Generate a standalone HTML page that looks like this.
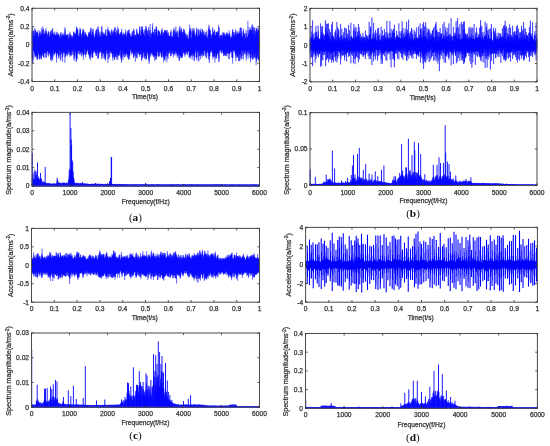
<!DOCTYPE html>
<html><head><meta charset="utf-8"><title>Vibration signals and spectra</title>
<style>html,body{margin:0;padding:0;background:#fff;}svg{display:block;}</style></head>
<body><svg width="550" height="446" viewBox="0 0 550 446" font-family="'Liberation Sans', Arial, sans-serif" fill="#333" stroke="#333" stroke-width="0.25">
<rect width="550" height="446" fill="#fff" stroke="none"/>
<path d="M32.12 30.91V58.69M32.38 33.10V60.19M32.62 26.64V63.57M32.88 31.46V62.35M33.12 30.40V59.52M33.38 30.85V51.16M33.62 35.66V50.61M33.88 36.83V50.72M34.12 36.47V50.82M34.38 35.80V53.00M34.62 31.13V54.48M34.88 27.88V57.50M35.12 29.41V54.64M35.38 33.94V55.69M35.62 30.07V55.81M35.88 31.34V56.64M36.12 32.44V57.56M36.38 31.97V55.87M36.62 34.30V55.19M36.88 33.05V56.77M37.12 31.86V59.95M37.38 32.83V59.25M37.62 32.75V59.15M37.88 30.34V58.64M38.12 37.07V52.27M38.38 35.75V52.41M38.62 37.78V54.30M38.88 36.76V54.39M39.12 33.37V55.58M39.38 30.77V59.45M39.62 33.89V59.09M39.88 33.06V57.14M40.12 32.58V54.99M40.38 35.10V54.62M40.62 35.45V56.72M40.88 32.81V58.27M41.12 31.20V59.51M41.38 27.98V59.03M41.62 36.31V54.71M41.88 33.76V54.70M42.12 33.76V51.75M42.38 34.57V55.66M42.62 29.95V53.67M42.88 26.31V53.01M43.12 29.07V56.50M43.38 28.66V57.32M43.62 32.50V57.64M43.88 34.12V54.07M44.12 35.57V53.57M44.38 34.55V52.69M44.62 33.55V50.59M44.88 30.63V53.72M45.12 33.71V57.91M45.38 34.05V53.00M45.62 32.58V51.72M45.88 28.07V52.91M46.12 30.69V56.88M46.38 30.97V57.86M46.62 31.43V53.36M46.88 34.38V51.12M47.12 35.70V51.55M47.38 37.80V50.28M47.62 34.79V50.43M47.88 33.13V54.83M48.12 33.79V51.85M48.38 32.29V56.65M48.62 30.96V53.32M48.88 32.00V54.21M49.12 35.77V51.43M49.38 36.21V50.36M49.62 37.44V53.05M49.88 37.22V54.66M50.12 33.94V55.76M50.38 31.59V52.97M50.62 31.13V59.07M50.88 33.97V59.98M51.12 32.32V61.48M51.38 29.94V58.71M51.62 34.20V56.11M51.88 37.42V53.08M52.12 32.93V54.27M52.38 29.41V60.48M52.62 27.96V59.61M52.88 31.35V57.33M53.12 34.23V49.49M53.38 35.23V50.44M53.62 33.91V55.55M53.88 36.27V53.04M54.12 32.82V53.86M54.38 34.15V53.52M54.62 34.22V55.21M54.88 31.57V52.37M55.12 34.61V51.96M55.38 35.41V52.33M55.62 35.78V52.62M55.88 34.70V49.98M56.12 35.30V54.07M56.38 33.57V57.96M56.62 31.71V62.58M56.88 34.26V55.78M57.12 35.04V53.78M57.38 35.18V52.52M57.62 32.26V53.66M57.88 36.29V53.65M58.12 35.95V51.82M58.38 34.34V55.71M58.62 33.61V57.74M58.88 33.67V58.81M59.12 35.72V56.60M59.38 37.64V54.71M59.62 36.63V50.79M59.88 38.75V49.96M60.12 36.84V50.13M60.38 34.95V55.35M60.62 32.23V60.77M60.88 33.76V59.37M61.12 37.41V54.50M61.38 39.19V51.43M61.62 35.34V53.30M61.88 32.30V51.50M62.12 37.08V53.65M62.38 34.86V57.37M62.62 35.26V61.68M62.88 33.71V56.45M63.12 36.01V51.55M63.38 35.38V50.86M63.62 34.45V53.08M63.88 35.27V53.64M64.12 32.73V51.85M64.38 35.18V51.02M64.62 35.36V53.03M64.88 27.14V62.83M65.12 28.97V56.78M65.38 31.60V57.33M65.62 35.58V54.12M65.88 36.50V50.59M66.12 34.86V55.46M66.38 35.00V54.47M66.62 34.79V53.29M66.88 36.13V52.32M67.12 37.76V54.22M67.38 34.53V56.36M67.62 34.76V51.97M67.88 33.94V53.82M68.12 34.36V54.47M68.38 36.75V52.70M68.62 39.11V48.81M68.88 39.11V49.05M69.12 38.27V51.14M69.38 38.16V52.07M69.62 33.14V54.47M69.88 31.68V56.73M70.12 34.34V54.53M70.38 36.22V51.81M70.62 35.33V55.52M70.88 34.72V54.71M71.12 35.58V56.33M71.38 35.69V55.25M71.62 37.95V52.15M71.88 38.03V51.87M72.12 38.36V50.47M72.38 36.80V50.79M72.62 38.32V55.07M72.88 35.10V51.44M73.12 36.32V48.97M73.38 36.42V50.92M73.62 32.14V53.54M73.88 31.45V58.88M74.12 33.02V60.79M74.38 32.72V55.29M74.62 34.11V57.75M74.88 34.34V53.37M75.12 35.90V50.35M75.38 35.64V51.91M75.62 33.16V50.66M75.88 34.33V56.87M76.12 31.11V61.92M76.38 26.46V59.96M76.62 27.24V61.33M76.88 30.07V58.72M77.12 29.24V59.00M77.38 28.56V54.66M77.62 28.87V52.62M77.88 30.48V50.55M78.12 33.93V50.42M78.38 36.11V54.12M78.62 37.20V50.37M78.88 35.79V51.09M79.12 35.23V51.03M79.38 37.14V50.39M79.62 32.82V53.89M79.88 27.83V55.17M80.12 30.59V52.65M80.38 28.96V51.89M80.62 29.70V52.89M80.88 35.51V51.62M81.12 34.02V54.88M81.38 34.07V56.43M81.62 37.69V52.84M81.88 37.45V52.19M82.12 36.99V51.86M82.38 32.27V52.54M82.62 32.30V52.93M82.88 29.00V54.83M83.12 29.00V56.46M83.38 31.31V59.71M83.62 30.16V54.63M83.88 31.41V54.37M84.12 31.52V53.63M84.38 35.21V54.62M84.62 37.04V49.05M84.88 35.61V48.57M85.12 32.83V49.98M85.38 33.37V54.62M85.62 32.40V57.29M85.88 34.12V54.71M86.12 36.52V51.18M86.38 36.12V51.76M86.62 35.18V54.18M86.88 35.00V51.87M87.12 36.27V49.94M87.38 37.03V48.83M87.62 37.39V50.21M87.88 37.86V50.79M88.12 38.21V52.02M88.38 33.05V54.12M88.62 35.19V53.75M88.88 32.74V55.34M89.12 31.90V54.62M89.38 31.66V58.84M89.62 34.75V56.88M89.88 33.73V56.67M90.12 34.40V54.08M90.38 31.50V55.73M90.62 28.27V60.43M90.88 29.48V57.22M91.12 27.43V53.90M91.38 33.93V52.24M91.62 34.29V50.03M91.88 35.81V54.52M92.12 36.47V57.32M92.38 31.43V57.95M92.62 31.40V56.57M92.88 28.80V57.55M93.12 28.79V52.81M93.38 33.25V52.55M93.62 34.41V51.07M93.88 38.75V49.79M94.12 36.93V50.58M94.38 37.75V51.40M94.62 36.36V51.19M94.88 37.66V51.37M95.12 33.20V53.19M95.38 35.24V53.47M95.62 30.61V53.75M95.88 33.56V52.07M96.12 31.19V56.02M96.38 29.08V56.18M96.62 30.38V54.19M96.88 28.79V52.35M97.12 34.29V49.71M97.38 35.47V48.68M97.62 35.27V52.93M97.88 26.81V58.84M98.12 26.44V58.53M98.38 29.69V58.01M98.62 29.99V57.33M98.88 31.79V53.83M99.12 33.16V54.04M99.38 36.76V52.03M99.62 37.26V51.11M99.88 35.82V51.86M100.12 31.68V51.30M100.38 34.49V52.95M100.62 36.27V52.01M100.88 39.47V49.69M101.12 36.60V50.27M101.38 31.84V51.29M101.62 27.12V59.09M101.88 25.82V56.04M102.12 34.29V52.39M102.38 36.17V52.30M102.62 31.45V54.75M102.88 33.31V58.16M103.12 32.73V54.07M103.38 35.01V52.61M103.62 34.50V52.35M103.88 32.73V54.11M104.12 34.93V58.69M104.38 35.92V52.59M104.62 34.41V56.31M104.88 34.98V58.30M105.12 32.92V58.70M105.38 33.10V60.59M105.62 30.35V59.86M105.88 29.06V56.39M106.12 35.46V49.33M106.38 36.79V49.31M106.62 36.96V51.18M106.88 36.02V53.85M107.12 36.18V53.24M107.38 34.90V51.87M107.62 29.34V54.48M107.88 26.81V63.07M108.12 29.63V58.61M108.38 32.64V53.08M108.62 31.82V50.93M108.88 30.90V59.23M109.12 30.10V57.55M109.38 32.88V52.24M109.62 34.32V49.84M109.88 31.69V56.70M110.12 32.56V52.97M110.38 34.49V51.53M110.62 35.37V50.96M110.88 35.63V53.09M111.12 35.65V51.83M111.38 30.50V53.40M111.62 29.26V52.04M111.88 31.32V52.33M112.12 35.92V54.11M112.38 34.37V56.31M112.62 32.16V57.93M112.88 33.72V60.75M113.12 29.90V52.91M113.38 33.10V53.98M113.62 30.85V56.29M113.88 32.19V57.72M114.12 34.67V53.90M114.38 32.11V59.62M114.62 28.12V59.77M114.88 27.75V57.38M115.12 26.83V55.78M115.38 32.38V57.22M115.62 32.43V56.37M115.88 34.16V53.05M116.12 36.60V53.99M116.38 35.41V54.78M116.62 29.64V57.72M116.88 31.66V60.03M117.12 34.45V55.03M117.38 34.10V52.69M117.62 26.51V56.53M117.88 31.20V59.99M118.12 32.90V53.19M118.38 29.49V56.26M118.62 28.61V55.13M118.88 32.98V54.33M119.12 33.82V55.91M119.38 35.03V54.99M119.62 36.86V53.26M119.88 34.11V51.98M120.12 34.13V49.01M120.38 36.33V50.63M120.62 32.84V57.14M120.88 32.47V58.85M121.12 32.07V55.26M121.38 31.98V60.73M121.62 28.61V62.81M121.88 31.68V58.42M122.12 37.22V50.03M122.38 37.80V50.32M122.62 34.03V54.46M122.88 35.63V59.85M123.12 35.51V56.81M123.38 32.67V55.34M123.62 34.41V53.59M123.88 34.70V53.15M124.12 37.06V49.58M124.38 35.44V53.91M124.62 33.82V57.39M124.88 33.70V56.95M125.12 34.94V53.31M125.38 32.34V54.52M125.62 29.40V55.23M125.88 33.37V56.46M126.12 35.65V54.46M126.38 37.92V53.47M126.62 36.86V51.63M126.88 35.53V51.88M127.12 31.67V54.33M127.38 31.00V57.74M127.62 33.81V55.22M127.88 34.15V54.42M128.12 32.32V57.22M128.38 29.97V58.85M128.62 32.77V59.89M128.88 29.81V54.63M129.12 29.96V56.41M129.38 33.21V54.04M129.62 33.77V59.28M129.88 34.18V55.55M130.12 33.80V52.47M130.38 35.83V49.13M130.62 37.41V49.13M130.88 36.18V51.17M131.12 37.26V49.70M131.38 36.62V49.81M131.62 36.02V54.69M131.88 31.84V53.52M132.12 35.42V51.94M132.38 33.59V52.81M132.62 31.08V53.27M132.88 36.12V49.84M133.12 35.97V52.52M133.38 31.86V56.81M133.62 28.62V58.10M133.88 29.74V54.94M134.12 30.63V56.84M134.38 35.29V54.42M134.62 36.24V49.83M134.88 36.61V52.24M135.12 34.60V56.10M135.38 34.91V61.81M135.62 34.83V55.01M135.88 36.68V51.47M136.12 39.29V50.66M136.38 34.97V52.98M136.62 28.70V58.20M136.88 29.61V56.87M137.12 31.76V58.32M137.38 34.31V51.12M137.62 33.95V52.29M137.88 32.97V54.07M138.12 36.42V50.42M138.38 34.02V52.66M138.62 34.70V54.24M138.88 34.79V51.95M139.12 35.91V51.89M139.38 31.23V54.74M139.62 26.65V56.94M139.88 26.54V54.90M140.12 29.94V54.41M140.38 35.87V54.92M140.62 35.20V53.40M140.88 36.49V52.19M141.12 35.98V49.36M141.38 31.15V53.34M141.62 26.97V61.02M141.88 28.68V59.49M142.12 26.65V57.19M142.38 26.00V58.38M142.62 29.54V57.12M142.88 31.96V56.21M143.12 33.13V51.24M143.38 33.15V51.89M143.62 35.07V52.87M143.88 34.27V53.63M144.12 29.30V57.87M144.38 30.63V58.78M144.62 36.39V56.24M144.88 37.51V51.58M145.12 36.11V51.25M145.38 34.46V56.26M145.62 26.30V59.48M145.88 29.07V55.79M146.12 25.95V59.05M146.38 28.08V59.25M146.62 31.72V58.84M146.88 29.65V55.51M147.12 30.99V51.15M147.38 30.62V53.59M147.62 35.57V51.89M147.88 35.38V51.61M148.12 37.04V53.52M148.38 34.23V56.55M148.62 27.01V59.02M148.88 29.48V61.35M149.12 30.09V64.05M149.38 32.32V60.47M149.62 37.55V53.26M149.88 33.70V53.79M150.12 23.77V57.33M150.38 29.97V55.62M150.62 39.05V52.77M150.88 38.41V53.24M151.12 36.84V53.95M151.38 33.54V52.32M151.62 34.47V53.71M151.88 33.01V51.15M152.12 32.26V56.24M152.38 26.56V54.72M152.62 23.25V54.05M152.88 31.83V53.59M153.12 31.84V53.62M153.38 33.11V54.86M153.62 32.36V56.14M153.88 34.55V57.64M154.12 35.27V57.05M154.38 35.02V55.79M154.62 29.09V56.03M154.88 29.23V60.27M155.12 28.92V60.57M155.38 32.35V55.87M155.62 33.77V55.10M155.88 32.46V55.42M156.12 26.16V59.02M156.38 27.17V59.25M156.62 27.00V56.10M156.88 29.46V56.87M157.12 33.22V51.90M157.38 35.81V49.68M157.62 36.33V51.92M157.88 36.41V51.82M158.12 31.01V54.51M158.38 30.02V56.41M158.62 30.06V56.38M158.88 31.75V53.67M159.12 31.04V56.74M159.38 31.93V56.11M159.62 31.99V51.81M159.88 35.78V51.24M160.12 36.17V52.53M160.38 35.43V51.58M160.62 34.77V53.28M160.88 32.98V52.02M161.12 35.57V55.45M161.38 29.86V57.02M161.62 30.62V57.75M161.88 30.57V56.56M162.12 28.20V57.36M162.38 31.85V54.78M162.62 35.96V49.94M162.88 34.62V51.01M163.12 36.73V53.67M163.38 33.51V56.55M163.62 32.35V62.24M163.88 33.40V58.40M164.12 32.70V57.01M164.38 30.03V59.62M164.62 31.25V60.12M164.88 29.93V57.09M165.12 31.00V60.51M165.38 31.55V56.15M165.62 30.46V54.93M165.88 30.87V53.16M166.12 31.43V50.81M166.38 32.47V50.95M166.62 35.60V56.23M166.88 30.15V62.23M167.12 29.83V58.71M167.38 33.45V56.36M167.62 35.41V52.40M167.88 33.97V53.28M168.12 31.91V58.93M168.38 32.98V54.47M168.62 36.21V50.39M168.88 36.74V52.32M169.12 36.14V53.36M169.38 35.85V53.24M169.62 36.13V50.73M169.88 37.92V49.74M170.12 34.98V49.36M170.38 33.69V52.88M170.62 31.92V56.44M170.88 31.63V55.43M171.12 29.59V56.05M171.38 36.63V51.00M171.62 38.86V52.85M171.88 36.20V53.16M172.12 36.73V53.37M172.38 38.20V51.30M172.62 36.72V49.87M172.88 35.47V53.91M173.12 31.98V54.26M173.38 30.27V57.46M173.62 30.48V54.72M173.88 27.75V54.29M174.12 35.78V51.20M174.38 34.31V52.21M174.62 30.93V53.92M174.88 28.80V55.75M175.12 32.54V52.85M175.38 37.24V50.93M175.62 32.84V50.44M175.88 26.43V53.65M176.12 31.40V54.51M176.38 32.38V52.03M176.62 36.42V52.45M176.88 35.20V53.21M177.12 32.12V57.56M177.38 30.62V56.31M177.62 33.15V55.29M177.88 36.85V55.11M178.12 37.69V51.49M178.38 38.71V51.85M178.62 36.78V54.93M178.88 32.58V58.91M179.12 30.04V60.69M179.38 27.31V60.66M179.62 30.21V56.04M179.88 26.04V52.87M180.12 34.01V56.19M180.38 32.94V55.40M180.62 29.95V57.98M180.88 32.42V53.86M181.12 27.62V55.67M181.38 28.75V58.38M181.62 29.59V56.83M181.88 32.02V57.52M182.12 32.38V55.84M182.38 31.59V57.78M182.62 33.75V56.12M182.88 36.28V49.69M183.12 34.89V49.98M183.38 31.74V52.45M183.62 28.74V52.93M183.88 29.29V52.93M184.12 30.70V54.59M184.38 32.70V53.06M184.62 30.12V54.23M184.88 33.41V56.76M185.12 38.04V52.23M185.38 35.61V52.70M185.62 33.16V55.02M185.88 33.45V50.81M186.12 37.41V52.38M186.38 34.92V53.25M186.62 36.35V51.48M186.88 38.17V52.71M187.12 37.35V54.11M187.38 34.99V55.20M187.62 34.64V51.62M187.88 38.61V52.20M188.12 39.25V50.90M188.38 39.31V50.61M188.62 38.69V51.40M188.88 37.06V51.57M189.12 32.32V57.39M189.38 31.07V56.77M189.62 24.62V56.41M189.88 29.07V54.85M190.12 31.77V58.59M190.38 29.58V57.58M190.62 28.00V55.14M190.88 31.13V56.03M191.12 37.22V55.17M191.38 37.80V53.33M191.62 38.27V54.72M191.88 31.47V56.14M192.12 29.09V59.68M192.38 33.32V55.14M192.62 34.41V53.04M192.88 29.96V52.30M193.12 27.68V56.78M193.38 30.96V54.38M193.62 32.65V54.62M193.88 32.45V55.90M194.12 28.24V60.84M194.38 30.45V60.77M194.62 34.34V56.65M194.88 37.09V52.74M195.12 36.41V49.13M195.38 35.60V52.78M195.62 35.54V49.78M195.88 34.75V51.33M196.12 32.66V57.36M196.38 31.77V58.40M196.62 27.72V57.69M196.88 28.64V60.55M197.12 30.20V56.69M197.38 35.67V50.42M197.62 36.78V50.26M197.88 37.65V51.99M198.12 36.19V51.61M198.38 32.65V53.14M198.62 28.98V60.42M198.88 29.37V61.62M199.12 35.08V56.30M199.38 35.78V55.41M199.62 35.09V49.52M199.88 30.76V56.16M200.12 32.29V53.35M200.38 32.44V54.73M200.62 30.31V59.38M200.88 28.32V55.83M201.12 32.54V52.15M201.38 32.47V55.84M201.62 34.50V53.00M201.88 34.97V54.60M202.12 32.36V53.16M202.38 29.15V57.34M202.62 29.66V54.81M202.88 36.58V50.98M203.12 36.65V50.96M203.38 33.99V53.95M203.62 31.53V56.04M203.88 30.85V55.78M204.12 33.44V51.41M204.38 34.34V50.21M204.62 35.64V49.94M204.88 35.39V51.33M205.12 35.00V53.59M205.38 31.97V55.32M205.62 35.11V57.33M205.88 36.78V52.19M206.12 38.57V51.80M206.38 38.15V52.75M206.62 32.23V58.48M206.88 30.10V56.40M207.12 35.31V51.74M207.38 37.16V52.62M207.62 38.46V49.61M207.88 37.48V51.02M208.12 38.70V52.55M208.38 33.61V53.73M208.62 28.12V58.93M208.88 24.68V56.17M209.12 29.00V60.73M209.38 26.45V62.94M209.62 31.44V55.35M209.88 29.64V56.31M210.12 34.11V52.72M210.38 30.09V52.39M210.62 33.27V51.80M210.88 37.51V50.68M211.12 39.02V50.30M211.38 38.60V49.29M211.62 35.43V51.03M211.88 34.65V52.17M212.12 34.54V52.80M212.38 33.26V53.16M212.62 27.15V56.17M212.88 29.16V59.47M213.12 34.16V57.10M213.38 31.73V57.00M213.62 32.22V55.61M213.88 36.74V54.13M214.12 35.21V56.76M214.38 30.69V53.56M214.62 29.52V56.23M214.88 32.23V62.80M215.12 35.44V57.10M215.38 36.48V53.42M215.62 34.94V53.19M215.88 34.84V59.02M216.12 31.70V58.15M216.38 32.63V55.88M216.62 31.88V58.27M216.88 33.13V56.34M217.12 33.50V54.54M217.38 31.44V53.67M217.62 31.73V52.84M217.88 34.55V51.23M218.12 34.03V52.74M218.38 31.90V54.03M218.62 24.84V58.43M218.88 27.23V61.80M219.12 27.97V61.77M219.38 36.39V51.44M219.62 38.60V50.72M219.88 38.15V51.59M220.12 37.57V49.17M220.38 35.19V50.03M220.62 34.97V50.38M220.88 36.00V50.67M221.12 35.32V53.06M221.38 35.08V53.41M221.62 39.31V49.96M221.88 37.29V49.03M222.12 32.86V52.34M222.38 35.43V52.43M222.62 37.88V50.18M222.88 36.46V50.29M223.12 32.20V52.76M223.38 33.52V55.66M223.62 35.12V54.48M223.88 32.43V56.08M224.12 32.83V53.41M224.38 34.76V51.16M224.62 34.99V55.49M224.88 34.04V55.23M225.12 33.87V53.95M225.38 35.98V55.29M225.62 35.96V55.80M225.88 36.63V52.41M226.12 35.92V51.47M226.38 34.04V53.25M226.62 32.73V55.35M226.88 33.40V56.45M227.12 32.41V52.98M227.38 36.69V51.34M227.62 33.53V54.24M227.88 35.69V53.11M228.12 35.12V52.72M228.38 35.86V51.10M228.62 34.00V53.08M228.88 35.90V59.21M229.12 30.40V59.01M229.38 33.91V53.85M229.62 32.92V53.53M229.88 34.59V54.10M230.12 36.26V52.34M230.38 39.00V50.92M230.62 37.96V51.69M230.88 36.95V51.84M231.12 37.50V52.57M231.38 38.12V51.66M231.62 36.73V51.64M231.88 36.26V57.12M232.12 33.86V57.67M232.38 30.97V58.34M232.62 28.98V63.56M232.88 30.16V57.72M233.12 31.98V50.93M233.38 37.40V49.22M233.62 35.52V51.19M233.88 32.28V50.09M234.12 32.59V51.27M234.38 34.72V50.95M234.62 38.38V49.94M234.88 37.02V52.28M235.12 34.33V53.34M235.38 32.51V54.62M235.62 29.38V56.62M235.88 32.03V61.17M236.12 30.55V57.92M236.38 34.45V52.72M236.62 35.85V54.99M236.88 34.58V54.68M237.12 33.62V56.42M237.38 31.52V57.89M237.62 34.83V56.53M237.88 33.28V52.66M238.12 33.79V52.23M238.38 33.52V57.17M238.62 33.53V61.42M238.88 30.95V59.89M239.12 33.78V54.65M239.38 33.31V55.09M239.62 32.10V61.15M239.88 28.23V60.62M240.12 36.03V52.52M240.38 33.75V54.30M240.62 27.24V58.33M240.88 28.04V55.28M241.12 35.08V50.96M241.38 32.78V50.45M241.62 28.05V59.20M241.88 31.32V58.61M242.12 35.64V56.14M242.38 38.42V49.92M242.62 38.04V51.51M242.88 36.18V50.55M243.12 32.43V55.44M243.38 30.76V59.46M243.62 28.77V53.50M243.88 34.58V49.56M244.12 33.82V50.19M244.38 34.74V54.18M244.62 33.20V53.66M244.88 38.52V50.75M245.12 38.40V51.72M245.38 36.69V51.52M245.62 38.83V50.05M245.88 32.94V54.94M246.12 30.00V57.88M246.38 33.87V60.32M246.62 38.05V53.11M246.88 36.93V50.83M247.12 37.98V53.20M247.38 38.45V51.82M247.62 36.30V50.99M247.88 20.75V55.80M248.12 30.21V58.80M248.38 35.44V53.83M248.62 33.67V49.85M248.88 33.73V50.75M249.12 27.01V52.72M249.38 32.60V50.33M249.62 30.25V54.08M249.88 30.40V57.22M250.12 30.57V54.48M250.38 30.03V59.26M250.62 28.21V62.25M250.88 29.22V58.25M251.12 30.14V53.63M251.38 25.32V58.00M251.62 30.74V55.31M251.88 35.01V50.11M252.12 30.90V51.33M252.38 26.54V58.31M252.62 24.31V59.99M252.88 28.07V58.70M253.12 30.31V56.82M253.38 33.17V54.32M253.62 35.60V53.05M253.88 26.94V59.02M254.12 27.13V57.31M254.38 29.40V57.37M254.62 29.23V56.94M254.88 36.31V53.87M255.12 35.38V51.19M255.38 33.29V54.45M255.62 31.32V58.12M255.88 31.05V58.91M256.12 27.88V65.19M256.38 28.03V62.01M256.62 28.39V58.88M256.88 32.35V58.82M257.12 31.58V57.95M257.38 29.54V53.04M257.62 32.53V55.05M257.88 30.86V57.31M258.12 27.35V59.78M258.38 28.44V60.84M258.62 29.89V59.01M258.88 34.33V51.13M259.12 34.82V49.53M259.38 35.12V52.44" stroke="#0000ff" stroke-width="0.620" fill="none"/>
<rect x="32.00" y="8.30" width="227.50" height="73.20" fill="none" stroke="#505050" stroke-width="1.05"/>
<path d="M32.00 81.50V79.30M32.00 8.30V10.50M54.75 81.50V79.30M54.75 8.30V10.50M77.50 81.50V79.30M77.50 8.30V10.50M100.25 81.50V79.30M100.25 8.30V10.50M123.00 81.50V79.30M123.00 8.30V10.50M145.75 81.50V79.30M145.75 8.30V10.50M168.50 81.50V79.30M168.50 8.30V10.50M191.25 81.50V79.30M191.25 8.30V10.50M214.00 81.50V79.30M214.00 8.30V10.50M236.75 81.50V79.30M236.75 8.30V10.50M259.50 81.50V79.30M259.50 8.30V10.50M32.00 81.50H34.20M259.50 81.50H257.30M32.00 63.20H34.20M259.50 63.20H257.30M32.00 44.90H34.20M259.50 44.90H257.30M32.00 26.60H34.20M259.50 26.60H257.30M32.00 8.30H34.20M259.50 8.30H257.30" stroke="#333" stroke-width="0.8" fill="none"/>
<text x="32.00" y="90.60" text-anchor="middle" font-size="6.70">0</text>
<text x="54.75" y="90.60" text-anchor="middle" font-size="6.70">0.1</text>
<text x="77.50" y="90.60" text-anchor="middle" font-size="6.70">0.2</text>
<text x="100.25" y="90.60" text-anchor="middle" font-size="6.70">0.3</text>
<text x="123.00" y="90.60" text-anchor="middle" font-size="6.70">0.4</text>
<text x="145.75" y="90.60" text-anchor="middle" font-size="6.70">0.5</text>
<text x="168.50" y="90.60" text-anchor="middle" font-size="6.70">0.6</text>
<text x="191.25" y="90.60" text-anchor="middle" font-size="6.70">0.7</text>
<text x="214.00" y="90.60" text-anchor="middle" font-size="6.70">0.8</text>
<text x="236.75" y="90.60" text-anchor="middle" font-size="6.70">0.9</text>
<text x="259.50" y="90.60" text-anchor="middle" font-size="6.70">1</text>
<text x="29.60" y="83.90" text-anchor="end" font-size="6.70">-0.4</text>
<text x="29.60" y="65.60" text-anchor="end" font-size="6.70">-0.2</text>
<text x="29.60" y="47.30" text-anchor="end" font-size="6.70">0</text>
<text x="29.60" y="29.00" text-anchor="end" font-size="6.70">0.2</text>
<text x="29.60" y="10.70" text-anchor="end" font-size="6.70">0.4</text>
<text x="144.95" y="99.30" text-anchor="middle" font-size="6.70">Time(t/s)</text>
<text transform="translate(12.60 44.90) rotate(-90)" text-anchor="middle" font-size="7.10">Acceleration(a/ms<tspan dy="-2.2" font-size="4.6">-2</tspan><tspan dy="2.2">)</tspan></text>
<path d="M32.17 178.79V186.50M32.50 175.45V186.50M32.83 174.64V186.50M33.17 179.99V186.50M33.50 178.59V186.50M33.83 172.21V186.50M34.17 179.45V186.50M34.50 178.77V186.50M34.84 169.52V186.50M35.17 171.34V186.50M35.50 173.96V186.50M35.84 172.45V186.50M36.17 170.94V186.50M36.50 175.04V186.50M36.84 179.39V186.50M37.17 176.78V186.50M37.50 177.53V186.50M37.84 178.52V186.50M38.17 177.02V186.50M38.50 178.54V186.50M38.84 176.49V186.50M39.17 180.73V186.50M39.51 178.85V186.50M39.84 179.32V186.50M40.17 180.06V186.50M40.51 178.82V186.50M40.84 180.74V186.50M41.17 178.21V186.50M41.51 178.73V186.50M41.84 182.52V186.50M42.17 181.41V186.50M42.51 182.27V186.50M42.84 183.20V186.50M43.17 180.63V186.50M43.51 182.04V186.50M43.84 183.08V186.50M44.18 181.75V186.50M44.51 182.98V186.50M44.84 181.97V186.50M45.18 183.18V186.50M45.51 183.74V186.50M45.84 183.26V186.50M46.18 183.13V186.50M46.51 183.38V186.50M46.84 182.90V186.50M47.18 182.89V186.50M47.51 183.52V186.50M47.84 183.72V186.50M48.18 183.44V186.50M48.51 182.99V186.50M48.85 183.62V186.50M49.18 183.10V186.50M49.51 183.66V186.50M49.85 183.79V186.50M50.18 183.44V186.50M50.51 183.44V186.50M50.85 183.70V186.50M51.18 183.84V186.50M51.51 183.99V186.50M51.85 183.97V186.50M52.18 184.02V186.50M52.52 183.49V186.50M52.85 183.48V186.50M53.18 183.72V186.50M53.52 183.36V186.50M53.85 183.54V186.50M54.18 184.02V186.50M54.52 183.54V186.50M54.85 183.55V186.50M55.18 183.88V186.50M55.52 183.59V186.50M55.85 183.94V186.50M56.18 183.74V186.50M56.52 183.54V186.50M56.85 182.30V186.50M57.19 180.40V186.50M57.52 181.23V186.50M57.85 179.98V186.50M58.19 182.59V186.50M58.52 182.61V186.50M58.85 183.32V186.50M59.19 182.62V186.50M59.52 182.59V186.50M59.85 183.07V186.50M60.19 183.34V186.50M60.52 183.11V186.50M60.85 182.78V186.50M61.19 183.58V186.50M61.52 183.79V186.50M61.86 182.98V186.50M62.19 183.44V186.50M62.52 182.70V186.50M62.86 182.80V186.50M63.19 182.81V186.50M63.52 182.85V186.50M63.86 182.63V186.50M64.19 182.91V186.50M64.52 182.57V186.50M64.86 183.42V186.50M65.19 182.92V186.50M65.52 183.40V186.50M65.86 183.09V186.50M66.19 182.85V186.50M66.53 182.61V186.50M66.86 183.00V186.50M67.19 183.63V186.50M67.53 183.23V186.50M67.86 183.58V186.50M68.19 180.45V186.50M68.53 181.52V186.50M68.86 179.15V186.50M69.19 176.66V186.50M69.53 178.60V186.50M69.86 168.61V186.50M70.19 170.14V186.50M70.53 175.73V186.50M70.86 171.63V186.50M71.20 176.93V186.50M71.53 170.41V186.50M71.86 174.78V186.50M72.20 177.61V186.50M72.53 176.37V186.50M72.86 171.00V186.50M73.20 172.01V186.50M73.53 177.56V186.50M73.86 178.33V186.50M74.20 181.42V186.50M74.53 183.00V186.50M74.86 182.93V186.50M75.20 183.09V186.50M75.53 182.82V186.50M75.87 183.73V186.50M76.20 183.70V186.50M76.53 183.18V186.50M76.87 182.73V186.50M77.20 182.90V186.50M77.53 183.15V186.50M77.87 183.86V186.50M78.20 182.97V186.50M78.53 183.34V186.50M78.87 183.59V186.50M79.20 183.25V186.50M79.53 183.66V186.50M79.87 183.34V186.50M80.20 183.31V186.50M80.54 182.98V186.50M80.87 183.48V186.50M81.20 183.51V186.50M81.54 183.34V186.50M81.87 183.59V186.50M82.20 183.80V186.50M82.54 183.79V186.50M82.87 183.52V186.50M83.20 183.95V186.50M83.54 183.35V186.50M83.87 183.41V186.50M84.20 183.83V186.50M84.54 183.59V186.50M84.87 183.73V186.50M85.21 183.36V186.50M85.54 184.05V186.50M85.87 183.75V186.50M86.21 183.85V186.50M86.54 183.62V186.50M86.87 183.63V186.50M87.21 183.87V186.50M87.54 184.19V186.50M87.87 183.67V186.50M88.21 184.07V186.50M88.54 184.16V186.50M88.88 183.86V186.50M89.21 184.12V186.50M89.54 184.16V186.50M89.88 184.07V186.50M90.21 183.95V186.50M90.54 184.12V186.50M90.88 183.99V186.50M91.21 183.73V186.50M91.54 184.06V186.50M91.88 184.11V186.50M92.21 184.03V186.50M92.54 183.75V186.50M92.88 183.84V186.50M93.21 183.99V186.50M93.55 183.73V186.50M93.88 183.84V186.50M94.21 183.87V186.50M94.55 184.04V186.50M94.88 184.14V186.50M95.21 183.90V186.50M95.55 183.93V186.50M95.88 183.87V186.50M96.21 184.09V186.50M96.55 183.76V186.50M96.88 184.12V186.50M97.21 183.72V186.50M97.55 183.75V186.50M97.88 184.18V186.50M98.22 184.19V186.50M98.55 183.68V186.50M98.88 183.79V186.50M99.22 184.01V186.50M99.55 184.18V186.50M99.88 184.28V186.50M100.22 184.16V186.50M100.55 183.71V186.50M100.88 183.93V186.50M101.22 184.03V186.50M101.55 183.89V186.50M101.88 183.80V186.50M102.22 184.11V186.50M102.55 183.90V186.50M102.89 184.13V186.50M103.22 184.03V186.50M103.55 184.32V186.50M103.89 184.30V186.50M104.22 184.08V186.50M104.55 184.27V186.50M104.89 183.90V186.50M105.22 184.29V186.50M105.55 183.79V186.50M105.89 184.20V186.50M106.22 184.25V186.50M106.55 184.15V186.50M106.89 184.03V186.50M107.22 183.81V186.50M107.56 183.87V186.50M107.89 183.93V186.50M108.22 183.97V186.50M108.56 183.92V186.50M108.89 184.04V186.50M109.22 184.19V186.50M109.56 183.84V186.50M109.89 184.01V186.50M110.22 183.85V186.50M110.56 184.34V186.50M110.89 184.17V186.50M111.22 184.27V186.50M111.56 184.11V186.50M111.89 184.01V186.50M112.23 184.22V186.50M112.56 184.02V186.50M112.89 184.28V186.50M113.23 184.10V186.50M113.56 184.11V186.50M113.89 184.17V186.50M114.23 184.31V186.50M114.56 184.00V186.50M114.89 183.86V186.50M115.23 183.90V186.50M115.56 184.38V186.50M115.89 184.08V186.50M116.23 184.16V186.50M116.56 184.11V186.50M116.90 184.33V186.50M117.23 184.05V186.50M117.56 184.24V186.50M117.90 183.93V186.50M118.23 184.46V186.50M118.56 184.20V186.50M118.90 184.16V186.50M119.23 183.99V186.50M119.56 184.07V186.50M119.90 184.40V186.50M120.23 184.27V186.50M120.56 184.07V186.50M120.90 184.23V186.50M121.23 184.34V186.50M121.57 184.01V186.50M121.90 184.08V186.50M122.23 184.34V186.50M122.57 184.24V186.50M122.90 184.03V186.50M123.23 184.42V186.50M123.57 184.06V186.50M123.90 184.09V186.50M124.23 184.18V186.50M124.57 184.18V186.50M124.90 184.22V186.50M125.23 184.29V186.50M125.57 184.29V186.50M125.90 184.45V186.50M126.24 184.30V186.50M126.57 184.25V186.50M126.90 184.36V186.50M127.24 184.26V186.50M127.57 184.37V186.50M127.90 184.22V186.50M128.24 184.27V186.50M128.57 184.57V186.50M128.90 184.25V186.50M129.24 184.49V186.50M129.57 184.59V186.50M129.91 184.58V186.50M130.24 184.48V186.50M130.57 184.39V186.50M130.91 184.48V186.50M131.24 184.54V186.50M131.57 184.27V186.50M131.91 184.46V186.50M132.24 184.22V186.50M132.57 184.52V186.50M132.91 184.31V186.50M133.24 184.47V186.50M133.57 184.24V186.50M133.91 184.33V186.50M134.24 184.32V186.50M134.58 184.60V186.50M134.91 184.28V186.50M135.24 184.47V186.50M135.58 184.29V186.50M135.91 184.24V186.50M136.24 184.59V186.50M136.58 184.64V186.50M136.91 184.28V186.50M137.24 184.18V186.50M137.58 184.21V186.50M137.91 184.44V186.50M138.24 184.25V186.50M138.58 184.63V186.50M138.91 184.62V186.50M139.25 184.37V186.50M139.58 184.39V186.50M139.91 184.25V186.50M140.25 184.54V186.50M140.58 184.43V186.50M140.91 184.17V186.50M141.25 184.50V186.50M141.58 184.45V186.50M141.91 184.36V186.50M142.25 184.17V186.50M142.58 184.56V186.50M142.91 184.32V186.50M143.25 184.45V186.50M143.58 184.46V186.50M143.92 184.53V186.50M144.25 184.43V186.50M144.58 184.38V186.50M144.92 184.46V186.50M145.25 184.41V186.50M145.58 184.35V186.50M145.92 184.24V186.50M146.25 184.38V186.50M146.58 184.47V186.50M146.92 184.19V186.50M147.25 184.57V186.50M147.58 184.63V186.50M147.92 184.22V186.50M148.25 184.53V186.50M148.59 184.58V186.50M148.92 184.47V186.50M149.25 184.49V186.50M149.59 184.48V186.50M149.92 184.25V186.50M150.25 184.52V186.50M150.59 184.59V186.50M150.92 184.55V186.50M151.25 184.20V186.50M151.59 184.45V186.50M151.92 184.48V186.50M152.25 184.29V186.50M152.59 184.21V186.50M152.92 184.41V186.50M153.26 184.27V186.50M153.59 184.53V186.50M153.92 184.49V186.50M154.26 184.38V186.50M154.59 184.54V186.50M154.92 184.53V186.50M155.26 184.57V186.50M155.59 184.53V186.50M155.92 184.26V186.50M156.26 184.28V186.50M156.59 184.60V186.50M156.92 184.49V186.50M157.26 184.32V186.50M157.59 184.25V186.50M157.93 184.39V186.50M158.26 184.31V186.50M158.59 184.55V186.50M158.93 184.29V186.50M159.26 184.27V186.50M159.59 184.47V186.50M159.93 184.55V186.50M160.26 184.64V186.50M160.59 184.36V186.50M160.93 184.36V186.50M161.26 184.66V186.50M161.59 184.41V186.50M161.93 184.22V186.50M162.26 184.65V186.50M162.60 184.60V186.50M162.93 184.63V186.50M163.26 184.46V186.50M163.60 184.48V186.50M163.93 184.25V186.50M164.26 184.63V186.50M164.60 184.57V186.50M164.93 184.22V186.50M165.26 184.65V186.50M165.60 184.54V186.50M165.93 184.48V186.50M166.27 184.66V186.50M166.60 184.53V186.50M166.93 184.38V186.50M167.27 184.37V186.50M167.60 184.38V186.50M167.93 184.36V186.50M168.27 184.38V186.50M168.60 184.65V186.50M168.93 184.36V186.50M169.27 184.39V186.50M169.60 184.56V186.50M169.93 184.47V186.50M170.27 184.55V186.50M170.60 184.26V186.50M170.94 184.54V186.50M171.27 184.59V186.50M171.60 184.29V186.50M171.94 184.31V186.50M172.27 184.27V186.50M172.60 184.35V186.50M172.94 184.47V186.50M173.27 184.44V186.50M173.60 184.41V186.50M173.94 184.39V186.50M174.27 184.23V186.50M174.60 184.54V186.50M174.94 184.31V186.50M175.27 184.66V186.50M175.61 184.58V186.50M175.94 184.23V186.50M176.27 184.55V186.50M176.61 184.43V186.50M176.94 184.24V186.50M177.27 184.36V186.50M177.61 184.44V186.50M177.94 184.34V186.50M178.27 184.21V186.50M178.61 184.23V186.50M178.94 184.59V186.50M179.27 184.61V186.50M179.61 184.54V186.50M179.94 184.60V186.50M180.28 184.32V186.50M180.61 184.28V186.50M180.94 184.61V186.50M181.28 184.64V186.50M181.61 184.52V186.50M181.94 184.35V186.50M182.28 184.31V186.50M182.61 184.46V186.50M182.94 184.38V186.50M183.28 184.25V186.50M183.61 184.26V186.50M183.94 184.62V186.50M184.28 184.34V186.50M184.61 184.31V186.50M184.95 184.25V186.50M185.28 184.48V186.50M185.61 184.60V186.50M185.95 184.46V186.50M186.28 184.50V186.50M186.61 184.49V186.50M186.95 184.30V186.50M187.28 184.37V186.50M187.61 184.36V186.50M187.95 184.37V186.50M188.28 184.61V186.50M188.61 184.65V186.50M188.95 184.49V186.50M189.28 184.28V186.50M189.62 184.38V186.50M189.95 184.31V186.50M190.28 184.39V186.50M190.62 184.31V186.50M190.95 184.22V186.50M191.28 184.35V186.50M191.62 184.28V186.50M191.95 184.23V186.50M192.28 184.34V186.50M192.62 184.30V186.50M192.95 184.64V186.50M193.28 184.66V186.50M193.62 184.25V186.50M193.95 184.57V186.50M194.29 184.54V186.50M194.62 184.62V186.50M194.95 184.39V186.50M195.29 184.67V186.50M195.62 184.31V186.50M195.95 184.54V186.50M196.29 184.34V186.50M196.62 184.26V186.50M196.95 184.36V186.50M197.29 184.49V186.50M197.62 184.39V186.50M197.95 184.29V186.50M198.29 184.35V186.50M198.62 184.57V186.50M198.96 184.68V186.50M199.29 184.28V186.50M199.62 184.40V186.50M199.96 184.66V186.50M200.29 184.43V186.50M200.62 184.41V186.50M200.96 184.55V186.50M201.29 184.28V186.50M201.62 184.58V186.50M201.96 184.62V186.50M202.29 184.54V186.50M202.62 184.53V186.50M202.96 184.28V186.50M203.29 184.38V186.50M203.63 184.63V186.50M203.96 184.51V186.50M204.29 184.64V186.50M204.63 184.36V186.50M204.96 184.29V186.50M205.29 184.65V186.50M205.63 184.46V186.50M205.96 184.58V186.50M206.29 184.56V186.50M206.63 184.35V186.50M206.96 184.24V186.50M207.30 184.56V186.50M207.63 184.44V186.50M207.96 184.55V186.50M208.30 184.66V186.50M208.63 184.41V186.50M208.96 184.62V186.50M209.30 184.37V186.50M209.63 184.35V186.50M209.96 184.63V186.50M210.30 184.42V186.50M210.63 184.60V186.50M210.96 184.34V186.50M211.30 184.56V186.50M211.63 184.38V186.50M211.97 184.40V186.50M212.30 184.43V186.50M212.63 184.59V186.50M212.97 184.31V186.50M213.30 184.53V186.50M213.63 184.34V186.50M213.97 184.48V186.50M214.30 184.49V186.50M214.63 184.37V186.50M214.97 184.54V186.50M215.30 184.34V186.50M215.63 184.49V186.50M215.97 184.36V186.50M216.30 184.38V186.50M216.64 184.26V186.50M216.97 184.51V186.50M217.30 184.54V186.50M217.64 184.24V186.50M217.97 184.46V186.50M218.30 184.51V186.50M218.64 184.38V186.50M218.97 184.58V186.50M219.30 184.26V186.50M219.64 184.35V186.50M219.97 184.40V186.50M220.30 184.57V186.50M220.64 184.33V186.50M220.97 184.28V186.50M221.31 184.34V186.50M221.64 184.28V186.50M221.97 184.66V186.50M222.31 184.36V186.50M222.64 184.30V186.50M222.97 184.48V186.50M223.31 184.66V186.50M223.64 184.45V186.50M223.97 184.59V186.50M224.31 184.69V186.50M224.64 184.27V186.50M224.97 184.32V186.50M225.31 184.41V186.50M225.64 184.36V186.50M225.98 184.40V186.50M226.31 184.49V186.50M226.64 184.65V186.50M226.98 184.57V186.50M227.31 184.47V186.50M227.64 184.44V186.50M227.98 184.57V186.50M228.31 184.65V186.50M228.64 184.55V186.50M228.98 184.62V186.50M229.31 184.28V186.50M229.64 184.60V186.50M229.98 184.53V186.50M230.31 184.46V186.50M230.65 184.59V186.50M230.98 184.48V186.50M231.31 184.45V186.50M231.65 184.68V186.50M231.98 184.27V186.50M232.31 184.46V186.50M232.65 184.64V186.50M232.98 184.26V186.50M233.31 184.63V186.50M233.65 184.38V186.50M233.98 184.49V186.50M234.31 184.59V186.50M234.65 184.54V186.50M234.98 184.49V186.50M235.32 184.54V186.50M235.65 184.60V186.50M235.98 184.52V186.50M236.32 184.51V186.50M236.65 184.40V186.50M236.98 184.62V186.50M237.32 184.69V186.50M237.65 184.33V186.50M237.98 184.68V186.50M238.32 184.42V186.50M238.65 184.46V186.50M238.98 184.27V186.50M239.32 184.63V186.50M239.65 184.31V186.50M239.99 184.65V186.50M240.32 184.63V186.50M240.65 184.42V186.50M240.99 184.64V186.50M241.32 184.45V186.50M241.65 184.41V186.50M241.99 184.66V186.50M242.32 184.36V186.50M242.65 184.52V186.50M242.99 184.28V186.50M243.32 184.71V186.50M243.66 184.68V186.50M243.99 184.43V186.50M244.32 184.60V186.50M244.66 184.53V186.50M244.99 184.30V186.50M245.32 184.56V186.50M245.66 184.69V186.50M245.99 184.65V186.50M246.32 184.46V186.50M246.66 184.37V186.50M246.99 184.37V186.50M247.32 184.50V186.50M247.66 184.61V186.50M247.99 184.66V186.50M248.33 184.62V186.50M248.66 184.63V186.50M248.99 184.31V186.50M249.33 184.53V186.50M249.66 184.67V186.50M249.99 184.43V186.50M250.33 184.51V186.50M250.66 184.71V186.50M250.99 184.28V186.50M251.33 184.29V186.50M251.66 184.60V186.50M251.99 184.34V186.50M252.33 184.51V186.50M252.66 184.42V186.50M253.00 184.43V186.50M253.33 184.39V186.50M253.66 184.52V186.50M254.00 184.66V186.50M254.33 184.36V186.50M254.66 184.52V186.50M255.00 184.52V186.50M255.33 184.38V186.50M255.66 184.41V186.50M256.00 184.28V186.50M256.33 184.55V186.50M256.66 184.44V186.50M257.00 184.69V186.50M257.33 184.67V186.50M257.67 184.61V186.50M258.00 184.60V186.50M258.33 184.52V186.50M258.67 184.62V186.50M259.00 184.30V186.50M259.33 184.53V186.50" stroke="#0000ff" stroke-width="0.700" fill="none"/><path d="M32.30 152.70V186.00M37.50 162.50V186.00M40.50 173.00V186.00M45.20 166.90V186.00M57.20 177.80V186.00M69.20 170.20V186.00M70.10 112.40V186.00M70.90 128.00V186.00M71.20 139.50V186.00M71.60 145.00V186.00M72.10 160.00V186.00M72.70 162.00V186.00M73.80 179.50V186.00M82.40 182.00V186.00M95.50 183.00V186.00M107.50 183.50V186.00M109.50 181.00V186.00M110.50 178.00V186.00M111.20 157.10V186.00M111.60 157.10V186.00M145.60 183.00V186.00" stroke="#0000ff" stroke-width="0.900" fill="none"/>
<rect x="32.00" y="112.40" width="227.50" height="73.60" fill="none" stroke="#505050" stroke-width="1.05"/>
<path d="M32.00 186.00V183.80M32.00 112.40V114.60M69.92 186.00V183.80M69.92 112.40V114.60M107.83 186.00V183.80M107.83 112.40V114.60M145.75 186.00V183.80M145.75 112.40V114.60M183.67 186.00V183.80M183.67 112.40V114.60M221.58 186.00V183.80M221.58 112.40V114.60M259.50 186.00V183.80M259.50 112.40V114.60M32.00 186.00H34.20M259.50 186.00H257.30M32.00 167.60H34.20M259.50 167.60H257.30M32.00 149.20H34.20M259.50 149.20H257.30M32.00 130.80H34.20M259.50 130.80H257.30M32.00 112.40H34.20M259.50 112.40H257.30" stroke="#333" stroke-width="0.8" fill="none"/>
<text x="32.00" y="195.10" text-anchor="middle" font-size="6.70">0</text>
<text x="69.92" y="195.10" text-anchor="middle" font-size="6.70">1000</text>
<text x="107.83" y="195.10" text-anchor="middle" font-size="6.70">2000</text>
<text x="145.75" y="195.10" text-anchor="middle" font-size="6.70">3000</text>
<text x="183.67" y="195.10" text-anchor="middle" font-size="6.70">4000</text>
<text x="221.58" y="195.10" text-anchor="middle" font-size="6.70">5000</text>
<text x="259.50" y="195.10" text-anchor="middle" font-size="6.70">6000</text>
<text x="29.60" y="188.40" text-anchor="end" font-size="6.70">0</text>
<text x="29.60" y="170.00" text-anchor="end" font-size="6.70">0.01</text>
<text x="29.60" y="151.60" text-anchor="end" font-size="6.70">0.02</text>
<text x="29.60" y="133.20" text-anchor="end" font-size="6.70">0.03</text>
<text x="29.60" y="114.80" text-anchor="end" font-size="6.70">0.04</text>
<text x="145.75" y="203.80" text-anchor="middle" font-size="6.70">Frequency(f/Hz)</text>
<text transform="translate(10.80 150.00) rotate(-90)" text-anchor="middle" font-size="7.10">Spectrum magnitude(a/ms<tspan dy="-2.2" font-size="4.6">-2</tspan><tspan dy="2.2">)</tspan></text>
<path d="M310.12 39.34V52.91M310.38 38.52V50.34M310.62 39.34V50.63M310.88 26.83V58.22M311.12 36.53V56.79M311.38 37.44V50.05M311.62 40.00V48.09M311.88 31.64V57.12M312.12 37.67V51.39M312.38 39.06V48.93M312.62 20.37V66.30M312.88 34.35V57.15M313.12 40.28V51.71M313.38 39.23V51.90M313.62 40.25V51.42M313.88 33.72V54.75M314.12 37.86V53.63M314.38 42.07V50.82M314.62 39.38V49.87M314.88 40.21V50.04M315.12 32.28V62.67M315.38 37.32V54.99M315.62 37.18V51.38M315.88 25.95V56.00M316.12 31.76V58.90M316.38 39.67V49.65M316.62 32.38V51.79M316.88 35.59V53.21M317.12 38.27V49.33M317.38 41.06V53.00M317.62 38.06V55.27M317.88 36.54V52.02M318.12 25.37V50.57M318.38 31.38V57.27M318.62 39.20V50.73M318.88 42.64V53.41M319.12 39.24V48.59M319.38 38.42V54.02M319.62 39.30V54.19M319.88 39.78V52.70M320.12 39.91V51.26M320.38 40.07V50.57M320.62 23.45V66.70M320.88 37.56V52.19M321.12 35.24V49.30M321.38 39.69V49.93M321.62 26.69V65.90M321.88 32.02V59.90M322.12 37.49V51.69M322.38 38.07V49.75M322.62 25.98V53.73M322.88 33.04V60.30M323.12 41.37V55.40M323.38 38.99V48.98M323.62 34.25V51.60M323.88 39.89V51.10M324.12 41.74V51.93M324.38 35.16V54.90M324.62 41.05V50.32M324.88 36.26V50.76M325.12 40.44V50.93M325.38 20.15V50.89M325.62 27.75V66.09M325.88 33.51V52.65M326.12 40.53V51.57M326.38 35.98V49.41M326.62 23.62V60.08M326.88 31.15V58.86M327.12 39.37V50.69M327.38 34.66V50.73M327.62 23.86V58.06M327.88 32.79V57.93M328.12 37.95V51.66M328.38 23.32V51.92M328.62 36.22V62.38M328.88 34.57V50.59M329.12 41.42V50.49M329.38 38.65V50.97M329.62 29.09V59.64M329.88 39.58V54.81M330.12 42.16V52.62M330.38 31.90V59.26M330.62 37.87V52.74M330.88 39.65V53.74M331.12 43.23V52.78M331.38 41.78V52.02M331.62 24.48V62.73M331.88 35.26V52.47M332.12 41.59V50.59M332.38 21.76V59.65M332.62 34.32V60.32M332.88 40.15V52.37M333.12 40.04V51.45M333.38 36.32V50.24M333.62 36.43V62.37M333.88 38.34V51.41M334.12 38.52V50.16M334.38 39.48V52.41M334.62 41.30V50.45M334.88 32.04V57.41M335.12 40.79V56.30M335.38 40.35V52.18M335.62 29.70V61.12M335.88 33.00V55.61M336.12 38.62V56.05M336.38 42.61V49.94M336.62 40.79V50.28M336.88 22.00V62.46M337.12 36.12V53.59M337.38 40.86V50.57M337.62 27.07V59.04M337.88 34.16V51.07M338.12 37.24V51.22M338.38 38.54V51.03M338.62 28.87V47.78M338.88 30.73V56.62M339.12 38.60V52.17M339.38 40.62V50.99M339.62 37.22V50.81M339.88 40.32V52.83M340.12 41.96V53.15M340.38 39.57V48.78M340.62 23.86V64.44M340.88 36.81V58.89M341.12 40.28V53.96M341.38 35.10V50.40M341.62 41.51V49.66M341.88 28.83V55.14M342.12 39.26V55.33M342.38 39.55V50.39M342.62 40.61V49.38M342.88 35.53V56.11M343.12 39.69V49.74M343.38 41.24V50.74M343.62 32.39V55.11M343.88 37.28V51.03M344.12 38.42V53.13M344.38 41.19V50.96M344.62 27.61V60.42M344.88 38.14V57.06M345.12 40.44V53.55M345.38 39.57V51.28M345.62 38.97V48.81M345.88 28.06V54.97M346.12 38.50V49.79M346.38 29.06V54.46M346.62 37.00V61.54M346.88 39.99V52.36M347.12 37.70V50.90M347.38 33.50V52.86M347.62 40.57V52.51M347.88 41.12V49.27M348.12 41.11V51.37M348.38 41.86V51.08M348.62 24.76V56.94M348.88 35.41V49.48M349.12 42.62V55.27M349.38 39.99V50.11M349.62 30.39V55.94M349.88 38.05V52.00M350.12 42.60V50.42M350.38 40.56V49.81M350.62 40.69V52.66M350.88 22.72V63.32M351.12 36.74V52.67M351.38 36.77V48.46M351.62 35.93V54.56M351.88 37.73V50.50M352.12 38.91V50.22M352.38 42.29V51.12M352.62 38.26V55.81M352.88 39.33V53.00M353.12 37.72V51.22M353.38 30.84V63.20M353.62 38.03V50.95M353.88 24.03V52.54M354.12 29.30V59.00M354.38 38.24V52.28M354.62 38.13V51.40M354.88 39.70V50.51M355.12 27.21V64.22M355.38 31.61V58.67M355.62 41.41V53.36M355.88 37.91V50.28M356.12 27.43V55.66M356.38 35.99V56.88M356.62 37.73V51.13M356.88 38.17V48.19M357.12 42.83V48.50M357.38 31.55V52.00M357.62 35.00V57.95M357.88 40.40V51.00M358.12 39.78V50.87M358.38 23.92V62.35M358.62 35.32V51.48M358.88 36.78V51.37M359.12 27.12V53.77M359.38 31.08V59.32M359.62 40.36V52.73M359.88 39.16V48.23M360.12 41.31V49.98M360.38 37.81V48.84M360.62 33.64V53.93M360.88 40.28V53.45M361.12 39.93V49.99M361.38 42.88V50.89M361.62 36.30V55.00M361.88 37.62V53.93M362.12 38.80V47.51M362.38 41.86V50.88M362.62 42.21V49.46M362.88 32.75V56.69M363.12 37.40V50.31M363.38 36.60V52.28M363.62 38.24V56.55M363.88 42.76V51.25M364.12 38.03V48.92M364.38 40.03V54.93M364.62 36.76V49.72M364.88 42.34V51.26M365.12 37.97V48.10M365.38 30.56V59.03M365.62 39.38V54.71M365.88 42.10V51.76M366.12 42.40V49.62M366.38 41.55V51.39M366.62 34.74V53.56M366.88 37.46V49.24M367.12 36.01V49.44M367.38 37.95V49.49M367.62 39.38V52.65M367.88 39.29V50.33M368.12 35.60V56.19M368.38 39.47V51.18M368.62 39.98V46.76M368.88 40.61V49.23M369.12 21.71V59.16M369.38 34.37V56.62M369.62 37.61V51.18M369.88 34.89V50.96M370.12 38.22V51.34M370.38 26.40V59.15M370.62 28.10V53.79M370.88 39.43V48.11M371.12 41.25V54.64M371.38 40.72V55.36M371.62 39.77V49.85M371.88 17.38V65.12M372.12 38.43V52.95M372.38 37.88V50.33M372.62 41.28V49.56M372.88 34.24V51.90M373.12 39.93V52.61M373.38 38.41V49.78M373.62 22.83V61.36M373.88 32.11V55.71M374.12 40.83V51.35M374.38 41.27V52.86M374.62 38.65V49.94M374.88 34.33V56.49M375.12 38.59V51.75M375.38 33.50V49.01M375.62 29.94V59.50M375.88 37.00V49.60M376.12 42.13V49.18M376.38 42.10V48.92M376.62 39.98V49.82M376.88 32.74V55.54M377.12 41.28V50.33M377.38 39.38V50.42M377.62 28.38V60.73M377.88 34.92V50.89M378.12 39.04V52.27M378.38 37.44V49.52M378.62 27.87V56.14M378.88 35.32V53.16M379.12 39.97V49.55M379.38 41.20V48.83M379.62 41.01V49.59M379.88 33.87V54.95M380.12 39.14V48.06M380.38 40.49V50.72M380.62 40.87V52.64M380.88 40.20V52.60M381.12 26.72V63.87M381.38 35.67V59.25M381.62 38.38V50.33M381.88 40.05V50.59M382.12 41.77V49.81M382.38 30.22V63.73M382.62 36.27V54.26M382.88 39.95V52.38M383.12 39.46V49.77M383.38 35.23V53.20M383.62 41.97V54.68M383.88 36.13V48.77M384.12 40.54V50.58M384.38 29.09V56.19M384.62 34.07V52.54M384.88 40.16V52.56M385.12 37.12V51.93M385.38 38.19V49.42M385.62 40.70V51.04M385.88 32.15V60.40M386.12 37.89V51.97M386.38 39.99V48.81M386.62 42.52V48.48M386.88 20.93V60.66M387.12 32.29V51.01M387.38 35.66V51.43M387.62 38.42V54.39M387.88 40.26V46.73M388.12 41.65V47.40M388.38 37.99V50.95M388.62 39.58V52.75M388.88 33.16V52.19M389.12 38.24V54.12M389.38 38.84V51.38M389.62 39.98V50.72M389.88 20.97V49.56M390.12 32.78V59.60M390.38 38.91V51.96M390.62 37.63V50.84M390.88 40.39V49.70M391.12 28.82V67.49M391.38 37.07V50.95M391.62 41.10V50.27M391.88 39.06V51.07M392.12 33.61V51.18M392.38 41.69V50.53M392.62 30.15V51.61M392.88 32.19V59.07M393.12 40.08V50.98M393.38 33.09V56.47M393.62 28.67V59.48M393.88 39.40V53.92M394.12 41.23V51.31M394.38 24.73V67.28M394.62 32.69V60.30M394.88 40.56V50.77M395.12 40.36V51.39M395.38 36.77V52.98M395.62 39.15V53.50M395.88 41.17V50.32M396.12 39.83V48.80M396.38 37.97V48.41M396.62 30.76V54.07M396.88 37.09V48.43M397.12 40.19V49.79M397.38 34.88V58.62M397.62 36.01V49.56M397.88 36.96V52.07M398.12 40.65V50.21M398.38 38.07V51.31M398.62 37.18V50.30M398.88 23.27V59.47M399.12 37.29V51.74M399.38 37.78V47.82M399.62 40.30V49.77M399.88 31.43V51.70M400.12 37.98V49.43M400.38 38.46V53.22M400.62 39.03V50.36M400.88 41.74V49.84M401.12 33.28V53.54M401.38 30.89V56.89M401.62 39.08V48.79M401.88 39.95V48.72M402.12 21.18V58.02M402.38 38.29V49.74M402.62 40.15V53.21M402.88 28.18V59.80M403.12 34.34V53.57M403.38 35.71V47.53M403.62 40.39V48.02M403.88 38.05V52.30M404.12 32.69V54.41M404.38 38.58V50.91M404.62 37.22V49.87M404.88 41.60V48.73M405.12 28.44V56.04M405.38 35.79V54.67M405.62 38.05V49.57M405.88 35.63V48.81M406.12 31.58V52.31M406.38 37.33V46.62M406.62 21.83V60.47M406.88 33.03V60.96M407.12 36.98V51.28M407.38 29.60V52.68M407.62 34.15V56.59M407.88 42.62V54.71M408.12 40.27V48.99M408.38 39.61V51.17M408.62 19.66V51.18M408.88 32.55V58.82M409.12 34.99V51.10M409.38 38.91V50.47M409.62 38.51V49.33M409.88 33.21V55.44M410.12 37.16V51.78M410.38 40.25V48.96M410.62 31.29V55.41M410.88 39.08V53.80M411.12 38.62V46.40M411.38 42.09V48.20M411.62 27.97V57.85M411.88 29.15V52.29M412.12 38.74V55.32M412.38 40.41V49.73M412.62 35.18V47.00M412.88 33.78V58.73M413.12 39.69V49.56M413.38 39.47V54.21M413.62 41.28V52.54M413.88 39.82V47.67M414.12 30.01V54.04M414.38 41.68V51.80M414.62 38.14V50.82M414.88 40.86V48.76M415.12 31.80V50.63M415.38 34.51V54.06M415.62 40.70V52.45M415.88 39.46V49.99M416.12 37.72V50.60M416.38 27.43V58.99M416.62 37.80V54.06M416.88 39.54V55.40M417.12 39.04V54.59M417.38 37.30V54.26M417.62 38.95V53.84M417.88 39.98V51.69M418.12 40.40V50.42M418.38 26.42V56.76M418.62 38.56V55.51M418.88 38.51V52.99M419.12 37.42V49.44M419.38 35.03V51.36M419.62 39.12V52.15M419.88 37.87V50.28M420.12 23.42V56.24M420.38 28.92V62.78M420.62 36.63V50.21M420.88 29.43V56.76M421.12 33.80V52.49M421.38 38.33V50.43M421.62 39.98V50.76M421.88 28.00V58.02M422.12 36.86V53.08M422.38 38.13V55.44M422.62 40.35V50.24M422.88 24.18V63.54M423.12 31.17V59.30M423.38 36.71V55.61M423.62 21.97V68.90M423.88 30.73V57.53M424.12 36.28V47.56M424.38 40.45V53.88M424.62 26.30V61.82M424.88 35.71V59.22M425.12 40.06V53.88M425.38 36.67V51.11M425.62 22.30V62.78M425.88 36.40V54.86M426.12 37.10V53.76M426.38 39.65V52.71M426.62 38.84V50.53M426.88 27.45V60.44M427.12 32.46V56.07M427.38 38.80V50.82M427.62 42.33V50.70M427.88 40.96V47.89M428.12 31.28V58.06M428.38 29.25V53.07M428.62 42.07V50.93M428.88 40.18V48.29M429.12 28.90V62.08M429.38 40.13V50.93M429.62 36.90V53.20M429.88 31.30V50.56M430.12 34.12V60.73M430.38 39.49V46.75M430.62 40.12V49.36M430.88 36.35V47.20M431.12 33.23V58.79M431.38 34.46V56.78M431.62 39.88V51.02M431.88 39.72V49.35M432.12 42.67V48.60M432.38 29.97V56.21M432.62 30.64V53.05M432.88 37.05V52.89M433.12 36.95V46.99M433.38 37.42V52.54M433.62 27.70V60.85M433.88 41.19V52.33M434.12 40.36V49.97M434.38 37.15V52.32M434.62 40.32V50.81M434.88 26.26V59.95M435.12 38.52V50.66M435.38 41.83V51.32M435.62 24.05V55.95M435.88 35.88V47.36M436.12 21.89V61.40M436.38 30.65V52.51M436.62 41.60V51.04M436.88 29.58V58.29M437.12 36.12V54.92M437.38 41.39V50.43M437.62 40.82V50.79M437.88 31.79V63.66M438.12 32.15V60.48M438.38 35.90V53.33M438.62 41.41V48.80M438.88 41.36V49.13M439.12 40.19V48.71M439.38 31.99V71.18M439.62 37.17V55.51M439.88 40.54V50.86M440.12 28.01V59.55M440.38 36.44V54.74M440.62 33.61V49.85M440.88 38.55V48.91M441.12 40.14V50.81M441.38 33.28V52.60M441.62 33.59V55.70M441.88 38.49V49.05M442.12 40.16V48.51M442.38 38.74V50.53M442.62 40.17V49.60M442.88 24.44V59.07M443.12 33.71V53.27M443.38 37.89V51.97M443.62 36.76V51.97M443.88 38.96V48.52M444.12 21.85V62.42M444.38 39.39V49.76M444.62 38.79V48.85M444.88 34.92V53.52M445.12 36.84V55.55M445.38 38.78V49.57M445.62 29.74V62.94M445.88 27.01V56.09M446.12 39.75V53.28M446.38 36.42V56.44M446.62 42.02V52.92M446.88 31.99V53.61M447.12 36.79V50.68M447.38 36.26V52.28M447.62 39.12V50.62M447.88 28.03V54.78M448.12 38.73V57.02M448.38 38.50V51.42M448.62 34.90V47.12M448.88 23.30V59.53M449.12 36.76V57.94M449.38 41.67V49.24M449.62 43.13V51.92M449.88 34.46V52.67M450.12 33.47V50.11M450.38 36.37V51.26M450.62 39.16V49.47M450.88 39.89V51.79M451.12 18.09V65.41M451.38 36.16V52.90M451.62 39.12V51.25M451.88 36.12V54.57M452.12 36.69V55.43M452.38 41.05V49.77M452.62 41.47V52.33M452.88 40.56V49.42M453.12 39.55V52.51M453.38 26.92V64.08M453.62 36.81V53.99M453.88 35.65V49.69M454.12 32.77V52.59M454.38 35.09V48.56M454.62 40.95V48.34M454.88 35.86V51.70M455.12 41.56V48.56M455.38 35.43V56.03M455.62 32.62V54.91M455.88 39.37V53.47M456.12 21.29V49.56M456.38 27.81V63.26M456.62 35.68V51.70M456.88 38.87V50.46M457.12 40.35V49.19M457.38 38.60V47.86M457.62 18.08V61.64M457.88 39.62V52.17M458.12 38.93V48.25M458.38 27.30V52.80M458.62 33.65V57.84M458.88 38.55V48.69M459.12 35.01V51.29M459.38 37.88V50.72M459.62 41.13V52.74M459.88 23.92V60.69M460.12 34.03V55.10M460.38 41.38V50.59M460.62 40.03V51.57M460.88 39.40V48.09M461.12 39.60V48.14M461.38 22.02V59.94M461.62 38.58V50.91M461.88 39.30V54.04M462.12 38.10V51.97M462.38 39.15V50.45M462.62 24.29V60.74M462.88 36.97V58.00M463.12 41.50V54.29M463.38 21.71V47.52M463.62 29.83V64.07M463.88 39.42V51.63M464.12 42.04V52.65M464.38 21.29V62.79M464.62 28.52V61.59M464.88 38.64V52.63M465.12 36.91V51.65M465.38 33.64V57.25M465.62 33.68V54.18M465.88 41.21V58.17M466.12 34.61V56.06M466.38 38.14V53.10M466.62 39.05V46.90M466.88 34.64V49.92M467.12 41.43V50.13M467.38 33.37V53.27M467.62 37.57V52.35M467.88 40.90V51.68M468.12 36.53V53.07M468.38 38.94V50.59M468.62 41.69V48.94M468.88 27.79V55.93M469.12 36.58V53.13M469.38 38.59V52.17M469.62 40.79V50.11M469.88 26.73V60.99M470.12 37.64V53.88M470.38 37.76V50.11M470.62 41.66V49.04M470.88 28.94V63.99M471.12 34.40V52.61M471.38 38.43V52.98M471.62 37.15V48.36M471.88 27.36V67.69M472.12 38.11V57.06M472.38 38.73V47.84M472.62 41.54V51.05M472.88 28.06V62.44M473.12 35.05V52.66M473.38 39.78V51.40M473.62 38.94V52.27M473.88 42.10V50.39M474.12 24.00V53.70M474.38 39.93V54.82M474.62 38.74V47.60M474.88 41.97V50.15M475.12 39.22V50.95M475.38 35.98V64.82M475.62 32.66V51.89M475.88 40.11V49.70M476.12 39.54V46.88M476.38 38.12V51.61M476.62 27.36V55.50M476.88 32.58V50.29M477.12 38.84V51.52M477.38 38.28V50.32M477.62 37.17V56.93M477.88 39.25V52.44M478.12 37.48V51.01M478.38 40.12V49.07M478.62 34.14V51.61M478.88 36.97V55.54M479.12 35.67V51.42M479.38 39.62V53.89M479.62 27.68V57.18M479.88 36.49V56.33M480.12 36.56V48.26M480.38 40.25V49.32M480.62 20.10V60.56M480.88 25.51V57.74M481.12 38.80V56.55M481.38 39.28V49.55M481.62 38.63V51.81M481.88 26.49V61.88M482.12 32.17V52.64M482.38 40.81V54.17M482.62 35.61V56.06M482.88 38.51V52.10M483.12 39.41V51.23M483.38 40.86V53.30M483.62 39.70V52.19M483.88 32.19V62.62M484.12 37.59V55.86M484.38 35.87V48.98M484.62 36.84V49.41M484.88 41.38V47.93M485.12 21.63V67.99M485.38 34.55V57.40M485.62 36.89V52.24M485.88 39.90V49.31M486.12 35.96V50.56M486.38 27.00V58.90M486.62 37.98V53.55M486.88 23.42V49.47M487.12 30.95V67.63M487.38 38.16V56.14M487.62 40.26V50.96M487.88 40.69V49.22M488.12 29.82V59.66M488.38 34.81V51.69M488.62 35.91V55.51M488.88 41.31V49.07M489.12 28.81V57.05M489.38 38.63V54.23M489.62 38.49V47.70M489.88 42.45V49.51M490.12 38.40V49.27M490.38 28.61V69.54M490.62 40.32V53.54M490.88 38.73V51.67M491.12 41.02V48.15M491.38 24.04V61.04M491.62 31.96V54.66M491.88 39.80V48.94M492.12 41.22V53.94M492.38 39.64V53.55M492.62 40.98V49.87M492.88 41.72V52.59M493.12 41.58V47.85M493.38 43.39V49.23M493.62 27.70V63.77M493.88 30.68V53.26M494.12 40.36V53.55M494.38 37.66V53.42M494.62 31.57V52.85M494.88 35.30V49.91M495.12 39.59V49.92M495.38 38.26V49.60M495.62 28.26V57.98M495.88 33.11V58.18M496.12 39.02V53.85M496.38 38.69V53.75M496.62 39.46V48.70M496.88 35.94V53.82M497.12 41.98V49.08M497.38 38.72V50.04M497.62 41.07V50.93M497.88 36.54V56.71M498.12 32.60V55.06M498.38 41.37V49.83M498.62 39.06V52.24M498.88 39.11V49.60M499.12 33.48V57.08M499.38 37.53V49.69M499.62 39.23V48.81M499.88 38.43V48.69M500.12 33.03V52.67M500.38 38.25V51.24M500.62 36.25V52.40M500.88 33.74V62.83M501.12 37.45V53.58M501.38 36.81V53.75M501.62 41.66V49.33M501.88 39.37V49.95M502.12 42.32V50.78M502.38 28.20V56.39M502.62 36.40V52.84M502.88 38.72V50.53M503.12 37.10V48.00M503.38 41.19V49.80M503.62 25.84V59.52M503.88 36.17V49.60M504.12 38.00V48.69M504.38 25.07V59.56M504.62 32.81V56.83M504.88 39.63V56.73M505.12 20.78V59.89M505.38 27.53V61.53M505.62 40.99V49.97M505.88 38.91V52.76M506.12 39.45V51.72M506.38 26.16V59.54M506.62 38.18V54.83M506.88 41.81V50.53M507.12 40.68V52.71M507.38 33.03V52.59M507.62 37.62V49.82M507.88 36.01V52.85M508.12 28.20V58.66M508.38 34.40V57.98M508.62 41.64V51.83M508.88 41.46V51.70M509.12 36.61V49.66M509.38 38.46V52.97M509.62 24.25V57.22M509.88 34.96V50.85M510.12 41.56V51.08M510.38 41.29V52.04M510.62 27.65V61.64M510.88 36.94V52.94M511.12 38.41V50.95M511.38 34.82V52.26M511.62 37.20V51.70M511.88 41.53V51.08M512.12 40.71V46.49M512.38 42.10V49.88M512.62 25.75V59.05M512.88 36.70V52.21M513.12 38.05V49.18M513.38 39.72V49.18M513.62 32.22V55.37M513.88 35.21V53.61M514.12 40.02V48.95M514.38 39.56V49.43M514.62 31.27V52.61M514.88 31.68V55.05M515.12 39.17V53.45M515.38 42.79V51.24M515.62 34.58V57.29M515.88 34.53V49.40M516.12 40.92V49.39M516.38 26.30V50.72M516.62 30.78V59.95M516.88 37.38V51.10M517.12 38.10V51.13M517.38 25.21V62.53M517.62 35.11V54.48M517.88 36.67V49.67M518.12 37.91V49.18M518.38 28.66V59.16M518.62 40.31V50.53M518.88 41.06V49.02M519.12 38.67V50.07M519.38 40.02V49.21M519.62 32.54V60.71M519.88 38.06V50.94M520.12 40.05V54.82M520.38 32.14V55.37M520.62 42.83V50.58M520.88 38.09V49.44M521.12 33.58V47.70M521.38 42.24V50.04M521.62 25.73V58.74M521.88 29.18V56.10M522.12 40.20V52.00M522.38 40.38V54.96M522.62 31.10V54.15M522.88 36.10V55.24M523.12 40.83V51.06M523.38 38.93V46.72M523.62 22.04V60.60M523.88 41.86V54.01M524.12 28.99V59.43M524.38 34.24V59.37M524.62 36.05V52.77M524.88 42.27V48.10M525.12 39.97V49.60M525.38 28.18V55.93M525.62 39.16V53.94M525.88 39.18V47.77M526.12 38.29V50.70M526.38 32.19V57.71M526.62 36.19V50.76M526.88 36.07V50.00M527.12 34.95V50.75M527.38 35.34V52.73M527.62 39.98V50.62M527.88 37.99V47.96M528.12 37.29V50.21M528.38 42.90V50.35M528.62 33.02V56.86M528.88 41.47V50.78M529.12 41.42V52.09M529.38 27.22V61.82M529.62 31.98V54.79M529.88 40.68V52.52M530.12 39.69V50.86M530.38 20.71V56.20M530.62 34.38V51.39M530.88 39.36V50.69M531.12 36.35V46.73M531.38 33.62V52.22M531.62 36.79V55.54M531.88 39.10V50.06M532.12 38.43V47.94M532.38 38.78V50.00M532.62 22.25V56.97M532.88 35.89V53.10M533.12 38.69V50.70M533.38 39.77V49.55M533.62 40.25V52.11M533.88 41.58V47.99M534.12 40.90V50.79M534.38 43.18V49.09M534.62 34.26V51.13M534.88 31.15V55.37M535.12 35.42V54.22M535.38 40.52V52.77M535.62 41.74V48.72M535.88 40.89V52.02M536.12 22.47V60.45M536.38 34.08V52.73M536.62 37.74V49.53M536.88 39.00V49.35" stroke="#0000ff" stroke-width="0.800" fill="none"/>
<rect x="310.00" y="8.40" width="227.00" height="73.40" fill="none" stroke="#505050" stroke-width="1.05"/>
<path d="M310.00 81.80V79.60M310.00 8.40V10.60M332.70 81.80V79.60M332.70 8.40V10.60M355.40 81.80V79.60M355.40 8.40V10.60M378.10 81.80V79.60M378.10 8.40V10.60M400.80 81.80V79.60M400.80 8.40V10.60M423.50 81.80V79.60M423.50 8.40V10.60M446.20 81.80V79.60M446.20 8.40V10.60M468.90 81.80V79.60M468.90 8.40V10.60M491.60 81.80V79.60M491.60 8.40V10.60M514.30 81.80V79.60M514.30 8.40V10.60M537.00 81.80V79.60M537.00 8.40V10.60M310.00 81.80H312.20M537.00 81.80H534.80M310.00 63.45H312.20M537.00 63.45H534.80M310.00 45.10H312.20M537.00 45.10H534.80M310.00 26.75H312.20M537.00 26.75H534.80M310.00 8.40H312.20M537.00 8.40H534.80" stroke="#333" stroke-width="0.8" fill="none"/>
<text x="310.00" y="90.90" text-anchor="middle" font-size="6.70">0</text>
<text x="332.70" y="90.90" text-anchor="middle" font-size="6.70">0.1</text>
<text x="355.40" y="90.90" text-anchor="middle" font-size="6.70">0.2</text>
<text x="378.10" y="90.90" text-anchor="middle" font-size="6.70">0.3</text>
<text x="400.80" y="90.90" text-anchor="middle" font-size="6.70">0.4</text>
<text x="423.50" y="90.90" text-anchor="middle" font-size="6.70">0.5</text>
<text x="446.20" y="90.90" text-anchor="middle" font-size="6.70">0.6</text>
<text x="468.90" y="90.90" text-anchor="middle" font-size="6.70">0.7</text>
<text x="491.60" y="90.90" text-anchor="middle" font-size="6.70">0.8</text>
<text x="514.30" y="90.90" text-anchor="middle" font-size="6.70">0.9</text>
<text x="537.00" y="90.90" text-anchor="middle" font-size="6.70">1</text>
<text x="307.60" y="84.20" text-anchor="end" font-size="6.70">-2</text>
<text x="307.60" y="65.85" text-anchor="end" font-size="6.70">-1</text>
<text x="307.60" y="47.50" text-anchor="end" font-size="6.70">0</text>
<text x="307.60" y="29.15" text-anchor="end" font-size="6.70">1</text>
<text x="307.60" y="10.80" text-anchor="end" font-size="6.70">2</text>
<text x="422.70" y="99.60" text-anchor="middle" font-size="6.70">Time(t/s)</text>
<text transform="translate(295.40 45.10) rotate(-90)" text-anchor="middle" font-size="7.10">Acceleration(a/ms<tspan dy="-2.2" font-size="4.6">-2</tspan><tspan dy="2.2">)</tspan></text>
<path d="M310.17 183.84V186.00M310.50 184.03V186.00M310.83 183.79V186.00M311.17 183.78V186.00M311.50 184.05V186.00M311.83 184.06V186.00M312.17 183.93V186.00M312.50 183.93V186.00M312.83 183.81V186.00M313.17 184.13V186.00M313.50 183.81V186.00M313.83 184.01V186.00M314.17 184.09V186.00M314.50 184.05V186.00M314.83 184.13V186.00M315.17 184.09V186.00M315.50 183.88V186.00M315.83 184.06V186.00M316.17 183.82V186.00M316.50 183.92V186.00M316.83 184.04V186.00M317.17 184.04V186.00M317.50 183.96V186.00M317.83 183.95V186.00M318.17 184.09V186.00M318.50 184.22V186.00M318.83 183.97V186.00M319.17 184.08V186.00M319.50 183.88V186.00M319.83 183.83V186.00M320.17 184.07V186.00M320.50 184.06V186.00M320.83 183.78V186.00M321.17 183.87V186.00M321.50 183.87V186.00M321.83 184.12V186.00M322.17 183.68V186.00M322.50 183.53V186.00M322.83 183.52V186.00M323.17 183.24V186.00M323.50 182.86V186.00M323.83 182.69V186.00M324.17 182.97V186.00M324.50 182.16V186.00M324.83 182.06V186.00M325.17 182.44V186.00M325.50 182.37V186.00M325.83 182.53V186.00M326.17 182.19V186.00M326.50 181.49V186.00M326.83 179.72V186.00M327.17 181.54V186.00M327.50 181.80V186.00M327.83 179.17V186.00M328.17 179.18V186.00M328.50 180.79V186.00M328.83 179.65V186.00M329.17 179.85V186.00M329.50 179.16V186.00M329.83 182.46V186.00M330.17 179.33V186.00M330.50 180.70V186.00M330.83 180.89V186.00M331.17 180.40V186.00M331.50 181.45V186.00M331.83 182.46V186.00M332.17 182.84V186.00M332.50 182.20V186.00M332.83 182.53V186.00M333.17 183.26V186.00M333.50 182.69V186.00M333.83 182.68V186.00M334.17 182.50V186.00M334.50 182.45V186.00M334.83 183.09V186.00M335.17 182.23V186.00M335.50 182.76V186.00M335.83 183.10V186.00M336.17 183.20V186.00M336.50 182.86V186.00M336.83 183.07V186.00M337.17 182.88V186.00M337.50 182.98V186.00M337.83 182.75V186.00M338.17 183.49V186.00M338.50 182.53V186.00M338.83 182.97V186.00M339.17 182.72V186.00M339.50 183.15V186.00M339.83 183.06V186.00M340.17 183.28V186.00M340.50 182.66V186.00M340.83 183.34V186.00M341.17 183.17V186.00M341.50 183.34V186.00M341.83 183.45V186.00M342.17 182.55V186.00M342.50 182.75V186.00M342.83 182.72V186.00M343.17 182.68V186.00M343.50 182.40V186.00M343.83 182.83V186.00M344.17 182.80V186.00M344.50 183.11V186.00M344.83 183.14V186.00M345.17 183.24V186.00M345.50 183.18V186.00M345.83 183.38V186.00M346.17 182.55V186.00M346.50 182.38V186.00M346.83 182.92V186.00M347.17 182.54V186.00M347.50 182.25V186.00M347.83 182.50V186.00M348.17 182.59V186.00M348.50 182.47V186.00M348.83 182.41V186.00M349.17 182.64V186.00M349.50 182.15V186.00M349.83 182.96V186.00M350.17 182.90V186.00M350.50 179.90V186.00M350.83 182.11V186.00M351.17 181.18V186.00M351.50 181.99V186.00M351.83 182.33V186.00M352.17 181.51V186.00M352.50 177.80V186.00M352.83 178.69V186.00M353.17 179.96V186.00M353.50 182.27V186.00M353.83 178.00V186.00M354.17 179.48V186.00M354.50 177.80V186.00M354.83 179.31V186.00M355.17 181.59V186.00M355.50 181.60V186.00M355.83 177.90V186.00M356.17 180.63V186.00M356.50 181.03V186.00M356.83 179.57V186.00M357.17 180.33V186.00M357.50 180.21V186.00M357.83 177.63V186.00M358.17 179.13V186.00M358.50 176.64V186.00M358.83 181.21V186.00M359.17 179.97V186.00M359.50 177.01V186.00M359.83 179.14V186.00M360.17 177.50V186.00M360.50 179.22V186.00M360.83 179.43V186.00M361.17 177.20V186.00M361.50 180.03V186.00M361.83 178.91V186.00M362.17 178.89V186.00M362.50 181.83V186.00M362.83 181.47V186.00M363.17 180.71V186.00M363.50 182.31V186.00M363.83 178.71V186.00M364.17 179.23V186.00M364.50 180.38V186.00M364.83 180.08V186.00M365.17 182.14V186.00M365.50 180.26V186.00M365.83 178.47V186.00M366.17 182.25V186.00M366.50 179.33V186.00M366.83 179.23V186.00M367.17 181.31V186.00M367.50 180.99V186.00M367.83 181.58V186.00M368.17 179.93V186.00M368.50 180.79V186.00M368.83 181.94V186.00M369.17 181.22V186.00M369.50 181.46V186.00M369.83 178.69V186.00M370.17 180.07V186.00M370.50 180.62V186.00M370.83 180.62V186.00M371.17 180.35V186.00M371.50 179.03V186.00M371.83 181.16V186.00M372.17 182.64V186.00M372.50 182.05V186.00M372.83 183.01V186.00M373.17 182.05V186.00M373.50 180.62V186.00M373.83 181.90V186.00M374.17 179.98V186.00M374.50 179.70V186.00M374.83 182.53V186.00M375.17 180.27V186.00M375.50 180.79V186.00M375.83 179.90V186.00M376.17 182.36V186.00M376.50 180.62V186.00M376.83 181.93V186.00M377.17 182.30V186.00M377.50 182.12V186.00M377.83 180.61V186.00M378.17 181.71V186.00M378.50 181.92V186.00M378.83 180.94V186.00M379.17 181.04V186.00M379.50 180.99V186.00M379.83 183.10V186.00M380.17 181.07V186.00M380.50 181.65V186.00M380.83 181.24V186.00M381.17 181.60V186.00M381.50 181.36V186.00M381.83 181.53V186.00M382.17 181.84V186.00M382.50 182.71V186.00M382.83 182.12V186.00M383.17 182.91V186.00M383.50 182.59V186.00M383.83 182.53V186.00M384.17 182.68V186.00M384.50 182.02V186.00M384.83 182.14V186.00M385.17 182.40V186.00M385.50 182.53V186.00M385.83 182.68V186.00M386.17 182.95V186.00M386.50 182.74V186.00M386.83 182.86V186.00M387.17 182.79V186.00M387.50 182.98V186.00M387.83 182.77V186.00M388.17 183.13V186.00M388.50 183.06V186.00M388.83 182.89V186.00M389.17 183.67V186.00M389.50 183.04V186.00M389.83 183.23V186.00M390.17 183.21V186.00M390.50 183.73V186.00M390.83 183.37V186.00M391.17 183.38V186.00M391.50 182.96V186.00M391.83 182.90V186.00M392.17 182.53V186.00M392.50 180.53V186.00M392.83 179.42V186.00M393.17 182.24V186.00M393.50 180.70V186.00M393.83 180.44V186.00M394.17 182.74V186.00M394.50 180.21V186.00M394.83 180.69V186.00M395.17 181.14V186.00M395.50 181.75V186.00M395.83 181.35V186.00M396.17 180.90V186.00M396.50 182.02V186.00M396.83 181.97V186.00M397.17 178.97V186.00M397.50 180.34V186.00M397.83 180.30V186.00M398.17 177.80V186.00M398.50 178.39V186.00M398.83 177.99V186.00M399.17 177.44V186.00M399.50 177.00V186.00M399.83 177.46V186.00M400.17 175.61V186.00M400.50 176.34V186.00M400.83 175.85V186.00M401.17 175.53V186.00M401.50 180.60V186.00M401.83 174.02V186.00M402.17 175.16V186.00M402.50 179.96V186.00M402.83 175.32V186.00M403.17 175.34V186.00M403.50 176.66V186.00M403.83 178.01V186.00M404.17 176.29V186.00M404.50 179.06V186.00M404.83 177.21V186.00M405.17 175.57V186.00M405.50 174.91V186.00M405.83 176.01V186.00M406.17 173.68V186.00M406.50 173.59V186.00M406.83 173.42V186.00M407.17 175.36V186.00M407.50 177.77V186.00M407.83 179.61V186.00M408.17 174.69V186.00M408.50 174.93V186.00M408.83 179.88V186.00M409.17 178.00V186.00M409.50 171.19V186.00M409.83 172.83V186.00M410.17 171.75V186.00M410.50 176.38V186.00M410.83 175.49V186.00M411.17 174.30V186.00M411.50 175.81V186.00M411.83 179.50V186.00M412.17 175.33V186.00M412.50 173.84V186.00M412.83 176.33V186.00M413.17 172.08V186.00M413.50 172.07V186.00M413.83 179.68V186.00M414.17 175.99V186.00M414.50 174.58V186.00M414.83 176.13V186.00M415.17 172.00V186.00M415.50 177.03V186.00M415.83 172.54V186.00M416.17 176.67V186.00M416.50 172.62V186.00M416.83 178.91V186.00M417.17 172.86V186.00M417.50 172.93V186.00M417.83 174.94V186.00M418.17 177.01V186.00M418.50 176.29V186.00M418.83 178.63V186.00M419.17 177.22V186.00M419.50 175.30V186.00M419.83 175.26V186.00M420.17 176.06V186.00M420.50 174.32V186.00M420.83 179.41V186.00M421.17 176.89V186.00M421.50 177.56V186.00M421.83 180.67V186.00M422.17 182.47V186.00M422.50 179.39V186.00M422.83 179.77V186.00M423.17 180.71V186.00M423.50 179.24V186.00M423.83 181.68V186.00M424.17 180.03V186.00M424.50 180.35V186.00M424.83 181.32V186.00M425.17 180.05V186.00M425.50 182.54V186.00M425.83 181.76V186.00M426.17 181.15V186.00M426.50 179.77V186.00M426.83 180.48V186.00M427.17 182.84V186.00M427.50 181.01V186.00M427.83 182.47V186.00M428.17 181.68V186.00M428.50 180.35V186.00M428.83 182.09V186.00M429.17 182.57V186.00M429.50 180.74V186.00M429.83 182.37V186.00M430.17 181.44V186.00M430.50 182.43V186.00M430.83 180.91V186.00M431.17 181.03V186.00M431.50 180.02V186.00M431.83 182.16V186.00M432.17 180.43V186.00M432.50 177.58V186.00M432.83 179.75V186.00M433.17 180.72V186.00M433.50 176.32V186.00M433.83 179.51V186.00M434.17 177.55V186.00M434.50 179.93V186.00M434.83 180.39V186.00M435.17 177.90V186.00M435.50 176.99V186.00M435.83 176.19V186.00M436.17 175.23V186.00M436.50 177.46V186.00M436.83 176.41V186.00M437.17 178.66V186.00M437.50 175.09V186.00M437.83 178.32V186.00M438.17 180.70V186.00M438.50 179.16V186.00M438.83 179.64V186.00M439.17 176.15V186.00M439.50 179.42V186.00M439.83 177.19V186.00M440.17 178.06V186.00M440.50 175.08V186.00M440.83 178.41V186.00M441.17 178.83V186.00M441.50 178.49V186.00M441.83 179.25V186.00M442.17 176.15V186.00M442.50 177.02V186.00M442.83 176.01V186.00M443.17 179.97V186.00M443.50 175.48V186.00M443.83 177.06V186.00M444.17 174.62V186.00M444.50 174.59V186.00M444.83 181.07V186.00M445.17 176.87V186.00M445.50 179.12V186.00M445.83 176.42V186.00M446.17 180.05V186.00M446.50 177.28V186.00M446.83 176.25V186.00M447.17 177.39V186.00M447.50 179.07V186.00M447.83 176.55V186.00M448.17 175.63V186.00M448.50 179.39V186.00M448.83 180.59V186.00M449.17 178.76V186.00M449.50 178.73V186.00M449.83 178.88V186.00M450.17 176.12V186.00M450.50 180.04V186.00M450.83 181.42V186.00M451.17 181.89V186.00M451.50 179.20V186.00M451.83 180.45V186.00M452.17 179.53V186.00M452.50 178.82V186.00M452.83 180.64V186.00M453.17 181.75V186.00M453.50 178.62V186.00M453.83 181.72V186.00M454.17 181.28V186.00M454.50 182.78V186.00M454.83 180.37V186.00M455.17 181.87V186.00M455.50 180.18V186.00M455.83 181.37V186.00M456.17 180.28V186.00M456.50 181.80V186.00M456.83 180.70V186.00M457.17 182.72V186.00M457.50 182.01V186.00M457.83 182.32V186.00M458.17 181.97V186.00M458.50 182.35V186.00M458.83 182.26V186.00M459.17 180.63V186.00M459.50 182.71V186.00M459.83 181.65V186.00M460.17 180.84V186.00M460.50 181.83V186.00M460.83 181.76V186.00M461.17 181.57V186.00M461.50 182.56V186.00M461.83 182.36V186.00M462.17 181.09V186.00M462.50 181.36V186.00M462.83 182.38V186.00M463.17 181.71V186.00M463.50 180.59V186.00M463.83 182.43V186.00M464.17 180.85V186.00M464.50 180.75V186.00M464.83 181.61V186.00M465.17 182.48V186.00M465.50 181.75V186.00M465.83 181.03V186.00M466.17 181.26V186.00M466.50 180.79V186.00M466.83 181.54V186.00M467.17 183.05V186.00M467.50 182.84V186.00M467.83 180.99V186.00M468.17 181.62V186.00M468.50 180.71V186.00M468.83 180.79V186.00M469.17 181.42V186.00M469.50 181.40V186.00M469.83 181.10V186.00M470.17 182.43V186.00M470.50 181.83V186.00M470.83 181.23V186.00M471.17 181.74V186.00M471.50 182.75V186.00M471.83 182.75V186.00M472.17 183.14V186.00M472.50 182.87V186.00M472.83 183.31V186.00M473.17 183.09V186.00M473.50 183.10V186.00M473.83 183.50V186.00M474.17 183.37V186.00M474.50 183.24V186.00M474.83 182.93V186.00M475.17 182.93V186.00M475.50 183.20V186.00M475.83 183.11V186.00M476.17 182.81V186.00M476.50 183.10V186.00M476.83 183.36V186.00M477.17 183.45V186.00M477.50 183.41V186.00M477.83 182.99V186.00M478.17 183.09V186.00M478.50 183.22V186.00M478.83 182.82V186.00M479.17 183.46V186.00M479.50 183.26V186.00M479.83 183.32V186.00M480.17 183.34V186.00M480.50 183.07V186.00M480.83 183.49V186.00M481.17 183.39V186.00M481.50 183.45V186.00M481.83 183.02V186.00M482.17 183.07V186.00M482.50 183.27V186.00M482.83 182.85V186.00M483.17 183.10V186.00M483.50 183.08V186.00M483.83 183.00V186.00M484.17 183.20V186.00M484.50 183.14V186.00M484.83 183.22V186.00M485.17 183.53V186.00M485.50 183.45V186.00M485.83 183.45V186.00M486.17 183.19V186.00M486.50 183.33V186.00M486.83 183.54V186.00M487.17 183.26V186.00M487.50 183.32V186.00M487.83 183.66V186.00M488.17 183.11V186.00M488.50 183.47V186.00M488.83 183.55V186.00M489.17 183.27V186.00M489.50 183.43V186.00M489.83 183.54V186.00M490.17 183.25V186.00M490.50 183.53V186.00M490.83 183.73V186.00M491.17 183.56V186.00M491.50 183.38V186.00M491.83 183.35V186.00M492.17 183.58V186.00M492.50 183.69V186.00M492.83 183.62V186.00M493.17 183.49V186.00M493.50 183.35V186.00M493.83 183.15V186.00M494.17 183.48V186.00M494.50 183.34V186.00M494.83 183.28V186.00M495.17 183.46V186.00M495.50 183.59V186.00M495.83 183.30V186.00M496.17 183.33V186.00M496.50 183.46V186.00M496.83 183.66V186.00M497.17 183.47V186.00M497.50 183.52V186.00M497.83 183.39V186.00M498.17 183.40V186.00M498.50 183.73V186.00M498.83 183.47V186.00M499.17 183.77V186.00M499.50 183.85V186.00M499.83 183.54V186.00M500.17 183.81V186.00M500.50 183.88V186.00M500.83 183.82V186.00M501.17 183.53V186.00M501.50 183.96V186.00M501.83 183.78V186.00M502.17 183.54V186.00M502.50 184.01V186.00M502.83 183.61V186.00M503.17 183.96V186.00M503.50 183.74V186.00M503.83 184.09V186.00M504.17 184.10V186.00M504.50 183.97V186.00M504.83 184.03V186.00M505.17 183.96V186.00M505.50 183.92V186.00M505.83 184.14V186.00M506.17 183.90V186.00M506.50 183.75V186.00M506.83 183.87V186.00M507.17 183.92V186.00M507.50 183.97V186.00M507.83 184.18V186.00M508.17 184.11V186.00M508.50 184.00V186.00M508.83 184.14V186.00M509.17 184.14V186.00M509.50 184.16V186.00M509.83 184.01V186.00M510.17 184.09V186.00M510.50 184.28V186.00M510.83 184.05V186.00M511.17 184.18V186.00M511.50 184.31V186.00M511.83 184.19V186.00M512.17 184.09V186.00M512.50 184.21V186.00M512.83 184.28V186.00M513.17 184.43V186.00M513.50 184.29V186.00M513.83 184.14V186.00M514.17 184.44V186.00M514.50 184.17V186.00M514.83 184.38V186.00M515.17 184.23V186.00M515.50 184.19V186.00M515.83 184.19V186.00M516.17 184.26V186.00M516.50 184.29V186.00M516.83 184.35V186.00M517.17 184.26V186.00M517.50 184.29V186.00M517.83 184.28V186.00M518.17 184.42V186.00M518.50 184.50V186.00M518.83 184.50V186.00M519.17 184.50V186.00M519.50 184.40V186.00M519.83 184.33V186.00M520.17 184.27V186.00M520.50 184.42V186.00M520.83 184.22V186.00M521.17 184.45V186.00M521.50 184.24V186.00M521.83 184.30V186.00M522.17 184.47V186.00M522.50 184.46V186.00M522.83 184.44V186.00M523.17 184.46V186.00M523.50 184.24V186.00M523.83 184.49V186.00M524.17 184.40V186.00M524.50 184.48V186.00M524.83 184.34V186.00M525.17 184.30V186.00M525.50 184.35V186.00M525.83 184.40V186.00M526.17 184.52V186.00M526.50 184.43V186.00M526.83 184.53V186.00M527.17 184.40V186.00M527.50 184.38V186.00M527.83 184.39V186.00M528.17 184.45V186.00M528.50 184.39V186.00M528.83 184.55V186.00M529.17 184.51V186.00M529.50 184.28V186.00M529.83 184.54V186.00M530.17 184.59V186.00M530.50 184.40V186.00M530.83 184.40V186.00M531.17 184.53V186.00M531.50 184.43V186.00M531.83 184.30V186.00M532.17 184.35V186.00M532.50 184.53V186.00M532.83 184.40V186.00M533.17 184.44V186.00M533.50 184.51V186.00M533.83 184.41V186.00M534.17 184.58V186.00M534.50 184.56V186.00M534.83 184.53V186.00M535.17 184.39V186.00M535.50 184.55V186.00M535.83 184.59V186.00M536.17 184.41V186.00M536.50 184.60V186.00M536.83 184.58V186.00" stroke="#0000ff" stroke-width="0.700" fill="none"/><path d="M310.20 169.30V185.50M315.30 176.90V185.50M323.80 181.50V185.50M326.20 174.60V185.50M329.00 180.00V185.50M330.00 178.50V185.50M332.40 150.70V185.50M334.60 168.50V185.50M341.50 180.50V185.50M345.50 181.00V185.50M347.60 177.90V185.50M351.30 175.00V185.50M352.40 165.50V185.50M353.50 155.00V185.50M355.00 174.50V185.50M357.50 153.90V185.50M359.30 147.80V185.50M360.50 178.60V185.50M362.00 178.00V185.50M363.30 169.90V185.50M365.70 164.10V185.50M369.10 173.50V185.50M372.00 174.60V185.50M375.30 171.40V185.50M377.80 176.20V185.50M381.50 169.90V185.50M383.90 165.50V185.50M394.00 176.30V185.50M395.50 176.30V185.50M399.70 173.00V185.50M401.60 144.10V185.50M402.60 170.60V185.50M405.80 167.40V185.50M406.50 167.40V185.50M408.40 138.70V185.50M410.00 170.00V185.50M412.00 155.10V185.50M414.30 142.00V185.50M414.80 150.00V185.50M418.50 143.10V185.50M420.70 154.00V185.50M424.80 174.20V185.50M433.30 164.90V185.50M437.00 164.90V185.50M439.00 157.20V185.50M440.50 163.00V185.50M443.40 163.00V185.50M445.20 125.10V185.50M445.70 152.60V185.50M447.40 161.60V185.50M449.00 164.00V185.50M450.40 171.50V185.50M455.80 175.50V185.50M470.90 177.20V185.50M466.00 179.00V185.50" stroke="#0000ff" stroke-width="0.900" fill="none"/>
<rect x="310.00" y="112.60" width="227.00" height="72.90" fill="none" stroke="#505050" stroke-width="1.05"/>
<path d="M310.00 185.50V183.30M310.00 112.60V114.80M347.83 185.50V183.30M347.83 112.60V114.80M385.67 185.50V183.30M385.67 112.60V114.80M423.50 185.50V183.30M423.50 112.60V114.80M461.33 185.50V183.30M461.33 112.60V114.80M499.17 185.50V183.30M499.17 112.60V114.80M537.00 185.50V183.30M537.00 112.60V114.80M310.00 185.50H312.20M537.00 185.50H534.80M310.00 149.05H312.20M537.00 149.05H534.80M310.00 112.60H312.20M537.00 112.60H534.80" stroke="#333" stroke-width="0.8" fill="none"/>
<text x="310.00" y="194.60" text-anchor="middle" font-size="6.70">0</text>
<text x="347.83" y="194.60" text-anchor="middle" font-size="6.70">1000</text>
<text x="385.67" y="194.60" text-anchor="middle" font-size="6.70">2000</text>
<text x="423.50" y="194.60" text-anchor="middle" font-size="6.70">3000</text>
<text x="461.33" y="194.60" text-anchor="middle" font-size="6.70">4000</text>
<text x="499.17" y="194.60" text-anchor="middle" font-size="6.70">5000</text>
<text x="537.00" y="194.60" text-anchor="middle" font-size="6.70">6000</text>
<text x="307.60" y="187.90" text-anchor="end" font-size="6.70">0</text>
<text x="307.60" y="151.45" text-anchor="end" font-size="6.70">0.05</text>
<text x="307.60" y="115.00" text-anchor="end" font-size="6.70">0.1</text>
<text x="423.50" y="203.30" text-anchor="middle" font-size="6.70">Frequency(f/Hz)</text>
<text transform="translate(288.60 149.85) rotate(-90)" text-anchor="middle" font-size="7.10">Spectrum magnitude(a/ms<tspan dy="-2.2" font-size="4.6">-2</tspan><tspan dy="2.2">)</tspan></text>
<path d="M31.62 257.15V272.66M31.88 258.80V273.09M32.12 257.58V273.68M32.38 259.01V271.69M32.62 259.35V271.67M32.88 259.59V273.57M33.12 258.69V274.19M33.38 258.12V274.49M33.62 252.28V273.52M33.88 255.44V275.82M34.12 257.60V276.54M34.38 256.63V274.16M34.62 258.16V272.72M34.88 258.06V273.15M35.12 259.99V272.91M35.38 258.26V273.57M35.62 258.56V276.42M35.88 254.52V277.22M36.12 256.44V276.34M36.38 257.42V272.75M36.62 257.75V272.33M36.88 256.79V272.44M37.12 254.38V276.63M37.38 254.54V278.29M37.62 253.15V276.87M37.88 253.61V276.52M38.12 254.03V273.90M38.38 255.65V273.55M38.62 257.12V272.45M38.88 258.28V272.43M39.12 257.80V271.87M39.38 255.45V273.41M39.62 257.52V274.73M39.88 256.33V276.06M40.12 256.37V275.41M40.38 259.04V272.62M40.62 259.46V272.28M40.88 259.25V272.11M41.12 258.72V272.76M41.38 256.70V273.84M41.62 253.70V277.87M41.88 254.62V277.27M42.12 248.80V277.48M42.38 255.82V275.06M42.62 258.11V273.62M42.88 257.48V272.72M43.12 257.13V272.65M43.38 258.07V272.22M43.62 258.57V273.26M43.88 257.19V275.31M44.12 257.59V273.07M44.38 259.22V271.00M44.62 258.30V272.99M44.88 256.30V273.87M45.12 257.39V273.71M45.38 259.78V272.86M45.62 258.98V273.05M45.88 257.98V274.88M46.12 257.61V274.91M46.38 259.37V272.07M46.62 255.84V272.11M46.88 256.77V273.74M47.12 258.62V272.29M47.38 257.84V270.90M47.62 256.73V274.16M47.88 254.79V274.93M48.12 256.43V277.40M48.38 255.61V276.83M48.62 256.30V276.49M48.88 258.35V274.60M49.12 257.34V275.08M49.38 256.23V275.57M49.62 251.96V278.22M49.88 254.65V275.95M50.12 255.36V275.80M50.38 252.28V277.12M50.62 254.07V281.12M50.88 254.18V275.04M51.12 255.89V275.79M51.38 258.88V273.64M51.62 257.67V273.58M51.88 257.84V272.90M52.12 257.02V273.19M52.38 256.80V274.64M52.62 254.94V277.53M52.88 255.99V281.15M53.12 256.31V277.03M53.38 257.73V277.68M53.62 258.54V273.62M53.88 255.92V272.64M54.12 255.96V274.60M54.38 255.76V278.46M54.62 256.51V274.01M54.88 255.92V273.65M55.12 258.15V273.48M55.38 257.46V275.02M55.62 255.94V274.27M55.88 255.91V274.13M56.12 252.56V274.66M56.38 252.39V275.83M56.62 255.19V275.92M56.88 255.41V275.64M57.12 257.28V275.13M57.38 257.69V273.51M57.62 255.78V272.96M57.88 253.72V275.92M58.12 253.45V279.53M58.38 253.11V279.28M58.62 255.44V277.91M58.88 256.80V276.58M59.12 257.77V274.97M59.38 258.24V275.18M59.62 257.67V276.55M59.88 257.14V278.61M60.12 252.27V276.29M60.38 253.38V276.21M60.62 254.30V277.41M60.88 255.46V277.57M61.12 257.10V277.85M61.38 255.82V275.20M61.62 257.41V273.42M61.88 256.99V272.81M62.12 257.16V274.39M62.38 256.14V277.60M62.62 255.89V276.73M62.88 255.21V274.30M63.12 259.49V274.29M63.38 257.48V275.13M63.62 257.53V275.47M63.88 255.27V273.74M64.12 256.01V275.18M64.38 255.03V276.05M64.62 255.46V275.71M64.88 256.93V274.23M65.12 256.04V274.53M65.38 253.44V275.68M65.62 257.27V276.68M65.88 257.74V276.34M66.12 257.97V276.07M66.38 258.36V272.55M66.62 253.41V271.09M66.88 256.40V271.51M67.12 253.14V275.99M67.38 254.79V274.48M67.62 257.07V274.17M67.88 258.24V271.52M68.12 256.85V272.26M68.38 256.95V272.85M68.62 254.91V276.24M68.88 254.97V276.21M69.12 253.95V277.24M69.38 254.50V276.33M69.62 254.94V283.90M69.88 253.40V279.18M70.12 256.05V278.09M70.38 257.58V274.89M70.62 256.01V274.43M70.88 252.67V274.57M71.12 255.10V271.75M71.38 256.85V271.07M71.62 256.19V273.07M71.88 254.32V276.69M72.12 255.62V275.65M72.38 258.66V273.34M72.62 258.20V274.31M72.88 258.01V273.34M73.12 259.59V274.51M73.38 259.89V272.72M73.62 257.79V271.86M73.88 257.51V274.70M74.12 258.14V273.00M74.38 256.97V274.91M74.62 257.22V277.01M74.88 254.99V274.83M75.12 255.59V275.50M75.38 256.56V274.00M75.62 258.72V271.87M75.88 259.35V273.44M76.12 258.47V272.85M76.38 257.82V273.77M76.62 252.24V273.06M76.88 254.45V274.85M77.12 253.90V275.73M77.38 251.45V276.43M77.62 253.59V277.48M77.88 254.75V279.84M78.12 254.07V278.54M78.38 252.83V278.28M78.62 253.38V277.15M78.88 252.39V276.81M79.12 256.60V277.08M79.38 257.01V274.14M79.62 258.45V273.03M79.88 259.43V273.02M80.12 258.10V273.54M80.38 254.46V273.27M80.62 255.17V273.20M80.88 258.70V272.35M81.12 258.09V272.43M81.38 257.67V272.37M81.62 256.94V273.50M81.88 258.95V273.23M82.12 257.10V272.69M82.38 257.38V273.45M82.62 258.64V274.25M82.88 255.37V277.89M83.12 255.81V277.37M83.38 255.12V275.97M83.62 256.45V274.54M83.88 256.20V273.41M84.12 256.90V272.60M84.38 256.25V272.56M84.62 257.22V273.95M84.88 258.33V274.34M85.12 255.92V273.51M85.38 257.22V272.81M85.62 259.37V271.14M85.88 258.83V271.77M86.12 259.28V274.12M86.38 259.34V271.02M86.62 260.83V271.19M86.88 259.44V273.88M87.12 257.69V276.30M87.38 259.22V272.53M87.62 259.29V271.99M87.88 259.72V271.23M88.12 258.33V273.26M88.38 255.96V274.32M88.62 257.64V273.01M88.88 258.89V271.34M89.12 258.43V271.79M89.38 254.58V274.31M89.62 255.67V273.73M89.88 257.79V272.30M90.12 255.71V273.81M90.38 254.56V273.45M90.62 255.72V275.31M90.88 257.12V275.34M91.12 256.33V273.37M91.38 257.78V272.76M91.62 260.17V272.68M91.88 259.15V272.27M92.12 257.36V272.99M92.38 255.59V272.44M92.62 255.66V273.76M92.88 259.01V272.86M93.12 260.10V274.97M93.38 258.63V274.09M93.62 256.22V274.76M93.88 257.29V274.10M94.12 257.69V273.80M94.38 258.37V272.44M94.62 258.38V274.44M94.88 258.51V271.93M95.12 258.03V271.98M95.38 257.35V272.61M95.62 255.16V272.87M95.88 255.40V275.48M96.12 255.78V274.52M96.38 256.43V274.61M96.62 258.40V274.04M96.88 258.01V275.25M97.12 259.97V271.73M97.38 260.24V272.09M97.62 259.48V271.30M97.88 258.38V273.50M98.12 254.96V276.37M98.38 255.82V275.56M98.62 257.78V277.10M98.88 256.34V274.71M99.12 253.93V275.29M99.38 252.84V276.56M99.62 252.68V276.77M99.88 250.33V277.43M100.12 251.79V278.06M100.38 254.13V277.93M100.62 256.11V276.46M100.88 256.12V276.40M101.12 255.19V276.16M101.38 255.49V277.08M101.62 254.69V278.60M101.88 254.02V275.74M102.12 256.81V276.33M102.38 254.19V275.66M102.62 255.77V274.75M102.88 256.22V274.67M103.12 254.60V276.54M103.38 254.50V275.88M103.62 253.74V275.65M103.88 254.57V274.27M104.12 257.45V271.91M104.38 257.62V273.24M104.62 258.86V273.16M104.88 256.63V274.77M105.12 254.54V274.58M105.38 257.63V276.00M105.62 258.67V272.84M105.88 256.70V276.63M106.12 254.41V279.10M106.38 253.19V276.64M106.62 252.47V277.05M106.88 252.47V275.39M107.12 256.10V275.00M107.38 255.73V276.98M107.62 257.43V273.27M107.88 255.63V274.94M108.12 258.78V278.45M108.38 257.36V276.95M108.62 257.95V273.38M108.88 259.01V274.18M109.12 257.29V274.29M109.38 256.72V273.74M109.62 256.91V273.10M109.88 258.18V276.64M110.12 255.77V276.97M110.38 257.22V276.54M110.62 258.05V274.07M110.88 258.63V273.79M111.12 258.11V272.94M111.38 257.35V274.59M111.62 258.10V276.75M111.88 254.04V278.32M112.12 256.65V277.83M112.38 255.33V277.93M112.62 255.75V273.06M112.88 256.04V273.74M113.12 254.30V277.28M113.38 250.45V275.73M113.62 253.49V276.42M113.88 252.42V276.18M114.12 250.97V277.35M114.38 253.28V277.04M114.62 254.06V275.03M114.88 254.48V276.77M115.12 256.30V279.65M115.38 251.96V276.77M115.62 257.08V274.90M115.88 258.39V274.09M116.12 256.78V273.73M116.38 256.95V273.62M116.62 257.17V273.78M116.88 256.56V273.47M117.12 257.87V273.19M117.38 259.26V272.48M117.62 258.67V277.65M117.88 258.32V272.81M118.12 257.91V272.76M118.38 257.36V274.16M118.62 256.70V274.33M118.88 258.46V272.55M119.12 255.14V272.95M119.38 255.70V272.97M119.62 254.32V277.73M119.88 257.53V272.06M120.12 258.31V271.17M120.38 259.65V271.29M120.62 260.87V269.96M120.88 259.31V270.61M121.12 254.80V273.06M121.38 251.90V271.94M121.62 257.73V273.84M121.88 256.87V275.56M122.12 257.21V277.04M122.38 257.18V274.42M122.62 257.74V272.34M122.88 257.33V272.26M123.12 255.72V272.99M123.38 256.86V273.04M123.62 257.09V272.14M123.88 258.68V271.01M124.12 258.94V271.49M124.38 256.72V275.00M124.62 257.51V280.23M124.88 256.43V276.11M125.12 256.02V276.23M125.38 257.27V274.77M125.62 258.11V272.03M125.88 257.99V272.92M126.12 255.44V275.52M126.38 256.01V275.19M126.62 259.37V270.67M126.88 258.98V270.49M127.12 257.90V272.81M127.38 256.58V274.57M127.62 255.08V274.08M127.88 257.24V273.93M128.12 257.68V273.60M128.38 258.88V272.71M128.62 258.47V272.36M128.88 258.74V273.62M129.12 257.76V273.81M129.38 255.04V275.85M129.62 257.68V272.25M129.88 258.11V273.41M130.12 252.89V276.65M130.38 257.10V276.39M130.62 254.36V277.42M130.88 254.76V278.40M131.12 254.79V276.04M131.38 256.40V273.17M131.62 253.91V273.49M131.88 255.32V277.29M132.12 255.69V275.11M132.38 255.55V274.83M132.62 255.74V275.42M132.88 253.42V276.46M133.12 256.47V274.93M133.38 257.68V272.39M133.62 256.62V274.95M133.88 257.27V275.02M134.12 257.06V271.92M134.38 257.64V272.31M134.62 257.77V272.33M134.88 258.42V272.17M135.12 259.33V271.83M135.38 259.05V270.90M135.62 256.21V275.29M135.88 254.21V277.52M136.12 253.35V276.97M136.38 252.54V277.55M136.62 255.81V275.88M136.88 256.94V275.07M137.12 257.06V274.77M137.38 254.49V273.84M137.62 257.98V271.43M137.88 259.79V271.27M138.12 257.19V271.23M138.38 258.49V274.47M138.62 255.42V275.07M138.88 257.71V275.62M139.12 256.41V275.52M139.38 258.38V277.02M139.62 259.36V273.78M139.88 259.50V273.20M140.12 258.49V272.44M140.38 255.84V274.65M140.62 253.12V276.85M140.88 257.14V279.15M141.12 256.51V276.45M141.38 257.50V273.08M141.62 258.31V274.06M141.88 256.68V273.31M142.12 257.36V272.99M142.38 255.84V273.92M142.62 254.17V275.04M142.88 251.36V274.84M143.12 256.48V272.87M143.38 256.39V273.99M143.62 256.35V274.24M143.88 255.46V275.48M144.12 254.66V275.55M144.38 256.38V275.78M144.62 256.59V275.09M144.88 256.17V274.11M145.12 255.38V276.17M145.38 257.59V275.94M145.62 256.28V276.28M145.88 255.99V277.40M146.12 257.07V275.40M146.38 256.67V276.54M146.62 251.34V275.85M146.88 255.42V274.16M147.12 258.62V272.16M147.38 259.56V273.33M147.62 258.05V273.19M147.88 257.32V279.99M148.12 255.93V278.04M148.38 254.34V275.64M148.62 255.48V273.60M148.88 255.81V271.77M149.12 257.44V272.94M149.38 255.94V274.31M149.62 254.71V275.20M149.88 256.75V272.94M150.12 256.94V272.34M150.38 257.00V271.59M150.62 259.95V273.42M150.88 257.18V278.21M151.12 252.39V279.48M151.38 250.52V276.11M151.62 255.61V276.23M151.88 254.10V275.49M152.12 255.90V273.98M152.38 255.66V273.17M152.62 257.34V274.65M152.88 255.94V276.82M153.12 252.90V275.88M153.38 252.86V279.96M153.62 253.55V276.85M153.88 254.41V276.63M154.12 255.83V276.93M154.38 258.43V276.38M154.62 257.55V273.05M154.88 256.98V275.51M155.12 256.43V276.14M155.38 255.75V276.21M155.62 258.08V272.07M155.88 257.32V271.86M156.12 253.84V273.22M156.38 258.93V274.50M156.62 256.64V275.56M156.88 257.93V275.51M157.12 256.07V274.86M157.38 256.03V275.06M157.62 256.93V280.02M157.88 253.55V280.10M158.12 254.99V277.15M158.38 257.76V273.80M158.62 255.09V275.81M158.88 256.65V272.96M159.12 258.58V272.53M159.38 258.35V273.21M159.62 257.37V276.85M159.88 255.13V278.29M160.12 253.82V276.95M160.38 253.40V274.89M160.62 251.81V277.81M160.88 255.52V276.12M161.12 254.56V274.40M161.38 255.64V274.36M161.62 251.84V275.07M161.88 255.42V274.48M162.12 256.91V275.34M162.38 255.11V278.52M162.62 252.91V278.95M162.88 254.86V276.80M163.12 253.64V277.33M163.38 255.88V277.77M163.62 253.11V280.69M163.88 256.52V279.76M164.12 255.41V276.73M164.38 255.24V276.82M164.62 252.91V275.71M164.88 253.29V275.95M165.12 252.93V276.04M165.38 254.92V276.32M165.62 258.33V275.26M165.88 258.13V272.90M166.12 256.87V274.66M166.38 257.41V274.14M166.62 257.71V272.77M166.88 258.67V273.70M167.12 256.24V276.14M167.38 251.24V276.14M167.62 253.65V276.30M167.88 256.01V273.38M168.12 256.45V274.64M168.38 257.85V276.18M168.62 255.02V276.96M168.88 255.69V276.63M169.12 256.91V273.10M169.38 257.25V273.00M169.62 257.21V273.24M169.88 253.93V276.99M170.12 253.56V278.08M170.38 253.40V277.11M170.62 255.53V276.17M170.88 258.06V275.22M171.12 257.54V273.19M171.38 254.68V275.06M171.62 255.24V274.76M171.88 259.24V275.35M172.12 258.77V273.89M172.38 257.14V272.97M172.62 255.92V278.03M172.88 255.55V275.33M173.12 254.23V274.55M173.38 252.36V278.16M173.62 253.52V275.58M173.88 257.68V276.71M174.12 258.86V274.57M174.38 255.97V275.04M174.62 254.38V274.87M174.88 252.16V275.33M175.12 252.63V277.86M175.38 252.18V277.99M175.62 251.27V278.76M175.88 253.59V274.65M176.12 255.27V274.50M176.38 254.62V278.22M176.62 255.28V283.49M176.88 257.27V273.41M177.12 258.83V273.62M177.38 258.80V273.49M177.62 256.91V274.19M177.88 257.41V275.26M178.12 255.87V275.47M178.38 254.10V275.78M178.62 257.42V274.15M178.88 260.00V273.06M179.12 258.54V274.92M179.38 259.33V275.21M179.62 257.09V275.82M179.88 255.47V276.37M180.12 257.08V278.48M180.38 255.23V276.33M180.62 257.58V278.42M180.88 259.53V272.56M181.12 260.17V271.16M181.38 258.33V270.92M181.62 257.24V272.53M181.88 255.00V273.15M182.12 257.77V275.51M182.38 258.20V274.81M182.62 259.35V273.57M182.88 257.64V274.31M183.12 255.82V274.48M183.38 254.86V276.30M183.62 257.18V274.02M183.88 257.96V273.18M184.12 259.53V271.23M184.38 258.83V270.41M184.62 257.70V272.97M184.88 257.59V271.08M185.12 257.13V271.28M185.38 254.98V272.73M185.62 255.63V273.50M185.88 253.31V273.50M186.12 257.50V272.84M186.38 259.46V271.01M186.62 258.55V270.78M186.88 257.06V270.83M187.12 255.45V273.26M187.38 255.54V275.02M187.62 254.71V275.75M187.88 254.56V273.62M188.12 256.86V272.67M188.38 256.41V275.81M188.62 256.54V277.64M188.88 256.12V274.49M189.12 253.20V276.78M189.38 254.04V276.74M189.62 257.56V273.19M189.88 257.69V272.42M190.12 258.40V273.08M190.38 256.58V273.20M190.62 258.68V275.06M190.88 258.43V272.19M191.12 258.15V273.55M191.38 258.53V272.70M191.62 259.72V274.33M191.88 256.30V275.69M192.12 255.07V277.06M192.38 255.49V275.94M192.62 257.30V275.42M192.88 256.16V277.66M193.12 256.49V276.97M193.38 255.70V277.47M193.62 259.11V274.77M193.88 256.08V278.07M194.12 252.94V280.66M194.38 255.03V277.62M194.62 254.46V278.60M194.88 255.83V277.41M195.12 255.92V276.05M195.38 258.01V273.27M195.62 254.92V274.15M195.88 255.66V275.64M196.12 254.94V278.89M196.38 255.91V279.05M196.62 257.21V275.44M196.88 255.56V278.62M197.12 253.58V281.82M197.38 254.85V276.35M197.62 252.49V273.87M197.88 254.62V276.58M198.12 252.74V282.85M198.38 255.76V278.90M198.62 256.23V275.28M198.88 256.81V277.42M199.12 254.69V276.69M199.38 254.82V279.07M199.62 250.97V278.32M199.88 250.20V276.24M200.12 254.66V276.40M200.38 253.88V280.63M200.62 252.37V277.95M200.88 255.32V273.93M201.12 253.68V274.37M201.38 255.03V273.93M201.62 257.47V274.69M201.88 255.73V273.33M202.12 251.41V274.37M202.38 251.86V277.73M202.62 249.79V277.91M202.88 255.02V278.60M203.12 254.61V275.90M203.38 258.01V273.39M203.62 257.60V273.56M203.88 255.82V272.48M204.12 257.06V274.01M204.38 253.68V280.96M204.62 251.06V279.79M204.88 251.04V278.00M205.12 255.44V275.69M205.38 254.36V275.80M205.62 253.57V278.96M205.88 253.37V276.93M206.12 254.18V278.34M206.38 254.73V278.68M206.62 254.30V279.77M206.88 254.42V278.13M207.12 257.51V275.98M207.38 256.73V276.95M207.62 256.09V274.60M207.88 250.29V276.79M208.12 254.19V278.76M208.38 254.59V274.34M208.62 256.14V275.83M208.88 257.39V272.62M209.12 258.02V273.42M209.38 257.04V274.84M209.62 255.61V275.19M209.88 255.18V276.69M210.12 257.28V272.62M210.38 254.95V272.78M210.62 256.28V273.19M210.88 255.31V273.09M211.12 254.22V275.56M211.38 253.87V275.48M211.62 253.80V277.05M211.88 253.34V275.01M212.12 254.70V274.11M212.38 255.60V274.17M212.62 255.45V275.66M212.88 253.79V278.00M213.12 253.79V277.26M213.38 255.43V275.19M213.62 258.36V272.18M213.88 257.85V272.56M214.12 256.97V273.98M214.38 253.34V276.12M214.62 256.23V275.89M214.88 258.13V272.11M215.12 255.02V275.42M215.38 251.60V275.57M215.62 253.63V278.57M215.88 256.09V277.12M216.12 258.16V276.30M216.38 258.71V274.68M216.62 258.49V275.13M216.88 258.58V274.74M217.12 256.61V274.84M217.38 255.85V274.54M217.62 255.26V276.37M217.88 254.85V277.49M218.12 257.62V273.69M218.38 257.59V272.43M218.62 259.53V271.49M218.88 259.67V270.84M219.12 258.19V272.84M219.38 258.57V274.74M219.62 259.59V272.19M219.88 259.78V271.53M220.12 259.71V272.53M220.38 258.56V274.29M220.62 257.63V273.57M220.88 259.11V274.32M221.12 260.16V272.47M221.38 258.20V272.27M221.62 259.62V272.85M221.88 260.22V271.90M222.12 260.42V271.91M222.38 257.83V271.94M222.62 260.13V272.16M222.88 259.41V272.65M223.12 258.17V273.31M223.38 258.54V274.78M223.62 258.61V273.85M223.88 258.53V274.40M224.12 259.13V273.51M224.38 258.95V273.56M224.62 258.94V273.37M224.88 258.95V271.76M225.12 257.77V272.15M225.38 256.96V274.12M225.62 258.12V272.82M225.88 259.10V272.23M226.12 258.52V270.92M226.38 257.96V270.71M226.62 259.08V271.72M226.88 256.37V274.15M227.12 254.73V275.31M227.38 257.37V272.05M227.62 257.56V273.43M227.88 257.99V274.13M228.12 256.55V275.61M228.38 257.37V274.05M228.62 255.22V277.61M228.88 254.48V276.93M229.12 256.98V274.92M229.38 258.13V272.73M229.62 258.93V274.92M229.88 255.93V274.98M230.12 255.26V276.25M230.38 255.44V275.94M230.62 255.57V275.23M230.88 255.51V275.46M231.12 254.32V277.54M231.38 253.42V277.95M231.62 255.54V280.28M231.88 253.72V275.86M232.12 252.56V276.86M232.38 257.53V272.84M232.62 258.68V273.47M232.88 258.38V272.90M233.12 258.65V275.62M233.38 257.88V277.70M233.62 259.34V272.77M233.88 259.52V273.24M234.12 255.13V273.02M234.38 254.58V275.64M234.62 255.10V277.17M234.88 257.31V273.87M235.12 255.05V274.52M235.38 256.26V274.25M235.62 259.17V273.01M235.88 257.71V273.07M236.12 258.50V274.09M236.38 254.81V279.02M236.62 252.46V278.07M236.88 256.46V277.23M237.12 256.08V275.13M237.38 256.18V274.47M237.62 257.24V280.75M237.88 256.01V276.18M238.12 257.61V272.79M238.38 257.58V271.79M238.62 256.79V272.81M238.88 256.31V274.58M239.12 255.54V274.90M239.38 258.15V273.76M239.62 257.57V273.72M239.88 255.32V273.99M240.12 256.24V272.87M240.38 259.13V274.55M240.62 257.71V273.05M240.88 256.73V274.97M241.12 257.62V273.54M241.38 258.95V271.70M241.62 260.19V272.84M241.88 257.90V274.84M242.12 256.91V273.79M242.38 256.70V277.79M242.62 256.85V274.79M242.88 256.31V272.86M243.12 254.92V274.32M243.38 256.26V273.92M243.62 253.74V274.64M243.88 257.15V273.64M244.12 257.61V272.73M244.38 256.92V272.22M244.62 258.03V271.16M244.88 258.76V271.89M245.12 260.51V273.63M245.38 260.59V272.89M245.62 259.52V272.73M245.88 259.09V271.27M246.12 259.04V272.80M246.38 258.11V271.98M246.62 257.22V272.26M246.88 256.34V276.28M247.12 254.62V274.48M247.38 257.57V273.04M247.62 256.27V275.10M247.88 256.52V275.16M248.12 256.59V272.15M248.38 258.18V275.18M248.62 258.86V277.92M248.88 258.91V276.60M249.12 259.02V272.29M249.38 258.30V272.53M249.62 256.62V273.32M249.88 256.55V273.07M250.12 256.62V273.58M250.38 256.99V272.75M250.62 257.38V273.76M250.88 255.72V275.85M251.12 256.45V275.25M251.38 254.99V272.95M251.62 255.95V274.34M251.88 256.62V273.22M252.12 257.36V273.18M252.38 256.99V273.28M252.62 255.52V279.79M252.88 254.47V276.76M253.12 255.38V273.31M253.38 257.64V273.19M253.62 255.98V276.76M253.88 253.44V277.18M254.12 257.39V277.65M254.38 256.73V276.43M254.62 254.16V276.62M254.88 257.30V274.38M255.12 257.22V273.39M255.38 257.87V275.10M255.62 258.76V274.01M255.88 258.37V273.44M256.12 258.44V275.05M256.38 258.38V274.37M256.62 257.85V273.92M256.88 258.35V274.00M257.12 258.13V272.58M257.38 257.40V273.72M257.62 253.93V272.78M257.88 258.12V272.38M258.12 257.26V271.93M258.38 258.66V272.39M258.62 259.62V272.68M258.88 259.95V270.94M259.12 258.74V272.22M259.38 258.96V272.00" stroke="#0000ff" stroke-width="0.620" fill="none"/>
<rect x="31.50" y="228.40" width="228.00" height="73.80" fill="none" stroke="#505050" stroke-width="1.05"/>
<path d="M31.50 302.20V300.00M31.50 228.40V230.60M54.30 302.20V300.00M54.30 228.40V230.60M77.10 302.20V300.00M77.10 228.40V230.60M99.90 302.20V300.00M99.90 228.40V230.60M122.70 302.20V300.00M122.70 228.40V230.60M145.50 302.20V300.00M145.50 228.40V230.60M168.30 302.20V300.00M168.30 228.40V230.60M191.10 302.20V300.00M191.10 228.40V230.60M213.90 302.20V300.00M213.90 228.40V230.60M236.70 302.20V300.00M236.70 228.40V230.60M259.50 302.20V300.00M259.50 228.40V230.60M31.50 302.20H33.70M259.50 302.20H257.30M31.50 283.75H33.70M259.50 283.75H257.30M31.50 265.30H33.70M259.50 265.30H257.30M31.50 246.85H33.70M259.50 246.85H257.30M31.50 228.40H33.70M259.50 228.40H257.30" stroke="#333" stroke-width="0.8" fill="none"/>
<text x="31.50" y="311.30" text-anchor="middle" font-size="6.70">0</text>
<text x="54.30" y="311.30" text-anchor="middle" font-size="6.70">0.1</text>
<text x="77.10" y="311.30" text-anchor="middle" font-size="6.70">0.2</text>
<text x="99.90" y="311.30" text-anchor="middle" font-size="6.70">0.3</text>
<text x="122.70" y="311.30" text-anchor="middle" font-size="6.70">0.4</text>
<text x="145.50" y="311.30" text-anchor="middle" font-size="6.70">0.5</text>
<text x="168.30" y="311.30" text-anchor="middle" font-size="6.70">0.6</text>
<text x="191.10" y="311.30" text-anchor="middle" font-size="6.70">0.7</text>
<text x="213.90" y="311.30" text-anchor="middle" font-size="6.70">0.8</text>
<text x="236.70" y="311.30" text-anchor="middle" font-size="6.70">0.9</text>
<text x="259.50" y="311.30" text-anchor="middle" font-size="6.70">1</text>
<text x="29.10" y="304.60" text-anchor="end" font-size="6.70">-1</text>
<text x="29.10" y="286.15" text-anchor="end" font-size="6.70">-0.5</text>
<text x="29.10" y="267.70" text-anchor="end" font-size="6.70">0</text>
<text x="29.10" y="249.25" text-anchor="end" font-size="6.70">0.5</text>
<text x="29.10" y="230.80" text-anchor="end" font-size="6.70">1</text>
<text x="144.70" y="320.00" text-anchor="middle" font-size="6.70">Time(t/s)</text>
<text transform="translate(12.60 265.30) rotate(-90)" text-anchor="middle" font-size="7.10">Acceleration(a/ms<tspan dy="-2.2" font-size="4.6">-2</tspan><tspan dy="2.2">)</tspan></text>
<path d="M31.67 404.52V407.70M32.00 404.63V407.70M32.33 404.58V407.70M32.67 405.09V407.70M33.00 404.88V407.70M33.33 404.63V407.70M33.67 404.76V407.70M34.00 405.25V407.70M34.33 404.65V407.70M34.67 404.67V407.70M35.00 404.60V407.70M35.33 404.40V407.70M35.67 404.86V407.70M36.00 404.98V407.70M36.33 400.70V407.70M36.67 400.96V407.70M37.00 400.39V407.70M37.33 402.69V407.70M37.67 398.95V407.70M38.00 400.49V407.70M38.33 402.63V407.70M38.67 401.43V407.70M39.00 402.34V407.70M39.33 403.19V407.70M39.67 402.84V407.70M40.00 402.20V407.70M40.33 404.76V407.70M40.67 403.09V407.70M41.00 402.22V407.70M41.33 404.43V407.70M41.67 404.15V407.70M42.00 403.16V407.70M42.33 402.90V407.70M42.67 403.19V407.70M43.00 403.34V407.70M43.33 404.52V407.70M43.67 401.18V407.70M44.00 402.27V407.70M44.33 403.60V407.70M44.67 399.56V407.70M45.00 400.76V407.70M45.33 401.64V407.70M45.67 400.46V407.70M46.00 401.54V407.70M46.33 403.51V407.70M46.67 401.68V407.70M47.00 401.53V407.70M47.33 401.92V407.70M47.67 402.83V407.70M48.00 402.34V407.70M48.33 401.30V407.70M48.67 400.70V407.70M49.00 402.03V407.70M49.33 402.01V407.70M49.67 400.00V407.70M50.00 398.64V407.70M50.33 401.69V407.70M50.67 399.08V407.70M51.00 399.76V407.70M51.33 403.07V407.70M51.67 399.80V407.70M52.00 399.87V407.70M52.33 396.56V407.70M52.67 402.36V407.70M53.00 396.63V407.70M53.33 396.68V407.70M53.67 398.41V407.70M54.00 401.12V407.70M54.33 397.17V407.70M54.67 401.25V407.70M55.00 400.04V407.70M55.33 397.75V407.70M55.67 399.24V407.70M56.00 398.96V407.70M56.33 400.01V407.70M56.67 402.21V407.70M57.00 399.51V407.70M57.33 398.10V407.70M57.67 399.67V407.70M58.00 404.16V407.70M58.33 402.54V407.70M58.67 403.50V407.70M59.00 403.56V407.70M59.33 402.89V407.70M59.67 403.59V407.70M60.00 404.37V407.70M60.33 404.01V407.70M60.67 403.64V407.70M61.00 404.35V407.70M61.33 404.18V407.70M61.67 404.17V407.70M62.00 404.18V407.70M62.33 403.79V407.70M62.67 402.51V407.70M63.00 401.23V407.70M63.33 403.53V407.70M63.67 402.53V407.70M64.00 403.69V407.70M64.33 404.00V407.70M64.67 404.32V407.70M65.00 404.54V407.70M65.33 404.05V407.70M65.67 404.62V407.70M66.00 404.89V407.70M66.33 404.14V407.70M66.67 404.43V407.70M67.00 404.61V407.70M67.33 404.16V407.70M67.67 404.62V407.70M68.00 404.62V407.70M68.33 404.66V407.70M68.67 404.40V407.70M69.00 404.42V407.70M69.33 404.38V407.70M69.67 404.37V407.70M70.00 404.99V407.70M70.33 404.61V407.70M70.67 404.95V407.70M71.00 404.52V407.70M71.33 404.47V407.70M71.67 404.52V407.70M72.00 405.01V407.70M72.33 404.53V407.70M72.67 404.95V407.70M73.00 404.55V407.70M73.33 404.69V407.70M73.67 404.33V407.70M74.00 404.70V407.70M74.33 404.72V407.70M74.67 404.95V407.70M75.00 404.66V407.70M75.33 404.45V407.70M75.67 405.23V407.70M76.00 404.50V407.70M76.33 404.93V407.70M76.67 404.93V407.70M77.00 404.95V407.70M77.33 404.44V407.70M77.67 404.40V407.70M78.00 404.38V407.70M78.33 404.65V407.70M78.67 404.99V407.70M79.00 404.91V407.70M79.33 404.52V407.70M79.67 405.12V407.70M80.00 404.90V407.70M80.33 404.98V407.70M80.67 404.52V407.70M81.00 404.98V407.70M81.33 404.83V407.70M81.67 404.83V407.70M82.00 404.52V407.70M82.33 404.94V407.70M82.67 404.89V407.70M83.00 405.03V407.70M83.33 404.94V407.70M83.67 404.73V407.70M84.00 404.93V407.70M84.33 404.99V407.70M84.67 404.94V407.70M85.00 404.79V407.70M85.33 405.43V407.70M85.67 405.18V407.70M86.00 405.12V407.70M86.33 404.72V407.70M86.67 405.11V407.70M87.00 405.00V407.70M87.33 405.11V407.70M87.67 405.38V407.70M88.00 404.90V407.70M88.33 404.89V407.70M88.67 405.41V407.70M89.00 405.21V407.70M89.33 405.20V407.70M89.67 405.00V407.70M90.00 405.52V407.70M90.33 405.27V407.70M90.67 405.41V407.70M91.00 405.19V407.70M91.33 405.44V407.70M91.67 404.94V407.70M92.00 405.20V407.70M92.33 405.52V407.70M92.67 405.41V407.70M93.00 405.20V407.70M93.33 405.33V407.70M93.67 405.43V407.70M94.00 405.04V407.70M94.33 405.06V407.70M94.67 405.33V407.70M95.00 404.96V407.70M95.33 405.27V407.70M95.67 405.01V407.70M96.00 404.93V407.70M96.33 405.17V407.70M96.67 405.33V407.70M97.00 405.06V407.70M97.33 404.98V407.70M97.67 405.07V407.70M98.00 405.04V407.70M98.33 405.39V407.70M98.67 404.96V407.70M99.00 405.34V407.70M99.33 405.00V407.70M99.67 405.24V407.70M100.00 404.92V407.70M100.33 405.16V407.70M100.67 405.13V407.70M101.00 405.16V407.70M101.33 405.06V407.70M101.67 405.11V407.70M102.00 405.08V407.70M102.33 404.79V407.70M102.67 405.06V407.70M103.00 405.09V407.70M103.33 405.05V407.70M103.67 404.96V407.70M104.00 405.09V407.70M104.33 404.99V407.70M104.67 405.31V407.70M105.00 404.83V407.70M105.33 405.01V407.70M105.67 405.14V407.70M106.00 404.90V407.70M106.33 404.85V407.70M106.67 405.01V407.70M107.00 404.96V407.70M107.33 405.21V407.70M107.67 405.27V407.70M108.00 404.89V407.70M108.33 404.78V407.70M108.67 405.03V407.70M109.00 404.96V407.70M109.33 404.86V407.70M109.67 404.88V407.70M110.00 405.12V407.70M110.33 405.06V407.70M110.67 404.83V407.70M111.00 404.83V407.70M111.33 405.00V407.70M111.67 404.73V407.70M112.00 405.16V407.70M112.33 405.03V407.70M112.67 404.89V407.70M113.00 404.81V407.70M113.33 404.66V407.70M113.67 405.15V407.70M114.00 404.98V407.70M114.33 405.21V407.70M114.67 404.76V407.70M115.00 405.12V407.70M115.33 404.69V407.70M115.67 404.62V407.70M116.00 405.00V407.70M116.33 404.84V407.70M116.67 404.77V407.70M117.00 404.73V407.70M117.33 404.87V407.70M117.67 404.83V407.70M118.00 404.71V407.70M118.33 404.64V407.70M118.67 404.60V407.70M119.00 404.60V407.70M119.33 404.93V407.70M119.67 404.75V407.70M120.00 405.05V407.70M120.33 403.92V407.70M120.67 403.37V407.70M121.00 402.65V407.70M121.33 404.07V407.70M121.67 403.64V407.70M122.00 402.83V407.70M122.33 401.00V407.70M122.67 402.19V407.70M123.00 401.96V407.70M123.33 400.03V407.70M123.67 403.16V407.70M124.00 403.07V407.70M124.33 403.03V407.70M124.67 400.43V407.70M125.00 401.91V407.70M125.33 400.81V407.70M125.67 399.80V407.70M126.00 399.35V407.70M126.33 399.15V407.70M126.67 400.34V407.70M127.00 393.62V407.70M127.33 391.84V407.70M127.67 393.28V407.70M128.00 395.26V407.70M128.33 388.43V407.70M128.67 398.23V407.70M129.00 390.89V407.70M129.33 393.77V407.70M129.67 397.77V407.70M130.00 395.24V407.70M130.33 396.11V407.70M130.67 401.71V407.70M131.00 397.86V407.70M131.33 395.55V407.70M131.67 396.40V407.70M132.00 400.42V407.70M132.33 399.57V407.70M132.67 395.61V407.70M133.00 401.39V407.70M133.33 395.40V407.70M133.67 396.48V407.70M134.00 397.60V407.70M134.33 396.85V407.70M134.67 395.88V407.70M135.00 399.37V407.70M135.33 390.91V407.70M135.67 395.04V407.70M136.00 392.14V407.70M136.33 398.05V407.70M136.67 388.88V407.70M137.00 390.17V407.70M137.33 394.92V407.70M137.67 386.78V407.70M138.00 386.44V407.70M138.33 391.26V407.70M138.67 393.63V407.70M139.00 386.64V407.70M139.33 398.29V407.70M139.67 384.92V407.70M140.00 384.65V407.70M140.33 396.40V407.70M140.67 384.60V407.70M141.00 392.94V407.70M141.33 386.40V407.70M141.67 386.19V407.70M142.00 395.28V407.70M142.33 393.21V407.70M142.67 386.42V407.70M143.00 388.66V407.70M143.33 389.92V407.70M143.67 395.69V407.70M144.00 390.35V407.70M144.33 398.42V407.70M144.67 394.53V407.70M145.00 394.22V407.70M145.33 396.93V407.70M145.67 390.03V407.70M146.00 396.70V407.70M146.33 382.98V407.70M146.67 389.57V407.70M147.00 386.10V407.70M147.33 389.43V407.70M147.67 395.58V407.70M148.00 390.88V407.70M148.33 398.20V407.70M148.67 393.33V407.70M149.00 389.24V407.70M149.33 395.33V407.70M149.67 386.29V407.70M150.00 389.60V407.70M150.33 398.22V407.70M150.67 392.29V407.70M151.00 387.07V407.70M151.33 394.72V407.70M151.67 396.79V407.70M152.00 394.62V407.70M152.33 388.24V407.70M152.67 386.09V407.70M153.00 385.97V407.70M153.33 381.05V407.70M153.67 380.66V407.70M154.00 376.39V407.70M154.33 370.84V407.70M154.67 377.64V407.70M155.00 390.28V407.70M155.33 388.26V407.70M155.67 384.65V407.70M156.00 371.87V407.70M156.33 390.71V407.70M156.67 377.31V407.70M157.00 382.33V407.70M157.33 385.92V407.70M157.67 377.48V407.70M158.00 375.27V407.70M158.33 375.02V407.70M158.67 386.61V407.70M159.00 387.21V407.70M159.33 387.24V407.70M159.67 386.47V407.70M160.00 386.64V407.70M160.33 379.87V407.70M160.67 384.28V407.70M161.00 377.93V407.70M161.33 371.31V407.70M161.67 374.62V407.70M162.00 389.94V407.70M162.33 371.79V407.70M162.67 382.71V407.70M163.00 387.59V407.70M163.33 388.97V407.70M163.67 395.61V407.70M164.00 394.54V407.70M164.33 392.63V407.70M164.67 397.64V407.70M165.00 388.45V407.70M165.33 394.33V407.70M165.67 393.60V407.70M166.00 396.27V407.70M166.33 391.24V407.70M166.67 392.19V407.70M167.00 395.84V407.70M167.33 401.58V407.70M167.67 396.11V407.70M168.00 399.28V407.70M168.33 401.44V407.70M168.67 399.89V407.70M169.00 399.35V407.70M169.33 400.04V407.70M169.67 403.24V407.70M170.00 399.74V407.70M170.33 401.84V407.70M170.67 400.59V407.70M171.00 402.70V407.70M171.33 401.41V407.70M171.67 402.13V407.70M172.00 404.61V407.70M172.33 402.53V407.70M172.67 403.03V407.70M173.00 403.49V407.70M173.33 404.61V407.70M173.67 403.63V407.70M174.00 403.48V407.70M174.33 403.17V407.70M174.67 403.96V407.70M175.00 404.51V407.70M175.33 403.84V407.70M175.67 404.15V407.70M176.00 404.25V407.70M176.33 404.12V407.70M176.67 404.80V407.70M177.00 405.14V407.70M177.33 404.37V407.70M177.67 404.18V407.70M178.00 404.48V407.70M178.33 404.50V407.70M178.67 404.63V407.70M179.00 404.83V407.70M179.33 405.10V407.70M179.67 404.54V407.70M180.00 405.00V407.70M180.33 404.75V407.70M180.67 405.00V407.70M181.00 404.88V407.70M181.33 404.62V407.70M181.67 404.68V407.70M182.00 404.97V407.70M182.33 404.71V407.70M182.67 404.92V407.70M183.00 404.83V407.70M183.33 404.80V407.70M183.67 404.71V407.70M184.00 404.78V407.70M184.33 404.70V407.70M184.67 404.69V407.70M185.00 404.59V407.70M185.33 404.57V407.70M185.67 404.66V407.70M186.00 404.62V407.70M186.33 404.72V407.70M186.67 404.49V407.70M187.00 404.78V407.70M187.33 404.68V407.70M187.67 404.96V407.70M188.00 404.87V407.70M188.33 404.89V407.70M188.67 404.53V407.70M189.00 404.87V407.70M189.33 405.08V407.70M189.67 404.61V407.70M190.00 404.68V407.70M190.33 404.91V407.70M190.67 404.86V407.70M191.00 404.69V407.70M191.33 404.78V407.70M191.67 404.53V407.70M192.00 404.87V407.70M192.33 404.86V407.70M192.67 404.94V407.70M193.00 404.47V407.70M193.33 404.60V407.70M193.67 404.45V407.70M194.00 404.83V407.70M194.33 404.51V407.70M194.67 404.51V407.70M195.00 404.30V407.70M195.33 404.60V407.70M195.67 404.63V407.70M196.00 404.58V407.70M196.33 405.10V407.70M196.67 405.12V407.70M197.00 404.56V407.70M197.33 404.98V407.70M197.67 404.90V407.70M198.00 404.72V407.70M198.33 404.38V407.70M198.67 404.64V407.70M199.00 404.71V407.70M199.33 404.35V407.70M199.67 405.03V407.70M200.00 404.75V407.70M200.33 405.03V407.70M200.67 404.65V407.70M201.00 404.98V407.70M201.33 404.92V407.70M201.67 404.76V407.70M202.00 404.96V407.70M202.33 404.70V407.70M202.67 404.86V407.70M203.00 404.70V407.70M203.33 405.26V407.70M203.67 405.07V407.70M204.00 405.28V407.70M204.33 404.94V407.70M204.67 405.21V407.70M205.00 405.28V407.70M205.33 405.32V407.70M205.67 405.37V407.70M206.00 405.37V407.70M206.33 405.26V407.70M206.67 405.46V407.70M207.00 405.51V407.70M207.33 405.60V407.70M207.67 405.62V407.70M208.00 405.69V407.70M208.33 405.60V407.70M208.67 405.76V407.70M209.00 405.74V407.70M209.33 405.43V407.70M209.67 405.62V407.70M210.00 405.61V407.70M210.33 405.55V407.70M210.67 405.85V407.70M211.00 405.77V407.70M211.33 405.72V407.70M211.67 405.53V407.70M212.00 405.63V407.70M212.33 405.57V407.70M212.67 405.68V407.70M213.00 405.78V407.70M213.33 405.68V407.70M213.67 405.80V407.70M214.00 405.59V407.70M214.33 405.63V407.70M214.67 405.78V407.70M215.00 405.64V407.70M215.33 405.84V407.70M215.67 405.56V407.70M216.00 405.85V407.70M216.33 405.69V407.70M216.67 405.74V407.70M217.00 405.88V407.70M217.33 405.69V407.70M217.67 405.92V407.70M218.00 405.91V407.70M218.33 405.80V407.70M218.67 405.52V407.70M219.00 405.91V407.70M219.33 405.85V407.70M219.67 405.81V407.70M220.00 405.62V407.70M220.33 405.65V407.70M220.67 405.52V407.70M221.00 405.71V407.70M221.33 405.75V407.70M221.67 405.51V407.70M222.00 405.73V407.70M222.33 405.83V407.70M222.67 405.85V407.70M223.00 405.84V407.70M223.33 405.68V407.70M223.67 405.75V407.70M224.00 405.90V407.70M224.33 405.74V407.70M224.67 405.91V407.70M225.00 405.60V407.70M225.33 405.63V407.70M225.67 405.59V407.70M226.00 405.52V407.70M226.33 405.62V407.70M226.67 405.89V407.70M227.00 405.87V407.70M227.33 405.57V407.70M227.67 405.73V407.70M228.00 405.51V407.70M228.33 405.90V407.70M228.67 405.54V407.70M229.00 405.91V407.70M229.33 405.20V407.70M229.67 405.08V407.70M230.00 404.79V407.70M230.33 405.03V407.70M230.67 404.76V407.70M231.00 404.61V407.70M231.33 405.10V407.70M231.67 404.79V407.70M232.00 404.66V407.70M232.33 404.94V407.70M232.67 404.56V407.70M233.00 404.98V407.70M233.33 404.43V407.70M233.67 404.88V407.70M234.00 404.48V407.70M234.33 404.75V407.70M234.67 404.83V407.70M235.00 404.61V407.70M235.33 404.55V407.70M235.67 404.88V407.70M236.00 404.61V407.70M236.33 405.33V407.70M236.67 405.72V407.70M237.00 406.31V407.70M237.33 406.30V407.70M237.67 406.22V407.70M238.00 406.26V407.70M238.33 406.27V407.70M238.67 406.07V407.70M239.00 406.16V407.70M239.33 406.30V407.70M239.67 406.34V407.70M240.00 406.33V407.70M240.33 406.28V407.70M240.67 406.12V407.70M241.00 406.12V407.70M241.33 406.18V407.70M241.67 406.25V407.70M242.00 406.10V407.70M242.33 406.15V407.70M242.67 406.21V407.70M243.00 406.18V407.70M243.33 406.08V407.70M243.67 406.23V407.70M244.00 406.10V407.70M244.33 406.08V407.70M244.67 406.34V407.70M245.00 406.22V407.70M245.33 406.12V407.70M245.67 406.25V407.70M246.00 406.31V407.70M246.33 406.17V407.70M246.67 406.09V407.70M247.00 406.26V407.70M247.33 406.13V407.70M247.67 406.08V407.70M248.00 406.20V407.70M248.33 406.11V407.70M248.67 406.20V407.70M249.00 406.21V407.70M249.33 406.17V407.70M249.67 406.23V407.70M250.00 406.11V407.70M250.33 406.16V407.70M250.67 406.16V407.70M251.00 406.12V407.70M251.33 406.24V407.70M251.67 406.18V407.70M252.00 406.13V407.70M252.33 406.10V407.70M252.67 406.15V407.70M253.00 406.30V407.70M253.33 406.20V407.70M253.67 406.33V407.70M254.00 406.28V407.70M254.33 406.31V407.70M254.67 406.33V407.70M255.00 406.30V407.70M255.33 406.31V407.70M255.67 406.13V407.70M256.00 406.22V407.70M256.33 406.25V407.70M256.67 406.29V407.70M257.00 406.14V407.70M257.33 406.24V407.70M257.67 406.17V407.70M258.00 406.28V407.70M258.33 406.33V407.70M258.67 406.14V407.70M259.00 406.14V407.70M259.33 406.14V407.70" stroke="#0000ff" stroke-width="0.700" fill="none"/><path d="M31.70 349.80V407.20M37.20 384.80V407.20M44.50 388.70V407.20M45.50 388.70V407.20M47.20 388.00V407.20M50.50 386.50V407.20M51.80 389.00V407.20M53.30 384.30V407.20M55.50 380.00V407.20M57.00 381.50V407.20M63.50 397.10V407.20M68.30 390.40V407.20M70.80 396.00V407.20M73.40 385.80V407.20M76.30 399.00V407.20M83.20 398.00V407.20M85.30 366.10V407.20M96.50 400.50V407.20M104.80 399.50V407.20M121.50 399.50V407.20M125.00 397.00V407.20M127.50 382.50V407.20M128.50 383.10V407.20M130.80 386.40V407.20M133.40 367.30V407.20M136.50 384.70V407.20M137.50 385.00V407.20M139.30 371.20V407.20M140.40 382.00V407.20M143.10 382.00V407.20M144.70 392.00V407.20M146.00 373.40V407.20M147.00 375.50V407.20M148.70 385.80V407.20M150.90 380.00V407.20M153.50 354.20V407.20M155.70 355.30V407.20M157.00 364.00V407.20M158.30 341.50V407.20M159.60 352.00V407.20M161.00 364.00V407.20M162.00 356.00V407.20M163.50 372.60V407.20M165.50 363.00V407.20M167.30 380.40V407.20M168.40 392.00V407.20M169.80 395.20V407.20M171.90 399.90V407.20M183.50 401.00V407.20M188.30 399.00V407.20M190.60 395.20V407.20" stroke="#0000ff" stroke-width="0.900" fill="none"/>
<rect x="31.50" y="333.00" width="228.00" height="74.20" fill="none" stroke="#505050" stroke-width="1.05"/>
<path d="M31.50 407.20V405.00M31.50 333.00V335.20M69.50 407.20V405.00M69.50 333.00V335.20M107.50 407.20V405.00M107.50 333.00V335.20M145.50 407.20V405.00M145.50 333.00V335.20M183.50 407.20V405.00M183.50 333.00V335.20M221.50 407.20V405.00M221.50 333.00V335.20M259.50 407.20V405.00M259.50 333.00V335.20M31.50 407.20H33.70M259.50 407.20H257.30M31.50 382.47H33.70M259.50 382.47H257.30M31.50 357.73H33.70M259.50 357.73H257.30M31.50 333.00H33.70M259.50 333.00H257.30" stroke="#333" stroke-width="0.8" fill="none"/>
<text x="31.50" y="416.30" text-anchor="middle" font-size="6.70">0</text>
<text x="69.50" y="416.30" text-anchor="middle" font-size="6.70">1000</text>
<text x="107.50" y="416.30" text-anchor="middle" font-size="6.70">2000</text>
<text x="145.50" y="416.30" text-anchor="middle" font-size="6.70">3000</text>
<text x="183.50" y="416.30" text-anchor="middle" font-size="6.70">4000</text>
<text x="221.50" y="416.30" text-anchor="middle" font-size="6.70">5000</text>
<text x="259.50" y="416.30" text-anchor="middle" font-size="6.70">6000</text>
<text x="29.10" y="409.60" text-anchor="end" font-size="6.70">0</text>
<text x="29.10" y="384.87" text-anchor="end" font-size="6.70">0.01</text>
<text x="29.10" y="360.13" text-anchor="end" font-size="6.70">0.02</text>
<text x="29.10" y="335.40" text-anchor="end" font-size="6.70">0.03</text>
<text x="145.50" y="425.00" text-anchor="middle" font-size="6.70">Frequency(f/Hz)</text>
<text transform="translate(10.80 370.90) rotate(-90)" text-anchor="middle" font-size="7.10">Spectrum magnitude(a/ms<tspan dy="-2.2" font-size="4.6">-2</tspan><tspan dy="2.2">)</tspan></text>
<path d="M305.73 261.81V267.75M305.98 260.75V268.25M306.23 262.99V268.61M306.48 261.10V266.24M306.73 262.33V267.17M306.98 261.10V267.07M307.23 246.24V284.10M307.48 252.46V276.72M307.73 261.98V270.48M307.98 260.74V267.87M308.23 262.39V269.55M308.48 263.28V266.22M308.73 261.40V270.13M308.98 262.21V267.01M309.23 262.00V270.08M309.48 239.61V284.90M309.73 253.93V278.51M309.98 261.68V269.05M310.23 262.47V267.18M310.48 261.32V265.69M310.73 259.75V266.88M310.98 261.58V266.52M311.23 244.68V268.81M311.48 252.45V278.48M311.73 259.29V271.06M311.98 263.28V267.58M312.23 261.59V267.74M312.48 262.64V267.88M312.73 260.46V270.47M312.98 242.41V268.86M313.23 248.39V288.18M313.48 259.01V272.66M313.73 262.53V267.15M313.98 260.45V268.52M314.23 264.18V269.04M314.48 261.12V267.28M314.73 261.43V268.71M314.98 262.59V267.11M315.23 262.71V266.99M315.48 244.43V279.22M315.73 259.83V270.36M315.98 262.38V270.75M316.23 262.31V267.75M316.48 261.65V269.11M316.73 261.71V268.82M316.98 260.98V266.86M317.23 244.25V283.40M317.48 254.37V275.21M317.73 257.10V269.45M317.98 263.69V267.94M318.23 261.97V268.02M318.48 261.78V268.58M318.73 261.62V268.34M318.98 242.32V287.12M319.23 254.99V277.07M319.48 262.59V267.33M319.73 261.56V267.07M319.98 261.51V270.68M320.23 262.91V269.69M320.48 262.19V267.50M320.73 261.88V267.78M320.98 262.41V267.23M321.23 238.54V288.92M321.48 252.03V275.05M321.73 259.24V269.27M321.98 260.22V268.06M322.23 263.84V267.75M322.48 262.47V268.24M322.73 263.17V268.69M322.98 243.84V280.27M323.23 256.34V274.95M323.48 259.90V269.16M323.73 261.91V267.82M323.98 261.23V267.20M324.23 260.64V269.03M324.48 240.69V267.23M324.73 252.07V286.60M324.98 257.94V272.53M325.23 261.90V269.37M325.48 259.37V268.73M325.73 260.21V267.27M325.98 262.45V267.26M326.23 245.75V283.01M326.48 256.43V271.70M326.73 261.27V273.50M326.98 262.05V266.91M327.23 261.28V266.24M327.48 258.87V268.41M327.73 263.37V268.83M327.98 247.80V275.70M328.23 258.41V273.75M328.48 261.42V268.78M328.73 261.99V268.92M328.98 260.30V267.43M329.23 262.89V267.33M329.48 262.25V267.11M329.73 260.06V267.32M329.98 261.60V266.81M330.23 240.26V281.15M330.48 251.44V278.05M330.73 261.29V271.83M330.98 261.26V268.31M331.23 263.56V266.44M331.48 263.63V268.90M331.73 261.99V266.43M331.98 264.34V269.50M332.23 232.76V290.94M332.48 255.74V274.97M332.73 259.33V269.00M332.98 261.48V266.81M333.23 261.69V267.57M333.48 261.70V267.78M333.73 262.41V267.05M333.98 243.62V282.29M334.23 256.42V272.47M334.48 260.52V268.46M334.73 261.18V268.25M334.98 261.55V268.10M335.23 262.84V266.25M335.48 262.12V266.98M335.73 262.76V266.98M335.98 249.84V282.69M336.23 257.02V268.95M336.48 262.57V268.35M336.73 261.74V267.00M336.98 261.33V266.50M337.23 261.41V267.46M337.48 263.26V267.54M337.73 239.92V285.60M337.98 256.90V271.94M338.23 259.87V267.76M338.48 261.16V267.03M338.73 262.66V267.42M338.98 262.21V268.64M339.23 236.50V285.89M339.48 247.72V283.71M339.73 259.11V270.28M339.98 262.19V268.37M340.23 262.07V268.46M340.48 263.49V267.97M340.73 260.01V268.64M340.98 263.23V269.02M341.23 236.92V286.75M341.48 243.78V285.10M341.73 257.20V271.33M341.98 261.37V268.41M342.23 262.08V268.08M342.48 261.71V268.62M342.73 262.34V267.77M342.98 262.19V265.73M343.23 233.28V290.84M343.48 254.00V270.99M343.73 261.94V269.74M343.98 261.89V267.94M344.23 261.66V266.99M344.48 261.55V268.16M344.73 260.83V268.72M344.98 262.74V269.48M345.23 244.50V282.19M345.48 253.17V276.92M345.73 261.63V269.69M345.98 262.06V268.31M346.23 261.81V267.41M346.48 263.22V268.93M346.73 262.62V267.23M346.98 248.73V266.97M347.23 251.34V278.86M347.48 260.28V271.04M347.73 261.72V269.80M347.98 262.54V269.71M348.23 261.50V267.99M348.48 261.19V266.06M348.73 260.88V268.23M348.98 263.01V269.99M349.23 235.93V289.62M349.48 255.45V280.72M349.73 260.59V270.04M349.98 260.29V268.41M350.23 261.93V269.35M350.48 262.62V266.67M350.73 260.57V268.61M350.98 260.79V267.42M351.23 240.15V285.45M351.48 257.27V276.09M351.73 260.21V271.22M351.99 261.24V267.51M352.24 262.34V268.84M352.49 261.63V266.45M352.74 245.34V268.07M352.99 253.28V283.21M353.24 258.38V272.22M353.49 262.66V267.68M353.74 262.28V268.07M353.99 261.69V269.71M354.24 262.46V268.58M354.49 262.55V267.05M354.74 240.39V284.08M354.99 256.30V273.23M355.24 258.99V269.86M355.49 263.08V267.51M355.74 260.26V268.11M355.99 258.98V266.90M356.24 235.81V292.07M356.49 242.98V283.31M356.74 257.05V272.47M356.99 260.12V268.27M357.24 260.45V268.69M357.49 262.58V268.47M357.74 261.82V268.44M357.99 238.56V268.79M358.24 242.39V289.07M358.49 256.90V273.46M358.74 258.08V267.52M358.99 262.52V266.43M359.24 261.50V267.87M359.49 263.21V269.39M359.74 244.90V284.55M359.99 253.87V277.93M360.24 259.06V266.87M360.49 259.70V268.51M360.74 261.40V266.90M360.99 262.26V267.39M361.24 262.31V267.89M361.49 233.77V267.71M361.74 244.34V292.58M361.99 257.89V270.91M362.24 258.67V269.80M362.49 262.24V267.91M362.74 263.02V267.77M362.99 262.35V266.71M363.24 243.85V282.86M363.49 254.54V278.47M363.74 259.90V267.60M363.99 261.90V268.90M364.24 261.64V268.32M364.49 261.95V266.78M364.74 261.61V266.67M364.99 262.47V268.72M365.24 264.94V267.24M365.49 244.19V281.87M365.74 255.36V272.58M365.99 261.55V267.86M366.24 260.80V268.69M366.49 262.50V268.09M366.74 261.24V270.14M366.99 261.15V269.87M367.24 261.21V268.66M367.49 234.72V290.00M367.74 254.38V276.77M367.99 261.15V272.38M368.24 261.90V267.55M368.49 262.13V267.80M368.74 262.61V267.74M368.99 260.76V266.98M369.24 263.01V267.28M369.49 262.13V267.50M369.74 245.86V284.06M369.99 257.92V274.62M370.24 262.45V266.81M370.49 261.51V268.33M370.74 262.48V268.16M370.99 260.64V266.52M371.24 263.00V268.16M371.49 246.61V279.78M371.74 255.72V276.04M371.99 261.47V267.07M372.24 261.54V266.62M372.49 261.51V270.16M372.74 261.56V266.99M372.99 261.85V267.13M373.24 263.78V268.15M373.49 244.66V265.86M373.74 248.29V280.15M373.99 258.31V269.71M374.24 261.79V268.29M374.49 259.68V266.58M374.74 261.27V268.69M374.99 261.67V268.01M375.24 263.17V271.17M375.49 260.92V267.73M375.74 235.46V289.01M375.99 243.85V284.41M376.24 258.71V275.19M376.49 263.51V268.53M376.74 261.90V268.89M376.99 262.53V266.83M377.24 263.00V268.09M377.49 261.51V267.29M377.74 260.45V265.84M377.99 235.51V290.07M378.24 248.17V278.85M378.49 260.06V270.28M378.74 260.72V269.66M378.99 263.93V268.13M379.24 263.14V267.93M379.49 259.15V270.75M379.74 261.41V266.90M379.99 261.28V268.33M380.24 235.55V288.65M380.49 255.73V282.69M380.74 260.38V269.08M380.99 261.20V265.36M381.24 262.25V267.48M381.49 261.34V267.89M381.74 260.47V268.88M381.99 260.58V267.96M382.24 245.08V278.60M382.49 255.30V274.64M382.74 260.73V269.84M382.99 262.07V266.97M383.24 260.92V267.46M383.49 261.70V268.35M383.74 261.44V266.53M383.99 234.30V288.28M384.24 256.14V273.17M384.49 259.56V267.34M384.74 262.15V267.74M384.99 261.52V267.82M385.24 261.75V268.21M385.49 263.06V268.68M385.74 261.45V266.87M385.99 261.55V267.84M386.24 237.46V292.31M386.49 256.54V272.98M386.74 262.23V269.41M386.99 261.75V267.42M387.24 259.93V267.47M387.49 262.76V266.55M387.74 262.69V267.40M387.99 245.82V280.20M388.24 254.33V272.50M388.49 261.06V267.89M388.74 260.01V268.85M388.99 262.95V265.94M389.24 261.01V267.29M389.49 260.81V267.32M389.74 260.69V268.34M389.99 241.91V286.19M390.24 248.89V278.35M390.49 261.04V268.80M390.74 262.31V268.52M390.99 261.53V267.37M391.24 262.32V268.06M391.49 261.70V266.41M391.74 262.23V268.61M391.99 261.12V268.22M392.24 235.96V288.84M392.49 254.64V279.54M392.74 260.83V269.11M392.99 262.45V267.26M393.24 259.48V266.48M393.49 261.56V267.01M393.74 260.42V266.47M393.99 235.54V290.14M394.24 260.18V273.29M394.49 260.95V269.51M394.74 261.76V267.31M394.99 258.70V267.63M395.24 263.45V266.33M395.49 238.62V284.43M395.74 244.82V279.59M395.99 259.16V270.22M396.24 261.33V267.81M396.49 260.58V267.41M396.74 263.61V267.18M396.99 261.22V267.54M397.24 239.82V286.18M397.49 254.73V275.26M397.74 260.78V269.61M397.99 262.79V267.96M398.24 262.32V266.76M398.50 259.73V267.53M398.75 260.95V266.68M399.00 239.16V289.40M399.25 254.87V277.99M399.50 259.24V267.95M399.75 261.33V267.62M400.00 260.96V267.86M400.25 261.31V267.70M400.50 261.27V266.93M400.75 235.83V287.75M401.00 252.10V281.02M401.25 259.34V271.52M401.50 262.86V268.77M401.75 261.10V269.67M402.00 262.04V270.24M402.25 260.86V268.44M402.50 249.60V277.65M402.75 256.92V273.42M403.00 262.73V266.37M403.25 262.21V267.28M403.50 261.49V266.38M403.75 261.18V267.41M404.00 261.85V268.99M404.25 262.84V267.54M404.50 242.43V282.38M404.75 255.77V271.43M405.00 261.94V268.47M405.25 262.01V267.21M405.50 261.74V268.57M405.75 260.85V268.08M406.00 262.11V267.88M406.25 262.17V267.82M406.50 248.22V279.12M406.75 251.70V276.98M407.00 258.93V270.38M407.25 260.77V268.57M407.50 261.20V268.50M407.75 263.27V269.34M408.00 262.10V266.80M408.25 236.47V291.66M408.50 259.01V277.42M408.75 257.23V268.74M409.00 260.41V267.64M409.25 263.58V269.92M409.50 262.30V270.27M409.75 261.80V266.37M410.00 262.95V267.25M410.25 262.18V267.52M410.50 248.86V279.68M410.75 258.36V271.26M411.00 261.75V268.46M411.25 260.61V268.39M411.50 260.27V268.14M411.75 260.90V267.01M412.00 262.07V266.78M412.25 260.64V268.21M412.50 246.35V280.06M412.75 256.95V271.89M413.00 260.75V266.92M413.25 261.70V266.12M413.50 262.62V267.89M413.75 262.29V268.58M414.00 262.47V267.01M414.25 238.53V266.46M414.50 246.59V287.18M414.75 254.68V272.57M415.00 260.62V267.50M415.25 260.57V269.55M415.50 263.43V268.07M415.75 262.02V267.60M416.00 234.08V283.76M416.25 250.24V277.71M416.50 260.61V269.26M416.75 260.34V269.05M417.00 261.96V270.09M417.25 261.44V267.87M417.50 263.10V269.31M417.75 261.10V266.44M418.00 231.61V288.82M418.25 247.07V283.77M418.50 259.44V270.85M418.75 262.18V269.64M419.00 261.15V267.83M419.25 261.22V268.40M419.50 262.25V267.00M419.75 263.53V267.11M420.00 241.64V284.40M420.25 255.27V276.27M420.50 259.67V267.71M420.75 261.83V269.10M421.00 261.77V268.27M421.25 263.33V269.09M421.50 243.92V267.03M421.75 247.95V284.32M422.00 256.92V272.65M422.25 261.50V267.60M422.50 260.42V267.30M422.75 261.47V267.96M423.00 259.95V267.32M423.25 261.98V267.25M423.50 261.93V266.88M423.75 240.87V282.13M424.00 252.44V273.04M424.25 260.06V269.08M424.50 263.56V268.47M424.75 261.73V265.89M425.00 261.40V267.35M425.25 260.51V269.42M425.50 261.29V266.95M425.75 242.00V267.15M426.00 249.50V281.02M426.25 260.11V269.17M426.50 261.61V270.35M426.75 263.21V268.71M427.00 263.04V266.85M427.25 263.05V266.56M427.50 263.85V267.88M427.75 261.75V268.36M428.00 244.77V268.33M428.25 248.67V278.71M428.50 260.10V271.69M428.75 263.25V266.70M429.00 261.72V268.91M429.25 263.04V266.59M429.50 260.81V268.56M429.75 261.81V267.70M430.00 237.31V287.48M430.25 245.95V281.73M430.50 258.51V273.80M430.75 261.20V269.44M431.00 260.86V269.91M431.25 261.65V266.89M431.50 262.14V266.72M431.75 261.06V266.45M432.00 261.87V267.51M432.25 238.90V288.27M432.50 257.94V273.46M432.75 261.94V268.47M433.00 262.32V267.37M433.25 262.94V268.30M433.50 259.66V267.49M433.75 259.96V266.55M434.00 235.97V269.23M434.25 249.13V284.40M434.50 255.99V274.06M434.75 260.09V269.88M435.00 260.64V267.96M435.25 262.04V267.94M435.50 263.69V266.61M435.75 262.23V266.56M436.00 262.39V267.70M436.25 240.09V286.06M436.50 252.86V276.22M436.75 256.81V271.05M437.00 261.24V266.20M437.25 260.52V268.45M437.50 262.28V266.93M437.75 263.06V266.72M438.00 260.84V268.15M438.25 260.87V267.04M438.50 247.02V284.88M438.75 256.96V275.21M439.00 259.83V268.93M439.25 260.24V266.23M439.50 262.92V268.29M439.75 262.93V266.30M440.00 260.53V267.09M440.25 232.98V288.49M440.50 248.59V275.09M440.75 261.87V271.66M441.00 261.02V267.35M441.25 262.52V268.68M441.50 263.15V267.49M441.75 260.00V267.39M442.00 260.99V267.70M442.25 261.08V268.48M442.50 246.18V280.74M442.75 258.26V273.56M443.00 262.00V267.36M443.25 262.94V267.68M443.50 262.29V268.18M443.75 260.09V267.74M444.00 244.09V267.29M444.25 248.82V281.35M444.50 257.04V271.56M444.76 260.41V266.46M445.01 261.90V266.32M445.26 261.66V266.12M445.51 261.70V267.58M445.76 261.46V267.37M446.01 262.33V268.79M446.26 247.14V276.85M446.51 257.96V273.45M446.76 262.26V269.08M447.01 262.67V266.94M447.26 261.68V266.62M447.51 261.96V267.49M447.76 261.90V267.49M448.01 261.10V267.66M448.26 238.25V286.01M448.51 253.44V274.87M448.76 259.91V269.25M449.01 261.40V267.31M449.26 260.78V267.34M449.51 263.20V266.77M449.76 262.07V268.06M450.01 263.42V267.08M450.26 237.53V290.89M450.51 253.68V279.52M450.76 255.56V270.95M451.01 261.96V266.47M451.26 260.34V269.16M451.51 262.06V268.00M451.76 262.44V266.05M452.01 262.03V268.00M452.26 243.22V282.91M452.51 253.13V273.09M452.76 260.96V269.18M453.01 261.77V269.39M453.26 263.33V268.32M453.51 261.87V266.80M453.76 260.14V267.19M454.01 231.66V287.79M454.26 251.09V281.89M454.51 255.07V267.18M454.76 262.84V266.74M455.01 262.70V267.77M455.26 261.64V267.71M455.51 262.16V269.13M455.76 262.48V266.41M456.01 234.38V289.17M456.26 251.78V276.52M456.51 259.82V270.47M456.76 262.51V267.37M457.01 259.97V266.93M457.26 262.00V267.41M457.51 258.66V268.19M457.76 261.15V268.39M458.01 239.53V281.34M458.26 253.90V275.20M458.51 261.39V268.18M458.76 257.28V266.04M459.01 260.74V267.85M459.26 261.07V266.27M459.51 260.46V268.28M459.76 260.96V268.59M460.01 243.04V284.94M460.26 250.21V278.04M460.51 257.79V269.32M460.76 262.76V267.94M461.01 261.79V267.34M461.26 262.86V268.92M461.51 260.66V266.47M461.76 261.74V266.68M462.01 236.70V291.22M462.26 256.05V274.91M462.51 259.48V270.19M462.76 262.45V268.28M463.01 261.49V267.53M463.26 262.41V266.99M463.51 260.18V266.69M463.76 261.99V267.32M464.01 248.00V278.89M464.26 252.55V276.88M464.51 257.90V271.94M464.76 261.04V268.22M465.01 262.42V268.09M465.26 261.63V268.27M465.51 261.94V268.66M465.76 260.10V267.02M466.01 236.93V286.33M466.26 250.51V275.85M466.51 257.79V273.26M466.76 259.47V268.98M467.01 262.00V268.13M467.26 262.09V267.45M467.51 261.84V269.12M467.76 262.00V269.19M468.01 240.29V287.76M468.26 246.50V281.52M468.51 255.66V273.74M468.76 261.42V268.85M469.01 261.10V266.57M469.26 262.31V267.04M469.51 261.88V267.64M469.76 234.48V266.86M470.01 243.20V288.30M470.26 255.55V270.32M470.51 261.25V268.87M470.76 261.92V267.38M471.01 261.80V269.51M471.26 261.93V269.01M471.51 249.96V276.95M471.76 258.28V272.19M472.01 258.15V269.00M472.26 261.19V267.53M472.51 261.42V268.16M472.76 260.68V268.28M473.01 260.92V267.94M473.26 237.33V285.71M473.51 256.48V278.83M473.76 259.67V269.02M474.01 259.71V267.62M474.26 263.25V266.86M474.51 262.24V267.79M474.76 261.68V267.35M475.01 240.44V266.57M475.26 251.02V283.20M475.51 258.65V268.20M475.76 261.47V268.42M476.01 261.32V267.21M476.26 263.12V270.24M476.51 261.94V271.79M476.76 262.05V267.57M477.01 237.48V291.09M477.26 256.58V275.98M477.51 260.09V268.03M477.76 261.73V267.07M478.01 260.62V269.07M478.26 260.31V267.94M478.51 260.68V267.76M478.76 236.41V289.15M479.01 250.14V277.13M479.26 261.40V268.73M479.51 261.68V267.49M479.76 262.52V270.12M480.01 262.62V268.49M480.26 261.05V268.91M480.51 237.11V286.58M480.76 254.71V273.66M481.01 258.92V271.89M481.26 261.97V268.57M481.51 263.46V268.93M481.76 263.27V268.95M482.01 262.59V267.16M482.26 262.52V266.06M482.51 259.00V267.45M482.76 246.56V281.28M483.01 260.12V269.75M483.26 261.18V267.64M483.51 261.59V267.16M483.76 262.22V267.15M484.01 261.62V268.26M484.26 259.90V266.47M484.51 245.98V279.90M484.76 254.77V273.19M485.01 262.34V269.85M485.26 262.11V267.56M485.51 260.08V270.80M485.76 262.23V267.18M486.01 262.15V267.97M486.26 261.37V267.06M486.51 239.68V289.14M486.76 247.88V281.53M487.01 261.29V271.62M487.26 262.87V270.71M487.51 261.05V266.68M487.76 261.84V268.39M488.01 261.97V267.82M488.26 244.44V281.04M488.51 251.80V277.49M488.76 258.76V269.43M489.01 262.56V268.66M489.26 261.91V267.71M489.51 260.59V268.20M489.76 262.03V266.17M490.01 263.17V267.31M490.26 235.30V290.40M490.51 257.88V276.15M490.76 258.75V272.36M491.01 262.50V267.89M491.27 261.34V266.96M491.52 261.04V267.13M491.77 262.83V266.77M492.02 241.29V286.02M492.27 250.40V279.98M492.52 259.34V268.98M492.77 261.29V270.06M493.02 261.77V268.63M493.27 263.45V266.39M493.52 261.59V269.02M493.77 261.24V266.79M494.02 261.43V267.95M494.27 239.53V290.10M494.52 252.26V275.08M494.77 258.43V269.48M495.02 262.06V267.80M495.27 261.01V269.80M495.52 262.80V268.55M495.77 263.34V268.14M496.02 244.84V283.52M496.27 254.91V273.61M496.52 262.74V269.10M496.77 259.96V269.96M497.02 262.09V267.49M497.27 262.35V267.78M497.52 260.99V268.33M497.77 235.38V285.36M498.02 253.00V276.42M498.27 256.25V269.20M498.52 262.52V268.31M498.77 261.68V268.56M499.02 261.87V268.17M499.27 261.92V267.81M499.52 236.02V290.81M499.77 251.72V279.34M500.02 259.79V269.96M500.27 260.91V267.63M500.52 262.86V266.65M500.77 260.72V265.29M501.02 262.38V267.60M501.27 237.63V290.18M501.52 251.18V277.22M501.77 260.93V268.49M502.02 261.83V267.51M502.27 259.43V267.37M502.52 261.56V266.46M502.77 262.52V266.75M503.02 235.26V268.86M503.27 238.44V291.63M503.52 257.01V275.67M503.77 259.86V268.70M504.02 262.53V268.32M504.27 261.99V266.39M504.52 261.93V266.04M504.77 262.16V267.75M505.02 259.94V266.49M505.27 248.00V278.39M505.52 250.53V275.11M505.77 259.68V270.54M506.02 261.88V269.32M506.27 260.45V267.52M506.52 261.35V268.18M506.77 263.05V266.38M507.02 262.02V266.68M507.27 262.47V267.02M507.52 244.96V278.68M507.77 256.89V277.56M508.02 259.98V272.09M508.27 261.67V268.03M508.52 261.20V267.39M508.77 260.74V267.46M509.02 259.72V269.32M509.27 259.50V267.32M509.52 241.30V284.69M509.77 256.06V273.99M510.02 261.34V269.82M510.27 260.36V270.54M510.52 261.75V267.52M510.77 259.76V266.82M511.02 260.77V268.12M511.27 263.21V267.83M511.52 240.91V283.86M511.77 256.03V273.81M512.02 260.49V270.05M512.27 262.47V267.49M512.52 261.52V267.09M512.77 262.70V268.15M513.02 260.81V267.38M513.27 234.94V290.93M513.52 255.65V277.28M513.77 261.96V268.13M514.02 261.22V268.46M514.27 262.77V267.56M514.52 261.12V268.73M514.77 263.78V269.92M515.02 262.14V267.27M515.27 260.61V267.38M515.52 235.24V285.56M515.77 256.02V274.45M516.02 259.78V270.22M516.27 261.98V269.07M516.52 263.13V268.93M516.77 260.72V267.66M517.02 262.08V267.43M517.27 263.89V267.90M517.52 261.08V267.99M517.77 247.89V278.40M518.02 259.14V273.31M518.27 263.03V267.76M518.52 261.95V268.57M518.77 262.77V268.29M519.02 260.08V267.24M519.27 263.63V270.25M519.52 230.72V292.03M519.77 256.60V274.55M520.02 261.62V269.07M520.27 262.44V269.55M520.52 262.96V267.72M520.77 262.95V267.72M521.02 244.40V268.62M521.27 250.35V282.19M521.52 259.66V271.63M521.77 261.74V266.90M522.02 262.36V267.92M522.27 261.72V266.94M522.52 259.32V268.37M522.77 261.94V266.44M523.02 239.01V288.09M523.27 260.03V274.91M523.52 260.81V269.55M523.77 262.40V267.99M524.02 261.77V269.21M524.27 261.78V267.14M524.52 260.55V268.26M524.77 246.25V276.99M525.02 257.68V272.00M525.27 261.29V267.88M525.52 260.93V266.99M525.77 261.73V269.51M526.02 259.39V266.80M526.27 261.38V268.40M526.52 264.54V266.35M526.77 245.05V277.79M527.02 256.46V272.80M527.27 259.02V269.71M527.52 262.10V266.52M527.77 263.19V269.20M528.02 261.27V267.23M528.27 261.22V268.02M528.52 238.71V286.38M528.77 251.18V280.47M529.02 260.13V270.61M529.27 262.23V270.05M529.52 263.19V267.44M529.77 261.94V267.02M530.02 260.73V269.05M530.27 261.80V266.90M530.52 261.45V267.94M530.77 243.31V283.19M531.02 250.23V282.17M531.27 258.11V270.85M531.52 262.22V271.13M531.77 261.42V266.54M532.02 260.82V267.36M532.27 262.49V268.46M532.52 260.27V268.37M532.77 242.84V285.78M533.02 253.99V274.99M533.27 260.22V266.95M533.52 261.44V266.82M533.77 262.12V267.07M534.02 261.91V268.62M534.27 261.53V269.40M534.52 240.60V285.22M534.77 252.37V276.84M535.02 261.00V269.17M535.27 261.89V268.26M535.52 261.49V267.49M535.77 262.56V267.83M536.02 261.61V267.53M536.27 261.55V268.28M536.52 247.65V281.87M536.77 256.16V270.48M537.02 261.42V267.79M537.27 262.76V267.23" stroke="#0000ff" stroke-width="1.100" fill="none"/>
<rect x="305.60" y="227.40" width="231.80" height="74.80" fill="none" stroke="#505050" stroke-width="1.05"/>
<path d="M305.60 302.20V300.00M305.60 227.40V229.60M328.78 302.20V300.00M328.78 227.40V229.60M351.96 302.20V300.00M351.96 227.40V229.60M375.14 302.20V300.00M375.14 227.40V229.60M398.32 302.20V300.00M398.32 227.40V229.60M421.50 302.20V300.00M421.50 227.40V229.60M444.68 302.20V300.00M444.68 227.40V229.60M467.86 302.20V300.00M467.86 227.40V229.60M491.04 302.20V300.00M491.04 227.40V229.60M514.22 302.20V300.00M514.22 227.40V229.60M537.40 302.20V300.00M537.40 227.40V229.60M305.60 302.20H307.80M537.40 302.20H535.20M305.60 283.50H307.80M537.40 283.50H535.20M305.60 264.80H307.80M537.40 264.80H535.20M305.60 246.10H307.80M537.40 246.10H535.20M305.60 227.40H307.80M537.40 227.40H535.20" stroke="#333" stroke-width="0.8" fill="none"/>
<text x="305.60" y="311.30" text-anchor="middle" font-size="6.70">0</text>
<text x="328.78" y="311.30" text-anchor="middle" font-size="6.70">0.1</text>
<text x="351.96" y="311.30" text-anchor="middle" font-size="6.70">0.2</text>
<text x="375.14" y="311.30" text-anchor="middle" font-size="6.70">0.3</text>
<text x="398.32" y="311.30" text-anchor="middle" font-size="6.70">0.4</text>
<text x="421.50" y="311.30" text-anchor="middle" font-size="6.70">0.5</text>
<text x="444.68" y="311.30" text-anchor="middle" font-size="6.70">0.6</text>
<text x="467.86" y="311.30" text-anchor="middle" font-size="6.70">0.7</text>
<text x="491.04" y="311.30" text-anchor="middle" font-size="6.70">0.8</text>
<text x="514.22" y="311.30" text-anchor="middle" font-size="6.70">0.9</text>
<text x="537.40" y="311.30" text-anchor="middle" font-size="6.70">1</text>
<text x="303.20" y="304.60" text-anchor="end" font-size="6.70">-4</text>
<text x="303.20" y="285.90" text-anchor="end" font-size="6.70">-2</text>
<text x="303.20" y="267.20" text-anchor="end" font-size="6.70">0</text>
<text x="303.20" y="248.50" text-anchor="end" font-size="6.70">2</text>
<text x="303.20" y="229.80" text-anchor="end" font-size="6.70">4</text>
<text x="420.70" y="320.00" text-anchor="middle" font-size="6.70">Time(t/s)</text>
<text transform="translate(290.60 264.80) rotate(-90)" text-anchor="middle" font-size="7.10">Acceleration(a/ms<tspan dy="-2.2" font-size="4.6">-2</tspan><tspan dy="2.2">)</tspan></text>
<path d="M305.67 406.97V408.80M306.00 407.10V408.80M306.33 407.12V408.80M306.67 407.13V408.80M307.00 406.93V408.80M307.33 407.01V408.80M307.67 406.94V408.80M308.00 407.12V408.80M308.33 406.96V408.80M308.67 407.16V408.80M309.00 407.00V408.80M309.33 407.00V408.80M309.66 407.17V408.80M310.00 407.26V408.80M310.33 406.97V408.80M310.66 407.14V408.80M311.00 407.26V408.80M311.33 407.14V408.80M311.66 407.23V408.80M312.00 407.26V408.80M312.33 407.03V408.80M312.66 406.95V408.80M313.00 407.01V408.80M313.33 407.17V408.80M313.66 406.96V408.80M314.00 407.05V408.80M314.33 407.16V408.80M314.66 407.22V408.80M315.00 406.95V408.80M315.33 406.96V408.80M315.66 407.19V408.80M316.00 407.16V408.80M316.33 406.98V408.80M316.66 407.28V408.80M317.00 407.03V408.80M317.33 407.04V408.80M317.66 407.12V408.80M317.99 407.04V408.80M318.33 407.14V408.80M318.66 406.97V408.80M318.99 407.24V408.80M319.33 406.94V408.80M319.66 407.03V408.80M319.99 407.18V408.80M320.33 407.05V408.80M320.66 406.75V408.80M320.99 406.23V408.80M321.33 406.46V408.80M321.66 405.96V408.80M321.99 405.58V408.80M322.33 405.44V408.80M322.66 405.67V408.80M322.99 405.98V408.80M323.33 406.08V408.80M323.66 406.22V408.80M323.99 405.75V408.80M324.33 405.44V408.80M324.66 405.78V408.80M324.99 405.68V408.80M325.32 405.67V408.80M325.66 405.97V408.80M325.99 405.88V408.80M326.32 405.82V408.80M326.66 405.58V408.80M326.99 405.99V408.80M327.32 405.81V408.80M327.66 406.17V408.80M327.99 405.91V408.80M328.32 405.97V408.80M328.66 405.96V408.80M328.99 406.07V408.80M329.32 405.43V408.80M329.66 406.43V408.80M329.99 406.28V408.80M330.32 405.39V408.80M330.66 405.85V408.80M330.99 405.73V408.80M331.32 405.91V408.80M331.66 405.60V408.80M331.99 405.60V408.80M332.32 406.32V408.80M332.65 406.18V408.80M332.99 405.85V408.80M333.32 405.92V408.80M333.65 405.99V408.80M333.99 405.83V408.80M334.32 405.99V408.80M334.65 406.35V408.80M334.99 406.63V408.80M335.32 406.69V408.80M335.65 406.70V408.80M335.99 407.23V408.80M336.32 407.06V408.80M336.65 407.02V408.80M336.99 407.00V408.80M337.32 407.18V408.80M337.65 407.22V408.80M337.99 407.00V408.80M338.32 407.18V408.80M338.65 407.27V408.80M338.99 406.99V408.80M339.32 407.12V408.80M339.65 406.96V408.80M339.99 407.23V408.80M340.32 407.17V408.80M340.65 406.94V408.80M340.98 407.04V408.80M341.32 407.18V408.80M341.65 406.97V408.80M341.98 407.25V408.80M342.32 407.15V408.80M342.65 407.03V408.80M342.98 407.16V408.80M343.32 407.16V408.80M343.65 407.01V408.80M343.98 406.93V408.80M344.32 407.03V408.80M344.65 407.09V408.80M344.98 407.18V408.80M345.32 407.24V408.80M345.65 407.09V408.80M345.98 407.18V408.80M346.32 407.20V408.80M346.65 407.04V408.80M346.98 407.24V408.80M347.32 407.24V408.80M347.65 407.04V408.80M347.98 407.26V408.80M348.31 406.92V408.80M348.65 407.16V408.80M348.98 407.13V408.80M349.31 407.24V408.80M349.65 407.01V408.80M349.98 407.00V408.80M350.31 407.12V408.80M350.65 406.98V408.80M350.98 406.93V408.80M351.31 407.14V408.80M351.65 407.05V408.80M351.98 407.28V408.80M352.31 406.94V408.80M352.65 406.97V408.80M352.98 407.18V408.80M353.31 407.13V408.80M353.65 407.22V408.80M353.98 407.01V408.80M354.31 407.12V408.80M354.65 407.17V408.80M354.98 406.99V408.80M355.31 407.18V408.80M355.65 407.15V408.80M355.98 407.08V408.80M356.31 406.93V408.80M356.64 407.24V408.80M356.98 407.15V408.80M357.31 406.99V408.80M357.64 407.25V408.80M357.98 407.22V408.80M358.31 406.94V408.80M358.64 407.27V408.80M358.98 407.22V408.80M359.31 407.02V408.80M359.64 407.07V408.80M359.98 406.96V408.80M360.31 407.10V408.80M360.64 406.99V408.80M360.98 407.12V408.80M361.31 407.13V408.80M361.64 407.18V408.80M361.98 407.10V408.80M362.31 407.19V408.80M362.64 406.97V408.80M362.98 406.98V408.80M363.31 407.19V408.80M363.64 407.28V408.80M363.97 407.06V408.80M364.31 407.02V408.80M364.64 407.21V408.80M364.97 407.01V408.80M365.31 407.16V408.80M365.64 406.97V408.80M365.97 406.97V408.80M366.31 407.26V408.80M366.64 407.28V408.80M366.97 407.06V408.80M367.31 406.95V408.80M367.64 407.24V408.80M367.97 407.21V408.80M368.31 407.00V408.80M368.64 407.16V408.80M368.97 407.23V408.80M369.31 407.08V408.80M369.64 407.22V408.80M369.97 407.13V408.80M370.31 407.02V408.80M370.64 407.10V408.80M370.97 407.01V408.80M371.30 406.96V408.80M371.64 407.07V408.80M371.97 406.94V408.80M372.30 407.26V408.80M372.64 407.26V408.80M372.97 407.04V408.80M373.30 407.00V408.80M373.64 407.22V408.80M373.97 407.16V408.80M374.30 407.04V408.80M374.64 407.14V408.80M374.97 406.95V408.80M375.30 407.02V408.80M375.64 407.04V408.80M375.97 407.16V408.80M376.30 407.08V408.80M376.64 407.07V408.80M376.97 407.21V408.80M377.30 407.05V408.80M377.64 407.22V408.80M377.97 406.98V408.80M378.30 407.06V408.80M378.64 407.19V408.80M378.97 407.27V408.80M379.30 407.03V408.80M379.63 407.02V408.80M379.97 407.01V408.80M380.30 407.25V408.80M380.63 407.23V408.80M380.97 406.99V408.80M381.30 407.14V408.80M381.63 407.04V408.80M381.97 407.22V408.80M382.30 406.98V408.80M382.63 406.98V408.80M382.97 407.26V408.80M383.30 407.00V408.80M383.63 407.10V408.80M383.97 407.05V408.80M384.30 407.24V408.80M384.63 407.18V408.80M384.97 407.08V408.80M385.30 407.08V408.80M385.63 407.12V408.80M385.97 407.18V408.80M386.30 407.02V408.80M386.63 407.22V408.80M386.96 406.96V408.80M387.30 407.17V408.80M387.63 407.10V408.80M387.96 407.10V408.80M388.30 407.12V408.80M388.63 407.02V408.80M388.96 407.02V408.80M389.30 407.19V408.80M389.63 407.06V408.80M389.96 407.19V408.80M390.30 407.22V408.80M390.63 406.93V408.80M390.96 406.98V408.80M391.30 407.06V408.80M391.63 407.19V408.80M391.96 406.97V408.80M392.30 407.10V408.80M392.63 407.14V408.80M392.96 406.98V408.80M393.30 406.99V408.80M393.63 406.99V408.80M393.96 407.01V408.80M394.30 406.99V408.80M394.63 407.23V408.80M394.96 407.17V408.80M395.29 407.21V408.80M395.63 407.00V408.80M395.96 406.93V408.80M396.29 407.23V408.80M396.63 407.13V408.80M396.96 407.20V408.80M397.29 407.03V408.80M397.63 407.23V408.80M397.96 406.93V408.80M398.29 407.08V408.80M398.63 407.22V408.80M398.96 407.27V408.80M399.29 407.23V408.80M399.63 407.22V408.80M399.96 407.04V408.80M400.29 406.94V408.80M400.63 406.69V408.80M400.96 406.76V408.80M401.29 406.07V408.80M401.63 406.18V408.80M401.96 405.85V408.80M402.29 406.06V408.80M402.62 405.55V408.80M402.96 405.52V408.80M403.29 405.26V408.80M403.62 404.93V408.80M403.96 405.03V408.80M404.29 404.75V408.80M404.62 404.25V408.80M404.96 404.36V408.80M405.29 404.75V408.80M405.62 403.91V408.80M405.96 403.99V408.80M406.29 404.06V408.80M406.62 404.59V408.80M406.96 404.52V408.80M407.29 402.71V408.80M407.62 403.34V408.80M407.96 403.27V408.80M408.29 403.70V408.80M408.62 402.71V408.80M408.96 401.75V408.80M409.29 404.63V408.80M409.62 403.06V408.80M409.95 402.43V408.80M410.29 403.91V408.80M410.62 402.99V408.80M410.95 403.67V408.80M411.29 403.75V408.80M411.62 400.94V408.80M411.95 401.29V408.80M412.29 399.02V408.80M412.62 399.62V408.80M412.95 398.98V408.80M413.29 401.24V408.80M413.62 397.91V408.80M413.95 399.90V408.80M414.29 401.68V408.80M414.62 398.52V408.80M414.95 399.56V408.80M415.29 398.23V408.80M415.62 401.84V408.80M415.95 398.32V408.80M416.29 401.27V408.80M416.62 403.39V408.80M416.95 403.97V408.80M417.29 400.82V408.80M417.62 399.99V408.80M417.95 402.14V408.80M418.28 403.30V408.80M418.62 403.25V408.80M418.95 403.65V408.80M419.28 404.82V408.80M419.62 404.55V408.80M419.95 404.96V408.80M420.28 403.90V408.80M420.62 403.32V408.80M420.95 403.26V408.80M421.28 404.24V408.80M421.62 404.36V408.80M421.95 404.68V408.80M422.28 402.79V408.80M422.62 402.89V408.80M422.95 404.10V408.80M423.28 403.78V408.80M423.62 404.65V408.80M423.95 403.86V408.80M424.28 403.14V408.80M424.62 403.08V408.80M424.95 404.01V408.80M425.28 404.88V408.80M425.61 403.73V408.80M425.95 405.08V408.80M426.28 404.85V408.80M426.61 404.07V408.80M426.95 402.91V408.80M427.28 402.51V408.80M427.61 402.07V408.80M427.95 401.31V408.80M428.28 404.56V408.80M428.61 399.48V408.80M428.95 398.94V408.80M429.28 404.52V408.80M429.61 402.79V408.80M429.95 401.19V408.80M430.28 399.09V408.80M430.61 402.97V408.80M430.95 400.45V408.80M431.28 399.93V408.80M431.61 397.06V408.80M431.95 397.80V408.80M432.28 398.28V408.80M432.61 397.12V408.80M432.95 392.69V408.80M433.28 395.73V408.80M433.61 390.77V408.80M433.94 393.31V408.80M434.28 396.75V408.80M434.61 394.64V408.80M434.94 399.55V408.80M435.28 391.15V408.80M435.61 391.02V408.80M435.94 396.30V408.80M436.28 396.27V408.80M436.61 395.79V408.80M436.94 394.89V408.80M437.28 391.30V408.80M437.61 392.76V408.80M437.94 390.06V408.80M438.28 393.78V408.80M438.61 391.55V408.80M438.94 391.99V408.80M439.28 398.08V408.80M439.61 399.19V408.80M439.94 398.01V408.80M440.28 396.23V408.80M440.61 401.21V408.80M440.94 399.79V408.80M441.27 395.11V408.80M441.61 397.50V408.80M441.94 396.64V408.80M442.27 396.74V408.80M442.61 397.79V408.80M442.94 401.37V408.80M443.27 395.63V408.80M443.61 396.28V408.80M443.94 401.48V408.80M444.27 400.25V408.80M444.61 399.69V408.80M444.94 399.02V408.80M445.27 400.01V408.80M445.61 399.10V408.80M445.94 399.79V408.80M446.27 403.01V408.80M446.61 402.58V408.80M446.94 401.57V408.80M447.27 402.57V408.80M447.61 402.36V408.80M447.94 402.79V408.80M448.27 400.11V408.80M448.60 403.30V408.80M448.94 402.01V408.80M449.27 402.95V408.80M449.60 404.04V408.80M449.94 402.23V408.80M450.27 404.89V408.80M450.60 401.95V408.80M450.94 403.76V408.80M451.27 402.52V408.80M451.60 405.13V408.80M451.94 404.20V408.80M452.27 402.50V408.80M452.60 405.01V408.80M452.94 403.17V408.80M453.27 404.36V408.80M453.60 403.64V408.80M453.94 405.19V408.80M454.27 403.83V408.80M454.60 404.91V408.80M454.94 405.60V408.80M455.27 404.36V408.80M455.60 404.87V408.80M455.94 405.36V408.80M456.27 405.35V408.80M456.60 405.92V408.80M456.93 405.71V408.80M457.27 405.97V408.80M457.60 406.24V408.80M457.93 406.11V408.80M458.27 406.58V408.80M458.60 406.38V408.80M458.93 406.68V408.80M459.27 406.70V408.80M459.60 407.01V408.80M459.93 406.79V408.80M460.27 406.73V408.80M460.60 406.72V408.80M460.93 406.81V408.80M461.27 407.00V408.80M461.60 406.86V408.80M461.93 407.01V408.80M462.27 406.66V408.80M462.60 406.89V408.80M462.93 407.03V408.80M463.27 406.79V408.80M463.60 407.03V408.80M463.93 406.70V408.80M464.26 406.84V408.80M464.60 406.94V408.80M464.93 407.06V408.80M465.26 407.03V408.80M465.60 406.69V408.80M465.93 406.90V408.80M466.26 406.94V408.80M466.60 407.00V408.80M466.93 406.86V408.80M467.26 407.07V408.80M467.60 406.71V408.80M467.93 406.75V408.80M468.26 406.99V408.80M468.60 406.80V408.80M468.93 406.89V408.80M469.26 406.74V408.80M469.60 406.70V408.80M469.93 406.73V408.80M470.26 406.76V408.80M470.60 406.69V408.80M470.93 407.00V408.80M471.26 406.84V408.80M471.60 407.00V408.80M471.93 406.78V408.80M472.26 407.02V408.80M472.59 406.70V408.80M472.93 407.05V408.80M473.26 407.02V408.80M473.59 406.92V408.80M473.93 407.10V408.80M474.26 407.02V408.80M474.59 406.88V408.80M474.93 407.03V408.80M475.26 406.80V408.80M475.59 407.10V408.80M475.93 407.10V408.80M476.26 406.85V408.80M476.59 406.96V408.80M476.93 407.14V408.80M477.26 406.87V408.80M477.59 406.79V408.80M477.93 407.14V408.80M478.26 406.76V408.80M478.59 406.79V408.80M478.93 406.85V408.80M479.26 406.86V408.80M479.59 406.93V408.80M479.92 406.88V408.80M480.26 406.90V408.80M480.59 407.14V408.80M480.92 407.13V408.80M481.26 407.14V408.80M481.59 407.10V408.80M481.92 406.83V408.80M482.26 407.04V408.80M482.59 407.10V408.80M482.92 407.11V408.80M483.26 406.90V408.80M483.59 407.02V408.80M483.92 406.90V408.80M484.26 407.09V408.80M484.59 407.05V408.80M484.92 407.03V408.80M485.26 407.03V408.80M485.59 407.15V408.80M485.92 406.96V408.80M486.26 407.05V408.80M486.59 406.85V408.80M486.92 406.86V408.80M487.25 407.00V408.80M487.59 406.97V408.80M487.92 406.93V408.80M488.25 406.86V408.80M488.59 407.21V408.80M488.92 407.11V408.80M489.25 406.91V408.80M489.59 406.87V408.80M489.92 407.05V408.80M490.25 406.99V408.80M490.59 406.96V408.80M490.92 407.01V408.80M491.25 407.18V408.80M491.59 406.96V408.80M491.92 407.09V408.80M492.25 406.96V408.80M492.59 407.25V408.80M492.92 407.02V408.80M493.25 406.91V408.80M493.59 407.04V408.80M493.92 406.95V408.80M494.25 407.10V408.80M494.59 407.08V408.80M494.92 407.21V408.80M495.25 407.08V408.80M495.58 407.17V408.80M495.92 407.07V408.80M496.25 407.04V408.80M496.58 407.17V408.80M496.92 407.12V408.80M497.25 406.99V408.80M497.58 406.76V408.80M497.92 406.30V408.80M498.25 406.17V408.80M498.58 406.00V408.80M498.92 406.16V408.80M499.25 406.23V408.80M499.58 406.39V408.80M499.92 405.97V408.80M500.25 406.30V408.80M500.58 405.86V408.80M500.92 406.22V408.80M501.25 406.29V408.80M501.58 406.37V408.80M501.92 406.01V408.80M502.25 406.46V408.80M502.58 406.10V408.80M502.91 406.17V408.80M503.25 405.98V408.80M503.58 406.20V408.80M503.91 406.34V408.80M504.25 406.15V408.80M504.58 406.03V408.80M504.91 406.30V408.80M505.25 406.55V408.80M505.58 406.36V408.80M505.91 406.30V408.80M506.25 406.17V408.80M506.58 405.76V408.80M506.91 405.97V408.80M507.25 406.17V408.80M507.58 405.81V408.80M507.91 406.22V408.80M508.25 406.25V408.80M508.58 406.26V408.80M508.91 406.33V408.80M509.25 405.95V408.80M509.58 406.28V408.80M509.91 406.25V408.80M510.25 406.30V408.80M510.58 406.27V408.80M510.91 406.32V408.80M511.24 406.23V408.80M511.58 405.84V408.80M511.91 405.85V408.80M512.24 406.36V408.80M512.58 406.71V408.80M512.91 407.19V408.80M513.24 407.21V408.80M513.58 407.29V408.80M513.91 407.32V408.80M514.24 407.24V408.80M514.58 407.32V408.80M514.91 407.39V408.80M515.24 407.16V408.80M515.58 407.17V408.80M515.91 407.30V408.80M516.24 407.24V408.80M516.58 407.37V408.80M516.91 407.16V408.80M517.24 407.27V408.80M517.58 407.42V408.80M517.91 407.33V408.80M518.24 407.26V408.80M518.57 407.32V408.80M518.91 407.40V408.80M519.24 407.20V408.80M519.57 407.36V408.80M519.91 407.20V408.80M520.24 407.44V408.80M520.57 407.27V408.80M520.91 407.43V408.80M521.24 407.40V408.80M521.57 407.18V408.80M521.91 407.24V408.80M522.24 407.24V408.80M522.57 407.31V408.80M522.91 407.23V408.80M523.24 407.24V408.80M523.57 407.43V408.80M523.91 407.32V408.80M524.24 407.30V408.80M524.57 407.18V408.80M524.91 407.37V408.80M525.24 407.36V408.80M525.57 407.43V408.80M525.90 407.17V408.80M526.24 407.24V408.80M526.57 407.43V408.80M526.90 407.23V408.80M527.24 407.37V408.80M527.57 407.25V408.80M527.90 407.22V408.80M528.24 407.42V408.80M528.57 407.44V408.80M528.90 407.42V408.80M529.24 407.19V408.80M529.57 407.33V408.80M529.90 407.30V408.80M530.24 407.30V408.80M530.57 407.28V408.80M530.90 407.38V408.80M531.24 407.19V408.80M531.57 407.43V408.80M531.90 407.31V408.80M532.24 407.32V408.80M532.57 407.38V408.80M532.90 407.20V408.80M533.24 407.30V408.80M533.57 407.20V408.80M533.90 407.42V408.80M534.23 407.43V408.80M534.57 407.44V408.80M534.90 407.22V408.80M535.23 407.32V408.80M535.57 407.21V408.80M535.90 407.20V408.80M536.23 407.27V408.80M536.57 407.42V408.80M536.90 407.40V408.80M537.23 407.25V408.80" stroke="#0000ff" stroke-width="0.700" fill="none"/><path d="M305.70 400.50V408.30M310.30 406.80V408.30M331.20 403.20V408.30M344.00 406.50V408.30M358.50 406.50V408.30M392.00 406.50V408.30M400.80 403.40V408.30M404.80 392.90V408.30M408.80 389.40V408.30M413.30 380.80V408.30M417.30 380.80V408.30M421.50 391.90V408.30M425.40 396.40V408.30M429.80 386.80V408.30M434.00 370.90V408.30M438.50 364.50V408.30M442.30 374.10V408.30M446.40 390.60V408.30M450.60 397.00V408.30M455.00 400.80V408.30" stroke="#0000ff" stroke-width="0.900" fill="none"/>
<rect x="305.50" y="333.50" width="231.90" height="74.80" fill="none" stroke="#505050" stroke-width="1.05"/>
<path d="M305.50 408.30V406.10M305.50 333.50V335.70M344.15 408.30V406.10M344.15 333.50V335.70M382.80 408.30V406.10M382.80 333.50V335.70M421.45 408.30V406.10M421.45 333.50V335.70M460.10 408.30V406.10M460.10 333.50V335.70M498.75 408.30V406.10M498.75 333.50V335.70M537.40 408.30V406.10M537.40 333.50V335.70M305.50 408.30H307.70M537.40 408.30H535.20M305.50 389.60H307.70M537.40 389.60H535.20M305.50 370.90H307.70M537.40 370.90H535.20M305.50 352.20H307.70M537.40 352.20H535.20M305.50 333.50H307.70M537.40 333.50H535.20" stroke="#333" stroke-width="0.8" fill="none"/>
<text x="305.50" y="417.40" text-anchor="middle" font-size="6.70">0</text>
<text x="344.15" y="417.40" text-anchor="middle" font-size="6.70">1000</text>
<text x="382.80" y="417.40" text-anchor="middle" font-size="6.70">2000</text>
<text x="421.45" y="417.40" text-anchor="middle" font-size="6.70">3000</text>
<text x="460.10" y="417.40" text-anchor="middle" font-size="6.70">4000</text>
<text x="498.75" y="417.40" text-anchor="middle" font-size="6.70">5000</text>
<text x="537.40" y="417.40" text-anchor="middle" font-size="6.70">6000</text>
<text x="303.10" y="410.70" text-anchor="end" font-size="6.70">0</text>
<text x="303.10" y="392.00" text-anchor="end" font-size="6.70">0.1</text>
<text x="303.10" y="373.30" text-anchor="end" font-size="6.70">0.2</text>
<text x="303.10" y="354.60" text-anchor="end" font-size="6.70">0.3</text>
<text x="303.10" y="335.90" text-anchor="end" font-size="6.70">0.4</text>
<text x="421.45" y="426.80" text-anchor="middle" font-size="6.70">Frequency(f/Hz)</text>
<text transform="translate(287.90 371.70) rotate(-90)" text-anchor="middle" font-size="7.10">Spectrum magnitude(a/ms<tspan dy="-2.2" font-size="4.6">-2</tspan><tspan dy="2.2">)</tspan></text>
<text x="135.4" y="220.6" text-anchor="middle" font-family="'Liberation Serif', serif" font-size="11" fill="#111" stroke="none">(<tspan font-weight="bold" font-size="11.3">a</tspan>)</text>
<text x="413.0" y="216.6" text-anchor="middle" font-family="'Liberation Serif', serif" font-size="11" fill="#111" stroke="none">(<tspan font-weight="bold" font-size="11.3">b</tspan>)</text>
<text x="135.4" y="439.0" text-anchor="middle" font-family="'Liberation Serif', serif" font-size="11" fill="#111" stroke="none">(<tspan font-weight="bold" font-size="11.3">c</tspan>)</text>
<text x="412.8" y="440.6" text-anchor="middle" font-family="'Liberation Serif', serif" font-size="11" fill="#111" stroke="none">(<tspan font-weight="bold" font-size="11.3">d</tspan>)</text>
</svg></body></html>
